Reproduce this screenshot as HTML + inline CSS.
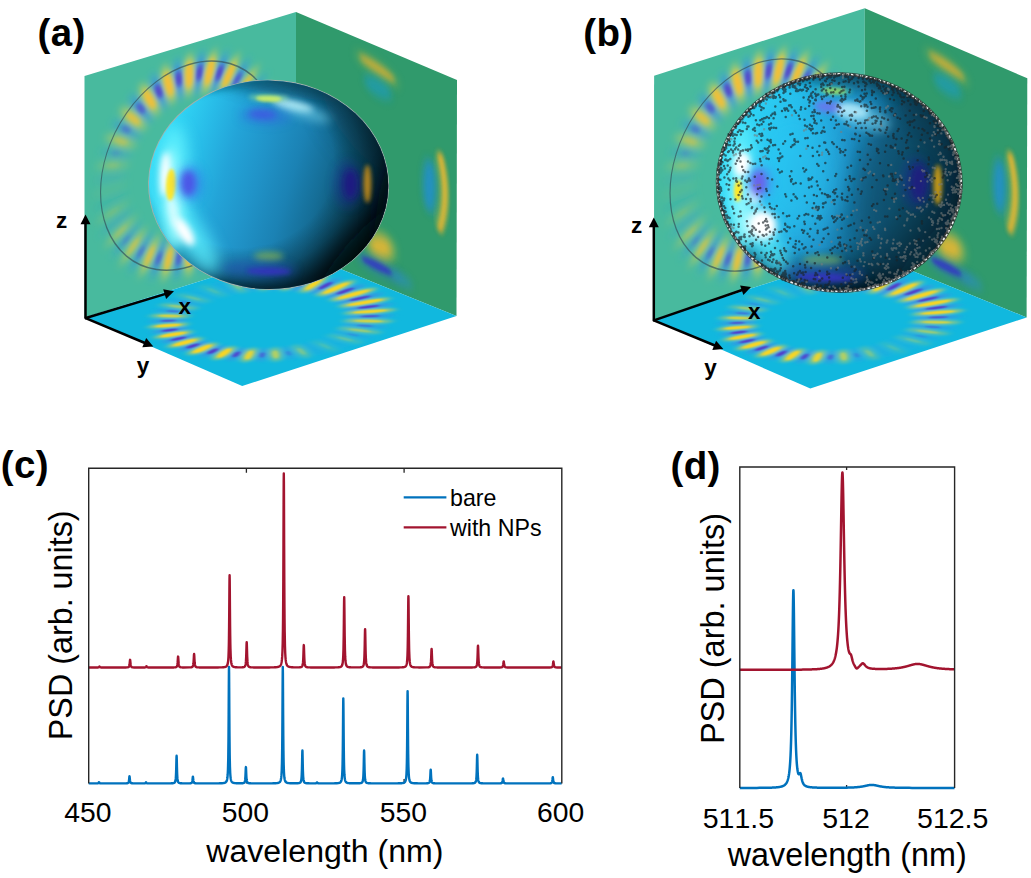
<!DOCTYPE html>
<html><head><meta charset="utf-8"><title>figure</title>
<style>
html,body{margin:0;padding:0;background:#fff;}
body{width:1031px;height:878px;overflow:hidden;}
svg{display:block;font-family:"Liberation Sans",sans-serif;fill:#000;font-kerning:none;}
</style></head><body>
<svg width="1031" height="878" viewBox="0 0 1031 878">
<defs>

<filter id="b1" x="-150%" y="-150%" width="400%" height="400%"><feGaussianBlur stdDeviation="1"/></filter>
<filter id="b15" x="-150%" y="-150%" width="400%" height="400%"><feGaussianBlur stdDeviation="1.6"/></filter>
<filter id="b2" x="-150%" y="-150%" width="400%" height="400%"><feGaussianBlur stdDeviation="2.2"/></filter>
<filter id="b3" x="-150%" y="-150%" width="400%" height="400%"><feGaussianBlur stdDeviation="3.2"/></filter>
<filter id="b5" x="-150%" y="-150%" width="400%" height="400%"><feGaussianBlur stdDeviation="5"/></filter>
<filter id="b8" x="-150%" y="-150%" width="400%" height="400%"><feGaussianBlur stdDeviation="8"/></filter>
<filter id="b14" x="-150%" y="-150%" width="400%" height="400%"><feGaussianBlur stdDeviation="14"/></filter>
<radialGradient id="sphA" cx="0.42" cy="0.45" r="0.62" fx="0.3" fy="0.42">
 <stop offset="0" stop-color="#2aa6d6"/><stop offset="0.45" stop-color="#1f93c4"/>
 <stop offset="0.8" stop-color="#136f96"/><stop offset="1" stop-color="#0a4058"/>
</radialGradient>

</defs>
<rect width="1031" height="878" fill="#fff"/>
<g id="pa">
<clipPath id="palw"><polygon points="84.5,76 296,12 296,251 84.5,317.5"/></clipPath>
<polygon points="84.5,76 296,12 296,251 84.5,317.5" fill="#48BA9E"/>
<g clip-path="url(#palw)"><g transform="matrix(0.88125 -0.26667 0.00000 1.00625 84.5 76)">
<g filter="url(#b3)"><ellipse cx="208.7" cy="120.5" rx="23.4" ry="5.7" transform="rotate(0.0 208.7 120.5)" fill="#b9cc66" opacity="0.04"/><ellipse cx="207.9" cy="132.2" rx="23.4" ry="5.5" transform="rotate(7.5 207.9 132.2)" fill="#3f9fdc" opacity="0.04"/><ellipse cx="205.6" cy="143.8" rx="23.4" ry="5.7" transform="rotate(15.0 205.6 143.8)" fill="#b9cc66" opacity="0.07"/><ellipse cx="201.8" cy="154.9" rx="23.4" ry="5.5" transform="rotate(22.5 201.8 154.9)" fill="#3f9fdc" opacity="0.09"/><ellipse cx="196.6" cy="165.5" rx="23.4" ry="5.7" transform="rotate(30.0 196.6 165.5)" fill="#b9cc66" opacity="0.15"/><ellipse cx="190.1" cy="175.3" rx="23.4" ry="5.5" transform="rotate(37.5 190.1 175.3)" fill="#3f9fdc" opacity="0.17"/><ellipse cx="182.3" cy="184.1" rx="23.4" ry="5.7" transform="rotate(45.0 182.3 184.1)" fill="#b9cc66" opacity="0.23"/><ellipse cx="173.5" cy="191.9" rx="23.4" ry="5.5" transform="rotate(52.5 173.5 191.9)" fill="#3f9fdc" opacity="0.25"/><ellipse cx="163.7" cy="198.4" rx="23.4" ry="5.7" transform="rotate(60.0 163.7 198.4)" fill="#b9cc66" opacity="0.31"/><ellipse cx="153.1" cy="203.6" rx="23.4" ry="5.5" transform="rotate(67.5 153.1 203.6)" fill="#3f9fdc" opacity="0.31"/><ellipse cx="142.0" cy="207.4" rx="23.4" ry="5.7" transform="rotate(75.0 142.0 207.4)" fill="#b9cc66" opacity="0.37"/><ellipse cx="130.4" cy="209.7" rx="23.4" ry="5.5" transform="rotate(82.5 130.4 209.7)" fill="#3f9fdc" opacity="0.35"/><ellipse cx="118.7" cy="210.5" rx="23.4" ry="5.7" transform="rotate(90.0 118.7 210.5)" fill="#b9cc66" opacity="0.39"/><ellipse cx="107.0" cy="209.7" rx="23.4" ry="5.5" transform="rotate(97.5 107.0 209.7)" fill="#3f9fdc" opacity="0.35"/><ellipse cx="95.4" cy="207.4" rx="23.4" ry="5.7" transform="rotate(105.0 95.4 207.4)" fill="#b9cc66" opacity="0.37"/><ellipse cx="84.3" cy="203.6" rx="23.4" ry="5.5" transform="rotate(112.5 84.3 203.6)" fill="#3f9fdc" opacity="0.31"/><ellipse cx="73.7" cy="198.4" rx="23.4" ry="5.7" transform="rotate(120.0 73.7 198.4)" fill="#b9cc66" opacity="0.31"/><ellipse cx="63.9" cy="191.9" rx="23.4" ry="5.5" transform="rotate(127.5 63.9 191.9)" fill="#3f9fdc" opacity="0.25"/><ellipse cx="55.1" cy="184.1" rx="23.4" ry="5.7" transform="rotate(135.0 55.1 184.1)" fill="#b9cc66" opacity="0.23"/><ellipse cx="47.3" cy="175.3" rx="23.4" ry="5.5" transform="rotate(142.5 47.3 175.3)" fill="#3f9fdc" opacity="0.17"/><ellipse cx="40.8" cy="165.5" rx="23.4" ry="5.7" transform="rotate(150.0 40.8 165.5)" fill="#b9cc66" opacity="0.15"/><ellipse cx="35.6" cy="154.9" rx="23.4" ry="5.5" transform="rotate(157.5 35.6 154.9)" fill="#3f9fdc" opacity="0.09"/><ellipse cx="31.8" cy="143.8" rx="23.4" ry="5.7" transform="rotate(165.0 31.8 143.8)" fill="#b9cc66" opacity="0.07"/><ellipse cx="29.5" cy="132.2" rx="23.4" ry="5.5" transform="rotate(172.5 29.5 132.2)" fill="#3f9fdc" opacity="0.04"/><ellipse cx="28.7" cy="120.5" rx="23.4" ry="5.7" transform="rotate(180.0 28.7 120.5)" fill="#b9cc66" opacity="0.03"/><ellipse cx="29.5" cy="108.8" rx="23.4" ry="5.5" transform="rotate(187.5 29.5 108.8)" fill="#3f9fdc" opacity="0.05"/><ellipse cx="31.8" cy="97.2" rx="23.4" ry="5.7" transform="rotate(195.0 31.8 97.2)" fill="#b9cc66" opacity="0.10"/><ellipse cx="35.6" cy="86.1" rx="23.4" ry="5.5" transform="rotate(202.5 35.6 86.1)" fill="#3f9fdc" opacity="0.13"/><ellipse cx="40.8" cy="75.5" rx="23.4" ry="5.7" transform="rotate(210.0 40.8 75.5)" fill="#b9cc66" opacity="0.21"/><ellipse cx="47.3" cy="65.7" rx="23.4" ry="5.5" transform="rotate(217.5 47.3 65.7)" fill="#3f9fdc" opacity="0.25"/><ellipse cx="55.1" cy="56.9" rx="23.4" ry="5.7" transform="rotate(225.0 55.1 56.9)" fill="#b9cc66" opacity="0.33"/><ellipse cx="63.9" cy="49.1" rx="23.4" ry="5.5" transform="rotate(232.5 63.9 49.1)" fill="#3f9fdc" opacity="0.36"/><ellipse cx="73.7" cy="42.6" rx="23.4" ry="5.7" transform="rotate(240.0 73.7 42.6)" fill="#b9cc66" opacity="0.44"/><ellipse cx="84.3" cy="37.4" rx="23.4" ry="5.5" transform="rotate(247.5 84.3 37.4)" fill="#3f9fdc" opacity="0.44"/><ellipse cx="95.4" cy="33.6" rx="23.4" ry="5.7" transform="rotate(255.0 95.4 33.6)" fill="#b9cc66" opacity="0.52"/><ellipse cx="107.0" cy="31.3" rx="23.4" ry="5.5" transform="rotate(262.5 107.0 31.3)" fill="#3f9fdc" opacity="0.49"/><ellipse cx="118.7" cy="30.5" rx="23.4" ry="5.7" transform="rotate(270.0 118.7 30.5)" fill="#b9cc66" opacity="0.55"/><ellipse cx="130.4" cy="31.3" rx="23.4" ry="5.5" transform="rotate(277.5 130.4 31.3)" fill="#3f9fdc" opacity="0.49"/><ellipse cx="142.0" cy="33.6" rx="23.4" ry="5.7" transform="rotate(285.0 142.0 33.6)" fill="#b9cc66" opacity="0.52"/><ellipse cx="153.1" cy="37.4" rx="23.4" ry="5.5" transform="rotate(292.5 153.1 37.4)" fill="#3f9fdc" opacity="0.44"/><ellipse cx="163.7" cy="42.6" rx="23.4" ry="5.7" transform="rotate(300.0 163.7 42.6)" fill="#b9cc66" opacity="0.44"/><ellipse cx="173.5" cy="49.1" rx="23.4" ry="5.5" transform="rotate(307.5 173.5 49.1)" fill="#3f9fdc" opacity="0.36"/><ellipse cx="182.3" cy="56.9" rx="23.4" ry="5.7" transform="rotate(315.0 182.3 56.9)" fill="#b9cc66" opacity="0.33"/><ellipse cx="190.1" cy="65.7" rx="23.4" ry="5.5" transform="rotate(322.5 190.1 65.7)" fill="#3f9fdc" opacity="0.25"/><ellipse cx="196.6" cy="75.5" rx="23.4" ry="5.7" transform="rotate(330.0 196.6 75.5)" fill="#b9cc66" opacity="0.21"/><ellipse cx="201.8" cy="86.1" rx="23.4" ry="5.5" transform="rotate(337.5 201.8 86.1)" fill="#3f9fdc" opacity="0.13"/><ellipse cx="205.6" cy="97.2" rx="23.4" ry="5.7" transform="rotate(345.0 205.6 97.2)" fill="#b9cc66" opacity="0.10"/><ellipse cx="207.9" cy="108.8" rx="23.4" ry="5.5" transform="rotate(352.5 207.9 108.8)" fill="#3f9fdc" opacity="0.05"/></g><g filter="url(#b3)"><ellipse cx="208.7" cy="120.5" rx="17.0" ry="5.5" transform="rotate(0.0 208.7 120.5)" fill="#cfd058" opacity="0.06"/><ellipse cx="207.9" cy="132.2" rx="15.6" ry="4.8" transform="rotate(7.5 207.9 132.2)" fill="#3a8ee4" opacity="0.06"/><ellipse cx="205.6" cy="143.8" rx="17.0" ry="5.5" transform="rotate(15.0 205.6 143.8)" fill="#cfd058" opacity="0.11"/><ellipse cx="201.8" cy="154.9" rx="15.6" ry="4.8" transform="rotate(22.5 201.8 154.9)" fill="#3a8ee4" opacity="0.15"/><ellipse cx="196.6" cy="165.5" rx="17.0" ry="5.5" transform="rotate(30.0 196.6 165.5)" fill="#cfd058" opacity="0.24"/><ellipse cx="190.1" cy="175.3" rx="15.6" ry="4.8" transform="rotate(37.5 190.1 175.3)" fill="#3a8ee4" opacity="0.27"/><ellipse cx="182.3" cy="184.1" rx="17.0" ry="5.5" transform="rotate(45.0 182.3 184.1)" fill="#cfd058" opacity="0.38"/><ellipse cx="173.5" cy="191.9" rx="15.6" ry="4.8" transform="rotate(52.5 173.5 191.9)" fill="#3a8ee4" opacity="0.40"/><ellipse cx="163.7" cy="198.4" rx="17.0" ry="5.5" transform="rotate(60.0 163.7 198.4)" fill="#cfd058" opacity="0.51"/><ellipse cx="153.1" cy="203.6" rx="15.6" ry="4.8" transform="rotate(67.5 153.1 203.6)" fill="#3a8ee4" opacity="0.50"/><ellipse cx="142.0" cy="207.4" rx="17.0" ry="5.5" transform="rotate(75.0 142.0 207.4)" fill="#cfd058" opacity="0.60"/><ellipse cx="130.4" cy="209.7" rx="15.6" ry="4.8" transform="rotate(82.5 130.4 209.7)" fill="#3a8ee4" opacity="0.55"/><ellipse cx="118.7" cy="210.5" rx="17.0" ry="5.5" transform="rotate(90.0 118.7 210.5)" fill="#cfd058" opacity="0.63"/><ellipse cx="107.0" cy="209.7" rx="15.6" ry="4.8" transform="rotate(97.5 107.0 209.7)" fill="#3a8ee4" opacity="0.55"/><ellipse cx="95.4" cy="207.4" rx="17.0" ry="5.5" transform="rotate(105.0 95.4 207.4)" fill="#cfd058" opacity="0.60"/><ellipse cx="84.3" cy="203.6" rx="15.6" ry="4.8" transform="rotate(112.5 84.3 203.6)" fill="#3a8ee4" opacity="0.50"/><ellipse cx="73.7" cy="198.4" rx="17.0" ry="5.5" transform="rotate(120.0 73.7 198.4)" fill="#cfd058" opacity="0.51"/><ellipse cx="63.9" cy="191.9" rx="15.6" ry="4.8" transform="rotate(127.5 63.9 191.9)" fill="#3a8ee4" opacity="0.40"/><ellipse cx="55.1" cy="184.1" rx="17.0" ry="5.5" transform="rotate(135.0 55.1 184.1)" fill="#cfd058" opacity="0.38"/><ellipse cx="47.3" cy="175.3" rx="15.6" ry="4.8" transform="rotate(142.5 47.3 175.3)" fill="#3a8ee4" opacity="0.27"/><ellipse cx="40.8" cy="165.5" rx="17.0" ry="5.5" transform="rotate(150.0 40.8 165.5)" fill="#cfd058" opacity="0.24"/><ellipse cx="35.6" cy="154.9" rx="15.6" ry="4.8" transform="rotate(157.5 35.6 154.9)" fill="#3a8ee4" opacity="0.15"/><ellipse cx="31.8" cy="143.8" rx="17.0" ry="5.5" transform="rotate(165.0 31.8 143.8)" fill="#cfd058" opacity="0.11"/><ellipse cx="29.5" cy="132.2" rx="15.6" ry="4.8" transform="rotate(172.5 29.5 132.2)" fill="#3a8ee4" opacity="0.06"/><ellipse cx="28.7" cy="120.5" rx="17.0" ry="5.5" transform="rotate(180.0 28.7 120.5)" fill="#cfd058" opacity="0.04"/><ellipse cx="29.5" cy="108.8" rx="15.6" ry="4.8" transform="rotate(187.5 29.5 108.8)" fill="#3a8ee4" opacity="0.08"/><ellipse cx="31.8" cy="97.2" rx="17.0" ry="5.5" transform="rotate(195.0 31.8 97.2)" fill="#cfd058" opacity="0.16"/><ellipse cx="35.6" cy="86.1" rx="15.6" ry="4.8" transform="rotate(202.5 35.6 86.1)" fill="#3a8ee4" opacity="0.22"/><ellipse cx="40.8" cy="75.5" rx="17.0" ry="5.5" transform="rotate(210.0 40.8 75.5)" fill="#cfd058" opacity="0.34"/><ellipse cx="47.3" cy="65.7" rx="15.6" ry="4.8" transform="rotate(217.5 47.3 65.7)" fill="#3a8ee4" opacity="0.39"/><ellipse cx="55.1" cy="56.9" rx="17.0" ry="5.5" transform="rotate(225.0 55.1 56.9)" fill="#cfd058" opacity="0.54"/><ellipse cx="63.9" cy="49.1" rx="15.6" ry="4.8" transform="rotate(232.5 63.9 49.1)" fill="#3a8ee4" opacity="0.57"/><ellipse cx="73.7" cy="42.6" rx="17.0" ry="5.5" transform="rotate(240.0 73.7 42.6)" fill="#cfd058" opacity="0.73"/><ellipse cx="84.3" cy="37.4" rx="15.6" ry="4.8" transform="rotate(247.5 84.3 37.4)" fill="#3a8ee4" opacity="0.71"/><ellipse cx="95.4" cy="33.6" rx="17.0" ry="5.5" transform="rotate(255.0 95.4 33.6)" fill="#cfd058" opacity="0.85"/><ellipse cx="107.0" cy="31.3" rx="15.6" ry="4.8" transform="rotate(262.5 107.0 31.3)" fill="#3a8ee4" opacity="0.79"/><ellipse cx="118.7" cy="30.5" rx="17.0" ry="5.5" transform="rotate(270.0 118.7 30.5)" fill="#cfd058" opacity="0.90"/><ellipse cx="130.4" cy="31.3" rx="15.6" ry="4.8" transform="rotate(277.5 130.4 31.3)" fill="#3a8ee4" opacity="0.79"/><ellipse cx="142.0" cy="33.6" rx="17.0" ry="5.5" transform="rotate(285.0 142.0 33.6)" fill="#cfd058" opacity="0.85"/><ellipse cx="153.1" cy="37.4" rx="15.6" ry="4.8" transform="rotate(292.5 153.1 37.4)" fill="#3a8ee4" opacity="0.71"/><ellipse cx="163.7" cy="42.6" rx="17.0" ry="5.5" transform="rotate(300.0 163.7 42.6)" fill="#cfd058" opacity="0.73"/><ellipse cx="173.5" cy="49.1" rx="15.6" ry="4.8" transform="rotate(307.5 173.5 49.1)" fill="#3a8ee4" opacity="0.57"/><ellipse cx="182.3" cy="56.9" rx="17.0" ry="5.5" transform="rotate(315.0 182.3 56.9)" fill="#cfd058" opacity="0.54"/><ellipse cx="190.1" cy="65.7" rx="15.6" ry="4.8" transform="rotate(322.5 190.1 65.7)" fill="#3a8ee4" opacity="0.39"/><ellipse cx="196.6" cy="75.5" rx="17.0" ry="5.5" transform="rotate(330.0 196.6 75.5)" fill="#cfd058" opacity="0.34"/><ellipse cx="201.8" cy="86.1" rx="15.6" ry="4.8" transform="rotate(337.5 201.8 86.1)" fill="#3a8ee4" opacity="0.22"/><ellipse cx="205.6" cy="97.2" rx="17.0" ry="5.5" transform="rotate(345.0 205.6 97.2)" fill="#cfd058" opacity="0.16"/><ellipse cx="207.9" cy="108.8" rx="15.6" ry="4.8" transform="rotate(352.5 207.9 108.8)" fill="#3a8ee4" opacity="0.08"/></g><g filter="url(#b2)"><ellipse cx="205.6" cy="143.8" rx="7.8" ry="2.3" transform="rotate(15.0 205.6 143.8)" fill="#dcc743" opacity="0.17"/><ellipse cx="196.6" cy="165.5" rx="8.7" ry="2.6" transform="rotate(30.0 196.6 165.5)" fill="#e1c540" opacity="0.37"/><ellipse cx="190.1" cy="175.3" rx="5.7" ry="2.0" transform="rotate(37.5 190.1 175.3)" fill="#4857d7" opacity="0.41"/><ellipse cx="182.3" cy="184.1" rx="9.7" ry="2.9" transform="rotate(45.0 182.3 184.1)" fill="#e7c33d" opacity="0.59"/><ellipse cx="173.5" cy="191.9" rx="6.4" ry="2.3" transform="rotate(52.5 173.5 191.9)" fill="#4c4dd2" opacity="0.60"/><ellipse cx="163.7" cy="198.4" rx="10.6" ry="3.1" transform="rotate(60.0 163.7 198.4)" fill="#ecc13a" opacity="0.79"/><ellipse cx="153.1" cy="203.6" rx="6.9" ry="2.5" transform="rotate(67.5 153.1 203.6)" fill="#4f44ce" opacity="0.75"/><ellipse cx="142.0" cy="207.4" rx="11.2" ry="3.3" transform="rotate(75.0 142.0 207.4)" fill="#f0c038" opacity="0.93"/><ellipse cx="130.4" cy="209.7" rx="7.2" ry="2.6" transform="rotate(82.5 130.4 209.7)" fill="#5140cc" opacity="0.83"/><ellipse cx="118.7" cy="210.5" rx="11.5" ry="3.4" transform="rotate(90.0 118.7 210.5)" fill="#f1c037" opacity="0.98"/><ellipse cx="107.0" cy="209.7" rx="7.2" ry="2.6" transform="rotate(97.5 107.0 209.7)" fill="#5140cc" opacity="0.83"/><ellipse cx="95.4" cy="207.4" rx="11.2" ry="3.3" transform="rotate(105.0 95.4 207.4)" fill="#f0c038" opacity="0.93"/><ellipse cx="84.3" cy="203.6" rx="6.9" ry="2.5" transform="rotate(112.5 84.3 203.6)" fill="#4f44ce" opacity="0.75"/><ellipse cx="73.7" cy="198.4" rx="10.6" ry="3.1" transform="rotate(120.0 73.7 198.4)" fill="#ecc13a" opacity="0.79"/><ellipse cx="63.9" cy="191.9" rx="6.4" ry="2.3" transform="rotate(127.5 63.9 191.9)" fill="#4c4dd2" opacity="0.60"/><ellipse cx="55.1" cy="184.1" rx="9.7" ry="2.9" transform="rotate(135.0 55.1 184.1)" fill="#e7c33d" opacity="0.59"/><ellipse cx="47.3" cy="175.3" rx="5.7" ry="2.0" transform="rotate(142.5 47.3 175.3)" fill="#4857d7" opacity="0.41"/><ellipse cx="40.8" cy="165.5" rx="8.7" ry="2.6" transform="rotate(150.0 40.8 165.5)" fill="#e1c540" opacity="0.37"/><ellipse cx="31.8" cy="143.8" rx="7.8" ry="2.3" transform="rotate(165.0 31.8 143.8)" fill="#dcc743" opacity="0.17"/><ellipse cx="31.8" cy="97.2" rx="8.1" ry="2.4" transform="rotate(195.0 31.8 97.2)" fill="#dec642" opacity="0.25"/><ellipse cx="35.6" cy="86.1" rx="5.3" ry="1.9" transform="rotate(202.5 35.6 86.1)" fill="#465cd9" opacity="0.32"/><ellipse cx="40.8" cy="75.5" rx="9.4" ry="2.8" transform="rotate(210.0 40.8 75.5)" fill="#e5c33e" opacity="0.53"/><ellipse cx="47.3" cy="65.7" rx="6.3" ry="2.3" transform="rotate(217.5 47.3 65.7)" fill="#4c4dd2" opacity="0.59"/><ellipse cx="55.1" cy="56.9" rx="10.9" ry="3.2" transform="rotate(225.0 55.1 56.9)" fill="#edc139" opacity="0.85"/><ellipse cx="63.9" cy="49.1" rx="7.3" ry="2.6" transform="rotate(232.5 63.9 49.1)" fill="#513ecc" opacity="0.85"/><ellipse cx="73.7" cy="42.6" rx="12.1" ry="3.6" transform="rotate(240.0 73.7 42.6)" fill="#f5be35" opacity="1.00"/><ellipse cx="84.3" cy="37.4" rx="8.1" ry="2.9" transform="rotate(247.5 84.3 37.4)" fill="#5436c8" opacity="1.00"/><ellipse cx="95.4" cy="33.6" rx="12.8" ry="3.8" transform="rotate(255.0 95.4 33.6)" fill="#f6be34" opacity="1.00"/><ellipse cx="107.0" cy="31.3" rx="8.2" ry="2.9" transform="rotate(262.5 107.0 31.3)" fill="#5436c8" opacity="1.00"/><ellipse cx="118.7" cy="30.5" rx="12.8" ry="3.8" transform="rotate(270.0 118.7 30.5)" fill="#f6be34" opacity="1.00"/><ellipse cx="130.4" cy="31.3" rx="8.2" ry="2.9" transform="rotate(277.5 130.4 31.3)" fill="#5436c8" opacity="1.00"/><ellipse cx="142.0" cy="33.6" rx="12.8" ry="3.8" transform="rotate(285.0 142.0 33.6)" fill="#f6be34" opacity="1.00"/><ellipse cx="153.1" cy="37.4" rx="8.1" ry="2.9" transform="rotate(292.5 153.1 37.4)" fill="#5436c8" opacity="1.00"/><ellipse cx="163.7" cy="42.6" rx="12.1" ry="3.6" transform="rotate(300.0 163.7 42.6)" fill="#f5be35" opacity="1.00"/><ellipse cx="173.5" cy="49.1" rx="7.3" ry="2.6" transform="rotate(307.5 173.5 49.1)" fill="#513ecc" opacity="0.85"/><ellipse cx="182.3" cy="56.9" rx="10.9" ry="3.2" transform="rotate(315.0 182.3 56.9)" fill="#edc139" opacity="0.85"/><ellipse cx="190.1" cy="65.7" rx="6.3" ry="2.3" transform="rotate(322.5 190.1 65.7)" fill="#4c4dd2" opacity="0.59"/><ellipse cx="196.6" cy="75.5" rx="9.4" ry="2.8" transform="rotate(330.0 196.6 75.5)" fill="#e5c33e" opacity="0.53"/><ellipse cx="201.8" cy="86.1" rx="5.3" ry="1.9" transform="rotate(337.5 201.8 86.1)" fill="#465cd9" opacity="0.32"/><ellipse cx="205.6" cy="97.2" rx="8.1" ry="2.4" transform="rotate(345.0 205.6 97.2)" fill="#dec642" opacity="0.25"/></g>
<circle cx="118.7" cy="120.5" r="100.5" fill="none" stroke="#34565e" stroke-width="1.3" opacity="0.72"/>
</g></g>
<clipPath id="parw"><polygon points="296,12 457,80 456.5,316 296,251"/></clipPath>
<polygon points="296,12 457,80 456.5,316 296,251" fill="#309A6C"/>
<g clip-path="url(#parw)"><g transform="matrix(0.67083 0.28333 0.00000 0.99583 296 12)">
<ellipse cx="121" cy="22" rx="27" ry="4.6" transform="rotate(10 121 22)" fill="#eaa628" opacity="0.85" filter="url(#b3)"/><ellipse cx="121" cy="23" rx="34" ry="9" transform="rotate(10 121 23)" fill="#a8c050" opacity="0.35" filter="url(#b5)"/><ellipse cx="122" cy="41" rx="21" ry="9" transform="rotate(6 122 41)" fill="#1c9cbc" opacity="0.7" filter="url(#b5)"/><path d="M215 84Q229 120 215 156" fill="none" stroke="#f0b22c" stroke-width="8.5" stroke-linecap="round" opacity="0.95" filter="url(#b3)"/><path d="M214 92Q226 120 214 148" fill="none" stroke="#c8c850" stroke-width="16" stroke-linecap="round" opacity="0.3" filter="url(#b5)"/><ellipse cx="199" cy="118" rx="9.5" ry="27" transform="rotate(0 199 118)" fill="#2090cc" opacity="0.9" filter="url(#b5)"/><ellipse cx="126" cy="200" rx="17" ry="10.5" transform="rotate(-8 126 200)" fill="#f0ac2a" opacity="0.97" filter="url(#b5)"/><ellipse cx="126" cy="200" rx="26" ry="16" transform="rotate(-8 126 200)" fill="#b8c850" opacity="0.35" filter="url(#b5)"/><ellipse cx="121" cy="220.5" rx="23" ry="4.0" transform="rotate(3 121 220.5)" fill="#3a22b0" opacity="1" filter="url(#b2)"/><ellipse cx="124" cy="221" rx="34" ry="8" transform="rotate(3 124 221)" fill="#2a6fd0" opacity="0.45" filter="url(#b5)"/><ellipse cx="158" cy="224" rx="16" ry="6" transform="rotate(3 158 224)" fill="#2a8fcf" opacity="0.55" filter="url(#b5)"/>
</g></g>
<clipPath id="pafl"><polygon points="84.5,317.5 296,251 456.5,316 242.2,386"/></clipPath>
<polygon points="84.5,317.5 296,251 456.5,316 242.2,386" fill="#11B8DE"/>
<g clip-path="url(#pafl)"><g transform="matrix(0.88125 -0.27708 0.65708 0.28542 84.5 317.5)">
<g filter="url(#b3)"><ellipse cx="211.9" cy="125.0" rx="25.0" ry="5.3" transform="rotate(3.1 211.9 125.0)" fill="#b9cc66" opacity="0.55"/><ellipse cx="210.4" cy="136.9" rx="24.9" ry="5.1" transform="rotate(10.6 210.4 136.9)" fill="#3f9fdc" opacity="0.49"/><ellipse cx="207.4" cy="148.6" rx="24.8" ry="5.3" transform="rotate(18.1 207.4 148.6)" fill="#b9cc66" opacity="0.51"/><ellipse cx="203.0" cy="159.8" rx="24.6" ry="5.1" transform="rotate(25.6 203.0 159.8)" fill="#3f9fdc" opacity="0.44"/><ellipse cx="197.1" cy="170.2" rx="24.4" ry="5.3" transform="rotate(33.1 197.1 170.2)" fill="#b9cc66" opacity="0.44"/><ellipse cx="189.9" cy="179.9" rx="24.2" ry="5.1" transform="rotate(40.6 189.9 179.9)" fill="#3f9fdc" opacity="0.35"/><ellipse cx="181.4" cy="188.5" rx="23.9" ry="5.3" transform="rotate(48.1 181.4 188.5)" fill="#b9cc66" opacity="0.33"/><ellipse cx="172.0" cy="195.9" rx="23.5" ry="5.1" transform="rotate(55.6 172.0 195.9)" fill="#3f9fdc" opacity="0.25"/><ellipse cx="161.6" cy="202.0" rx="23.1" ry="5.3" transform="rotate(63.1 161.6 202.0)" fill="#b9cc66" opacity="0.21"/><ellipse cx="150.6" cy="206.8" rx="22.7" ry="5.1" transform="rotate(70.6 150.6 206.8)" fill="#3f9fdc" opacity="0.14"/><ellipse cx="139.0" cy="210.0" rx="22.3" ry="5.3" transform="rotate(78.1 139.0 210.0)" fill="#b9cc66" opacity="0.11"/><ellipse cx="127.1" cy="211.7" rx="21.9" ry="5.1" transform="rotate(85.6 127.1 211.7)" fill="#3f9fdc" opacity="0.07"/><ellipse cx="115.0" cy="211.9" rx="21.4" ry="5.3" transform="rotate(93.1 115.0 211.9)" fill="#b9cc66" opacity="0.07"/><ellipse cx="103.1" cy="210.4" rx="21.0" ry="5.1" transform="rotate(100.6 103.1 210.4)" fill="#3f9fdc" opacity="0.09"/><ellipse cx="91.4" cy="207.4" rx="20.6" ry="5.3" transform="rotate(108.1 91.4 207.4)" fill="#b9cc66" opacity="0.15"/><ellipse cx="80.2" cy="203.0" rx="20.1" ry="5.1" transform="rotate(115.6 80.2 203.0)" fill="#3f9fdc" opacity="0.18"/><ellipse cx="69.8" cy="197.1" rx="19.8" ry="5.3" transform="rotate(123.1 69.8 197.1)" fill="#b9cc66" opacity="0.26"/><ellipse cx="60.1" cy="189.9" rx="19.4" ry="5.1" transform="rotate(130.6 60.1 189.9)" fill="#3f9fdc" opacity="0.29"/><ellipse cx="51.5" cy="181.4" rx="19.1" ry="5.3" transform="rotate(138.1 51.5 181.4)" fill="#b9cc66" opacity="0.38"/><ellipse cx="44.1" cy="172.0" rx="18.8" ry="5.1" transform="rotate(145.6 44.1 172.0)" fill="#3f9fdc" opacity="0.39"/><ellipse cx="38.0" cy="161.6" rx="18.6" ry="5.3" transform="rotate(153.1 38.0 161.6)" fill="#b9cc66" opacity="0.47"/><ellipse cx="33.2" cy="150.6" rx="18.4" ry="5.1" transform="rotate(160.6 33.2 150.6)" fill="#3f9fdc" opacity="0.46"/><ellipse cx="30.0" cy="139.0" rx="18.3" ry="5.3" transform="rotate(168.1 30.0 139.0)" fill="#b9cc66" opacity="0.53"/><ellipse cx="28.3" cy="127.1" rx="18.2" ry="5.1" transform="rotate(175.6 28.3 127.1)" fill="#3f9fdc" opacity="0.50"/><ellipse cx="28.1" cy="115.0" rx="18.2" ry="5.3" transform="rotate(183.1 28.1 115.0)" fill="#b9cc66" opacity="0.55"/><ellipse cx="29.6" cy="103.1" rx="18.3" ry="5.1" transform="rotate(190.6 29.6 103.1)" fill="#3f9fdc" opacity="0.49"/><ellipse cx="32.6" cy="91.4" rx="18.4" ry="5.3" transform="rotate(198.1 32.6 91.4)" fill="#b9cc66" opacity="0.51"/><ellipse cx="37.0" cy="80.2" rx="18.6" ry="5.1" transform="rotate(205.6 37.0 80.2)" fill="#3f9fdc" opacity="0.44"/><ellipse cx="42.9" cy="69.8" rx="18.8" ry="5.3" transform="rotate(213.1 42.9 69.8)" fill="#b9cc66" opacity="0.44"/><ellipse cx="50.1" cy="60.1" rx="19.0" ry="5.1" transform="rotate(220.6 50.1 60.1)" fill="#3f9fdc" opacity="0.35"/><ellipse cx="58.6" cy="51.5" rx="19.3" ry="5.3" transform="rotate(228.1 58.6 51.5)" fill="#b9cc66" opacity="0.33"/><ellipse cx="68.0" cy="44.1" rx="19.7" ry="5.1" transform="rotate(235.6 68.0 44.1)" fill="#3f9fdc" opacity="0.25"/><ellipse cx="78.4" cy="38.0" rx="20.1" ry="5.3" transform="rotate(243.1 78.4 38.0)" fill="#b9cc66" opacity="0.21"/><ellipse cx="89.4" cy="33.2" rx="20.5" ry="5.1" transform="rotate(250.6 89.4 33.2)" fill="#3f9fdc" opacity="0.14"/><ellipse cx="101.0" cy="30.0" rx="20.9" ry="5.3" transform="rotate(258.1 101.0 30.0)" fill="#b9cc66" opacity="0.11"/><ellipse cx="112.9" cy="28.3" rx="21.3" ry="5.1" transform="rotate(265.6 112.9 28.3)" fill="#3f9fdc" opacity="0.07"/><ellipse cx="125.0" cy="28.1" rx="21.8" ry="5.3" transform="rotate(273.1 125.0 28.1)" fill="#b9cc66" opacity="0.07"/><ellipse cx="136.9" cy="29.6" rx="22.2" ry="5.1" transform="rotate(280.6 136.9 29.6)" fill="#3f9fdc" opacity="0.09"/><ellipse cx="148.6" cy="32.6" rx="22.6" ry="5.3" transform="rotate(288.1 148.6 32.6)" fill="#b9cc66" opacity="0.15"/><ellipse cx="159.8" cy="37.0" rx="23.1" ry="5.1" transform="rotate(295.6 159.8 37.0)" fill="#3f9fdc" opacity="0.18"/><ellipse cx="170.2" cy="42.9" rx="23.4" ry="5.3" transform="rotate(303.1 170.2 42.9)" fill="#b9cc66" opacity="0.26"/><ellipse cx="179.9" cy="50.1" rx="23.8" ry="5.1" transform="rotate(310.6 179.9 50.1)" fill="#3f9fdc" opacity="0.29"/><ellipse cx="188.5" cy="58.6" rx="24.1" ry="5.3" transform="rotate(318.1 188.5 58.6)" fill="#b9cc66" opacity="0.38"/><ellipse cx="195.9" cy="68.0" rx="24.4" ry="5.1" transform="rotate(325.6 195.9 68.0)" fill="#3f9fdc" opacity="0.39"/><ellipse cx="202.0" cy="78.4" rx="24.6" ry="5.3" transform="rotate(333.1 202.0 78.4)" fill="#b9cc66" opacity="0.47"/><ellipse cx="206.8" cy="89.4" rx="24.8" ry="5.1" transform="rotate(340.6 206.8 89.4)" fill="#3f9fdc" opacity="0.46"/><ellipse cx="210.0" cy="101.0" rx="24.9" ry="5.3" transform="rotate(348.1 210.0 101.0)" fill="#b9cc66" opacity="0.53"/><ellipse cx="211.7" cy="112.9" rx="25.0" ry="5.1" transform="rotate(355.6 211.7 112.9)" fill="#3f9fdc" opacity="0.50"/></g><g filter="url(#b3)"><ellipse cx="211.9" cy="125.0" rx="22.2" ry="5.1" transform="rotate(3.1 211.9 125.0)" fill="#cfd058" opacity="0.90"/><ellipse cx="210.4" cy="136.9" rx="20.3" ry="4.5" transform="rotate(10.6 210.4 136.9)" fill="#3a8ee4" opacity="0.78"/><ellipse cx="207.4" cy="148.6" rx="22.1" ry="5.1" transform="rotate(18.1 207.4 148.6)" fill="#cfd058" opacity="0.84"/><ellipse cx="203.0" cy="159.8" rx="20.1" ry="4.5" transform="rotate(25.6 203.0 159.8)" fill="#3a8ee4" opacity="0.70"/><ellipse cx="197.1" cy="170.2" rx="21.7" ry="5.1" transform="rotate(33.1 197.1 170.2)" fill="#cfd058" opacity="0.72"/><ellipse cx="189.9" cy="179.9" rx="19.7" ry="4.5" transform="rotate(40.6 189.9 179.9)" fill="#3a8ee4" opacity="0.56"/><ellipse cx="181.4" cy="188.5" rx="21.2" ry="5.1" transform="rotate(48.1 181.4 188.5)" fill="#cfd058" opacity="0.54"/><ellipse cx="172.0" cy="195.9" rx="19.2" ry="4.5" transform="rotate(55.6 172.0 195.9)" fill="#3a8ee4" opacity="0.39"/><ellipse cx="161.6" cy="202.0" rx="20.6" ry="5.1" transform="rotate(63.1 161.6 202.0)" fill="#cfd058" opacity="0.35"/><ellipse cx="150.6" cy="206.8" rx="18.5" ry="4.5" transform="rotate(70.6 150.6 206.8)" fill="#3a8ee4" opacity="0.23"/><ellipse cx="139.0" cy="210.0" rx="19.8" ry="5.1" transform="rotate(78.1 139.0 210.0)" fill="#cfd058" opacity="0.18"/><ellipse cx="127.1" cy="211.7" rx="17.8" ry="4.5" transform="rotate(85.6 127.1 211.7)" fill="#3a8ee4" opacity="0.11"/><ellipse cx="115.0" cy="211.9" rx="19.0" ry="5.1" transform="rotate(93.1 115.0 211.9)" fill="#cfd058" opacity="0.12"/><ellipse cx="103.1" cy="210.4" rx="17.1" ry="4.5" transform="rotate(100.6 103.1 210.4)" fill="#3a8ee4" opacity="0.15"/><ellipse cx="91.4" cy="207.4" rx="18.3" ry="5.1" transform="rotate(108.1 91.4 207.4)" fill="#cfd058" opacity="0.25"/><ellipse cx="80.2" cy="203.0" rx="16.4" ry="4.5" transform="rotate(115.6 80.2 203.0)" fill="#3a8ee4" opacity="0.30"/><ellipse cx="69.8" cy="197.1" rx="17.6" ry="5.1" transform="rotate(123.1 69.8 197.1)" fill="#cfd058" opacity="0.43"/><ellipse cx="60.1" cy="189.9" rx="15.8" ry="4.5" transform="rotate(130.6 60.1 189.9)" fill="#3a8ee4" opacity="0.47"/><ellipse cx="51.5" cy="181.4" rx="17.0" ry="5.1" transform="rotate(138.1 51.5 181.4)" fill="#cfd058" opacity="0.62"/><ellipse cx="44.1" cy="172.0" rx="15.3" ry="4.5" transform="rotate(145.6 44.1 172.0)" fill="#3a8ee4" opacity="0.62"/><ellipse cx="38.0" cy="161.6" rx="16.5" ry="5.1" transform="rotate(153.1 38.0 161.6)" fill="#cfd058" opacity="0.77"/><ellipse cx="33.2" cy="150.6" rx="15.0" ry="4.5" transform="rotate(160.6 33.2 150.6)" fill="#3a8ee4" opacity="0.74"/><ellipse cx="30.0" cy="139.0" rx="16.3" ry="5.1" transform="rotate(168.1 30.0 139.0)" fill="#cfd058" opacity="0.87"/><ellipse cx="28.3" cy="127.1" rx="14.9" ry="4.5" transform="rotate(175.6 28.3 127.1)" fill="#3a8ee4" opacity="0.80"/><ellipse cx="28.1" cy="115.0" rx="16.2" ry="5.1" transform="rotate(183.1 28.1 115.0)" fill="#cfd058" opacity="0.90"/><ellipse cx="29.6" cy="103.1" rx="14.9" ry="4.5" transform="rotate(190.6 29.6 103.1)" fill="#3a8ee4" opacity="0.78"/><ellipse cx="32.6" cy="91.4" rx="16.3" ry="5.1" transform="rotate(198.1 32.6 91.4)" fill="#cfd058" opacity="0.84"/><ellipse cx="37.0" cy="80.2" rx="15.1" ry="4.5" transform="rotate(205.6 37.0 80.2)" fill="#3a8ee4" opacity="0.70"/><ellipse cx="42.9" cy="69.8" rx="16.7" ry="5.1" transform="rotate(213.1 42.9 69.8)" fill="#cfd058" opacity="0.72"/><ellipse cx="50.1" cy="60.1" rx="15.5" ry="4.5" transform="rotate(220.6 50.1 60.1)" fill="#3a8ee4" opacity="0.56"/><ellipse cx="58.6" cy="51.5" rx="17.2" ry="5.1" transform="rotate(228.1 58.6 51.5)" fill="#cfd058" opacity="0.54"/><ellipse cx="68.0" cy="44.1" rx="16.0" ry="4.5" transform="rotate(235.6 68.0 44.1)" fill="#3a8ee4" opacity="0.39"/><ellipse cx="78.4" cy="38.0" rx="17.8" ry="5.1" transform="rotate(243.1 78.4 38.0)" fill="#cfd058" opacity="0.35"/><ellipse cx="89.4" cy="33.2" rx="16.7" ry="4.5" transform="rotate(250.6 89.4 33.2)" fill="#3a8ee4" opacity="0.23"/><ellipse cx="101.0" cy="30.0" rx="18.6" ry="5.1" transform="rotate(258.1 101.0 30.0)" fill="#cfd058" opacity="0.18"/><ellipse cx="112.9" cy="28.3" rx="17.4" ry="4.5" transform="rotate(265.6 112.9 28.3)" fill="#3a8ee4" opacity="0.11"/><ellipse cx="125.0" cy="28.1" rx="19.4" ry="5.1" transform="rotate(273.1 125.0 28.1)" fill="#cfd058" opacity="0.12"/><ellipse cx="136.9" cy="29.6" rx="18.1" ry="4.5" transform="rotate(280.6 136.9 29.6)" fill="#3a8ee4" opacity="0.15"/><ellipse cx="148.6" cy="32.6" rx="20.1" ry="5.1" transform="rotate(288.1 148.6 32.6)" fill="#cfd058" opacity="0.25"/><ellipse cx="159.8" cy="37.0" rx="18.8" ry="4.5" transform="rotate(295.6 159.8 37.0)" fill="#3a8ee4" opacity="0.30"/><ellipse cx="170.2" cy="42.9" rx="20.8" ry="5.1" transform="rotate(303.1 170.2 42.9)" fill="#cfd058" opacity="0.43"/><ellipse cx="179.9" cy="50.1" rx="19.4" ry="4.5" transform="rotate(310.6 179.9 50.1)" fill="#3a8ee4" opacity="0.47"/><ellipse cx="188.5" cy="58.6" rx="21.4" ry="5.1" transform="rotate(318.1 188.5 58.6)" fill="#cfd058" opacity="0.62"/><ellipse cx="195.9" cy="68.0" rx="19.9" ry="4.5" transform="rotate(325.6 195.9 68.0)" fill="#3a8ee4" opacity="0.62"/><ellipse cx="202.0" cy="78.4" rx="21.9" ry="5.1" transform="rotate(333.1 202.0 78.4)" fill="#cfd058" opacity="0.77"/><ellipse cx="206.8" cy="89.4" rx="20.2" ry="4.5" transform="rotate(340.6 206.8 89.4)" fill="#3a8ee4" opacity="0.74"/><ellipse cx="210.0" cy="101.0" rx="22.1" ry="5.1" transform="rotate(348.1 210.0 101.0)" fill="#cfd058" opacity="0.87"/><ellipse cx="211.7" cy="112.9" rx="20.3" ry="4.5" transform="rotate(355.6 211.7 112.9)" fill="#3a8ee4" opacity="0.80"/></g><g filter="url(#b15)"><ellipse cx="211.9" cy="125.0" rx="16.6" ry="3.5" transform="rotate(3.1 211.9 125.0)" fill="#fad622" opacity="1.00"/><ellipse cx="210.4" cy="136.9" rx="10.7" ry="2.7" transform="rotate(10.6 210.4 136.9)" fill="#5436c8" opacity="1.00"/><ellipse cx="207.4" cy="148.6" rx="16.5" ry="3.5" transform="rotate(18.1 207.4 148.6)" fill="#fad622" opacity="1.00"/><ellipse cx="203.0" cy="159.8" rx="10.4" ry="2.7" transform="rotate(25.6 203.0 159.8)" fill="#5436c8" opacity="1.00"/><ellipse cx="197.1" cy="170.2" rx="15.4" ry="3.3" transform="rotate(33.1 197.1 170.2)" fill="#f6d626" opacity="1.00"/><ellipse cx="189.9" cy="179.9" rx="9.2" ry="2.4" transform="rotate(40.6 189.9 179.9)" fill="#513fcc" opacity="0.84"/><ellipse cx="181.4" cy="188.5" rx="13.5" ry="3.0" transform="rotate(48.1 181.4 188.5)" fill="#e4d637" opacity="0.84"/><ellipse cx="172.0" cy="195.9" rx="7.8" ry="2.1" transform="rotate(55.6 172.0 195.9)" fill="#4c4dd2" opacity="0.59"/><ellipse cx="161.6" cy="202.0" rx="11.4" ry="2.6" transform="rotate(63.1 161.6 202.0)" fill="#cfd74b" opacity="0.54"/><ellipse cx="150.6" cy="206.8" rx="6.4" ry="1.8" transform="rotate(70.6 150.6 206.8)" fill="#475bd8" opacity="0.35"/><ellipse cx="139.0" cy="210.0" rx="9.7" ry="2.3" transform="rotate(78.1 139.0 210.0)" fill="#bdd75c" opacity="0.28"/><ellipse cx="115.0" cy="211.9" rx="8.8" ry="2.2" transform="rotate(93.1 115.0 211.9)" fill="#b7d762" opacity="0.18"/><ellipse cx="91.4" cy="207.4" rx="9.4" ry="2.4" transform="rotate(108.1 91.4 207.4)" fill="#c4d755" opacity="0.38"/><ellipse cx="80.2" cy="203.0" rx="6.1" ry="1.9" transform="rotate(115.6 80.2 203.0)" fill="#4955d6" opacity="0.44"/><ellipse cx="69.8" cy="197.1" rx="10.3" ry="2.8" transform="rotate(123.1 69.8 197.1)" fill="#d8d643" opacity="0.67"/><ellipse cx="60.1" cy="189.9" rx="6.8" ry="2.2" transform="rotate(130.6 60.1 189.9)" fill="#4e47d0" opacity="0.70"/><ellipse cx="51.5" cy="181.4" rx="11.3" ry="3.1" transform="rotate(138.1 51.5 181.4)" fill="#ecd630" opacity="0.96"/><ellipse cx="44.1" cy="172.0" rx="7.5" ry="2.5" transform="rotate(145.6 44.1 172.0)" fill="#533aca" opacity="0.94"/><ellipse cx="38.0" cy="161.6" rx="12.1" ry="3.4" transform="rotate(153.1 38.0 161.6)" fill="#fad622" opacity="1.00"/><ellipse cx="33.2" cy="150.6" rx="7.9" ry="2.7" transform="rotate(160.6 33.2 150.6)" fill="#5436c8" opacity="1.00"/><ellipse cx="30.0" cy="139.0" rx="12.2" ry="3.5" transform="rotate(168.1 30.0 139.0)" fill="#fad622" opacity="1.00"/><ellipse cx="28.3" cy="127.1" rx="7.8" ry="2.7" transform="rotate(175.6 28.3 127.1)" fill="#5436c8" opacity="1.00"/><ellipse cx="28.1" cy="115.0" rx="12.2" ry="3.5" transform="rotate(183.1 28.1 115.0)" fill="#fad622" opacity="1.00"/><ellipse cx="29.6" cy="103.1" rx="7.9" ry="2.7" transform="rotate(190.6 29.6 103.1)" fill="#5436c8" opacity="1.00"/><ellipse cx="32.6" cy="91.4" rx="12.3" ry="3.5" transform="rotate(198.1 32.6 91.4)" fill="#fad622" opacity="1.00"/><ellipse cx="37.0" cy="80.2" rx="7.8" ry="2.7" transform="rotate(205.6 37.0 80.2)" fill="#5436c8" opacity="1.00"/><ellipse cx="42.9" cy="69.8" rx="11.8" ry="3.3" transform="rotate(213.1 42.9 69.8)" fill="#f6d626" opacity="1.00"/><ellipse cx="50.1" cy="60.1" rx="7.2" ry="2.4" transform="rotate(220.6 50.1 60.1)" fill="#513fcc" opacity="0.84"/><ellipse cx="58.6" cy="51.5" rx="10.9" ry="3.0" transform="rotate(228.1 58.6 51.5)" fill="#e4d637" opacity="0.84"/><ellipse cx="68.0" cy="44.1" rx="6.5" ry="2.1" transform="rotate(235.6 68.0 44.1)" fill="#4c4dd2" opacity="0.59"/><ellipse cx="78.4" cy="38.0" rx="9.9" ry="2.6" transform="rotate(243.1 78.4 38.0)" fill="#cfd74b" opacity="0.54"/><ellipse cx="89.4" cy="33.2" rx="5.8" ry="1.8" transform="rotate(250.6 89.4 33.2)" fill="#475bd8" opacity="0.35"/><ellipse cx="101.0" cy="30.0" rx="9.1" ry="2.3" transform="rotate(258.1 101.0 30.0)" fill="#bdd75c" opacity="0.28"/><ellipse cx="125.0" cy="28.1" rx="8.9" ry="2.2" transform="rotate(273.1 125.0 28.1)" fill="#b7d762" opacity="0.18"/><ellipse cx="148.6" cy="32.6" rx="10.3" ry="2.4" transform="rotate(288.1 148.6 32.6)" fill="#c4d755" opacity="0.38"/><ellipse cx="159.8" cy="37.0" rx="7.0" ry="1.9" transform="rotate(295.6 159.8 37.0)" fill="#4955d6" opacity="0.44"/><ellipse cx="170.2" cy="42.9" rx="12.3" ry="2.8" transform="rotate(303.1 170.2 42.9)" fill="#d8d643" opacity="0.67"/><ellipse cx="179.9" cy="50.1" rx="8.4" ry="2.2" transform="rotate(310.6 179.9 50.1)" fill="#4e47d0" opacity="0.70"/><ellipse cx="188.5" cy="58.6" rx="14.3" ry="3.1" transform="rotate(318.1 188.5 58.6)" fill="#ecd630" opacity="0.96"/><ellipse cx="195.9" cy="68.0" rx="9.7" ry="2.5" transform="rotate(325.6 195.9 68.0)" fill="#533aca" opacity="0.94"/><ellipse cx="202.0" cy="78.4" rx="16.0" ry="3.4" transform="rotate(333.1 202.0 78.4)" fill="#fad622" opacity="1.00"/><ellipse cx="206.8" cy="89.4" rx="10.6" ry="2.7" transform="rotate(340.6 206.8 89.4)" fill="#5436c8" opacity="1.00"/><ellipse cx="210.0" cy="101.0" rx="16.6" ry="3.5" transform="rotate(348.1 210.0 101.0)" fill="#fad622" opacity="1.00"/><ellipse cx="211.7" cy="112.9" rx="10.7" ry="2.7" transform="rotate(355.6 211.7 112.9)" fill="#5436c8" opacity="1.00"/></g>
</g></g>
<linearGradient id="alg" x1="0" y1="0.36" x2="1" y2="0.64"><stop offset="0" stop-color="#3ae0f8"/><stop offset="0.08" stop-color="#30d4f4"/><stop offset="0.2" stop-color="#28bce8"/><stop offset="0.32" stop-color="#23a4d8"/><stop offset="0.45" stop-color="#2093c8"/><stop offset="0.58" stop-color="#1b82b4"/><stop offset="0.7" stop-color="#156d96"/><stop offset="0.83" stop-color="#0d4f6a"/><stop offset="1" stop-color="#07344a"/></linearGradient>
<radialGradient id="arg" cx="0.40" cy="0.41" r="0.66" fx="0.36" fy="0.39"><stop offset="0" stop-color="#000" stop-opacity="0"/><stop offset="0.58" stop-color="#001820" stop-opacity="0"/><stop offset="0.74" stop-color="#00161e" stop-opacity="0.34"/><stop offset="0.88" stop-color="#00121a" stop-opacity="0.8"/><stop offset="1" stop-color="#000c12" stop-opacity="0.97"/></radialGradient>
<clipPath id="asc"><ellipse cx="268.6" cy="184.8" rx="119.6" ry="104.2" transform="rotate(1.5 268.6 184.8)"/></clipPath>
<ellipse cx="268.6" cy="184.8" rx="120.5" ry="105.10000000000001" transform="rotate(1.5 268.6 184.8)" fill="#a3b1ab"/>
<g clip-path="url(#asc)">
<rect x="146.00000000000003" y="74.60000000000001" width="245.2" height="220.4" fill="url(#alg)"/>
<ellipse cx="304.5" cy="80.6" rx="100" ry="18" transform="rotate(7 304.5 80.6)" fill="#0c4f68" opacity="0.9" filter="url(#b8)"/>
<ellipse cx="232.7" cy="80.6" rx="70" ry="7" transform="rotate(-12 232.7 80.6)" fill="#116c8e" opacity="0.7" filter="url(#b3)"/>
<ellipse cx="364.3" cy="122.3" rx="24" ry="62" transform="rotate(-38 364.3 122.3)" fill="#0a465e" opacity="0.7" filter="url(#b14)"/>
<ellipse cx="250.7" cy="291.1" rx="70" ry="7" transform="rotate(6 250.7 291.1)" fill="#0f5a78" opacity="0.7" filter="url(#b3)"/>
<rect x="146.00000000000003" y="74.60000000000001" width="245.2" height="220.4" fill="url(#arg)"/>
<ellipse cx="373.8" cy="266.1" rx="90" ry="34" transform="rotate(-49 373.8 266.1)" fill="#000a10" opacity="1" filter="url(#b14)"/>
<ellipse cx="379.8" cy="270.2" rx="85" ry="22" transform="rotate(-49 379.8 270.2)" fill="#000a10" opacity="0.9" filter="url(#b8)"/>
<ellipse cx="390.6" cy="210.9" rx="14" ry="55" transform="rotate(8 390.6 210.9)" fill="#001018" opacity="0.7" filter="url(#b8)"/>
<ellipse cx="172.9" cy="189.0" rx="15" ry="64" transform="rotate(2 172.9 189.0)" fill="#6af6ff" opacity="0.85" filter="url(#b8)"/>
<ellipse cx="194.4" cy="239.0" rx="13" ry="40" transform="rotate(-32 194.4 239.0)" fill="#5cf0fd" opacity="0.8" filter="url(#b8)"/>
<ellipse cx="172.9" cy="197.3" rx="9" ry="50" transform="rotate(-4 172.9 197.3)" fill="#b4ffff" opacity="0.6" filter="url(#b5)"/>
<ellipse cx="165.1" cy="174.4" rx="5.0" ry="22" transform="rotate(3 165.1 174.4)" fill="#ffffff" opacity="0.95" filter="url(#b3)"/>
<ellipse cx="184.3" cy="231.7" rx="6.5" ry="16" transform="rotate(-33 184.3 231.7)" fill="#ffffff" opacity="1" filter="url(#b3)"/>
<ellipse cx="172.9" cy="210.9" rx="4.5" ry="16" transform="rotate(-10 172.9 210.9)" fill="#e8feff" opacity="0.8" filter="url(#b3)"/>
<ellipse cx="292.5" cy="105.4" rx="21" ry="4.2" transform="rotate(13 292.5 105.4)" fill="#d8fafd" opacity="0.9" filter="url(#b3)"/>
<ellipse cx="304.5" cy="111.9" rx="28" ry="6" transform="rotate(18 304.5 111.9)" fill="#86e0f2" opacity="0.5" filter="url(#b5)"/>
<ellipse cx="170.8" cy="184.8" rx="4.8" ry="16" transform="rotate(3 170.8 184.8)" fill="#ffe92a" opacity="1" filter="url(#b15)"/>
<ellipse cx="188.5" cy="183.2" rx="7.5" ry="12.5" transform="rotate(0 188.5 183.2)" fill="#5a3ce0" opacity="0.92" filter="url(#b3)"/>
<ellipse cx="189.7" cy="183.2" rx="14" ry="19" transform="rotate(0 189.7 183.2)" fill="#3a6cf0" opacity="0.4" filter="url(#b5)"/>
<ellipse cx="268.6" cy="98.6" rx="13" ry="2.9" transform="rotate(2 268.6 98.6)" fill="#f4f23c" opacity="0.95" filter="url(#b15)"/>
<ellipse cx="268.6" cy="97.8" rx="20" ry="4" transform="rotate(2 268.6 97.8)" fill="#9ee89a" opacity="0.5" filter="url(#b2)"/>
<ellipse cx="262.6" cy="114.5" rx="14" ry="4.8" transform="rotate(3 262.6 114.5)" fill="#4a48e0" opacity="0.8" filter="url(#b3)"/>
<ellipse cx="265.0" cy="116.5" rx="26" ry="8" transform="rotate(3 265.0 116.5)" fill="#3468e4" opacity="0.4" filter="url(#b5)"/>
<ellipse cx="350.5" cy="184.3" rx="7.5" ry="15" transform="rotate(0 350.5 184.3)" fill="#24107a" opacity="0.9" filter="url(#b3)"/>
<ellipse cx="347.5" cy="184.3" rx="14" ry="24" transform="rotate(0 347.5 184.3)" fill="#1a2c92" opacity="0.4" filter="url(#b5)"/>
<ellipse cx="367.4" cy="183.8" rx="3.9" ry="19" transform="rotate(0 367.4 183.8)" fill="#c08a1a" opacity="0.92" filter="url(#b2)"/>
<ellipse cx="268.6" cy="256.2" rx="15" ry="4.2" transform="rotate(0 268.6 256.2)" fill="#86b550" opacity="0.75" filter="url(#b3)"/>
<ellipse cx="268.6" cy="271.3" rx="22" ry="3.6" transform="rotate(1 268.6 271.3)" fill="#3a28b8" opacity="0.9" filter="url(#b2)"/>
<ellipse cx="259.0" cy="269.2" rx="38" ry="8" transform="rotate(2 259.0 269.2)" fill="#2a4cc8" opacity="0.4" filter="url(#b5)"/>
</g>
<path d="M85.5 318.5L85.5 222.3" stroke="#000" stroke-width="2.5" fill="none"/><polygon points="85.5,214.5 90.5,224.3 80.5,224.3" fill="#000"/><path d="M85.0 318.2L166.5 293.6" stroke="#000" stroke-width="2.5" fill="none"/><polygon points="174.0,291.3 166.1,298.9 163.2,289.3" fill="#000"/><path d="M85.0 317.8L146.1 343.5" stroke="#000" stroke-width="2.5" fill="none"/><polygon points="153.3,346.5 142.3,347.3 146.2,338.1" fill="#000"/><text x="56" y="228" font-size="22.5" font-weight="bold">z</text><text x="178.6" y="313.8" font-size="22.5" font-weight="bold">x</text><text x="136.8" y="372.6" font-size="22.5" font-weight="bold">y</text><text x="37.6" y="46.0" font-size="38.5" font-weight="bold" letter-spacing="0.3">(a)</text>
</g>
<g id="pb">
<clipPath id="pblw"><polygon points="654.1,75.7 864.8,8.2 864.8,251.6 654,320"/></clipPath>
<polygon points="654.1,75.7 864.8,8.2 864.8,251.6 654,320" fill="#48BA9E"/>
<g clip-path="url(#pblw)"><g transform="matrix(0.87792 -0.28125 -0.00042 1.01792 654.1 75.7)">
<g filter="url(#b3)"><ellipse cx="208.7" cy="120.5" rx="23.4" ry="5.7" transform="rotate(0.0 208.7 120.5)" fill="#b9cc66" opacity="0.04"/><ellipse cx="207.9" cy="132.2" rx="23.4" ry="5.5" transform="rotate(7.5 207.9 132.2)" fill="#3f9fdc" opacity="0.04"/><ellipse cx="205.6" cy="143.8" rx="23.4" ry="5.7" transform="rotate(15.0 205.6 143.8)" fill="#b9cc66" opacity="0.07"/><ellipse cx="201.8" cy="154.9" rx="23.4" ry="5.5" transform="rotate(22.5 201.8 154.9)" fill="#3f9fdc" opacity="0.09"/><ellipse cx="196.6" cy="165.5" rx="23.4" ry="5.7" transform="rotate(30.0 196.6 165.5)" fill="#b9cc66" opacity="0.15"/><ellipse cx="190.1" cy="175.3" rx="23.4" ry="5.5" transform="rotate(37.5 190.1 175.3)" fill="#3f9fdc" opacity="0.17"/><ellipse cx="182.3" cy="184.1" rx="23.4" ry="5.7" transform="rotate(45.0 182.3 184.1)" fill="#b9cc66" opacity="0.23"/><ellipse cx="173.5" cy="191.9" rx="23.4" ry="5.5" transform="rotate(52.5 173.5 191.9)" fill="#3f9fdc" opacity="0.25"/><ellipse cx="163.7" cy="198.4" rx="23.4" ry="5.7" transform="rotate(60.0 163.7 198.4)" fill="#b9cc66" opacity="0.31"/><ellipse cx="153.1" cy="203.6" rx="23.4" ry="5.5" transform="rotate(67.5 153.1 203.6)" fill="#3f9fdc" opacity="0.31"/><ellipse cx="142.0" cy="207.4" rx="23.4" ry="5.7" transform="rotate(75.0 142.0 207.4)" fill="#b9cc66" opacity="0.37"/><ellipse cx="130.4" cy="209.7" rx="23.4" ry="5.5" transform="rotate(82.5 130.4 209.7)" fill="#3f9fdc" opacity="0.35"/><ellipse cx="118.7" cy="210.5" rx="23.4" ry="5.7" transform="rotate(90.0 118.7 210.5)" fill="#b9cc66" opacity="0.39"/><ellipse cx="107.0" cy="209.7" rx="23.4" ry="5.5" transform="rotate(97.5 107.0 209.7)" fill="#3f9fdc" opacity="0.35"/><ellipse cx="95.4" cy="207.4" rx="23.4" ry="5.7" transform="rotate(105.0 95.4 207.4)" fill="#b9cc66" opacity="0.37"/><ellipse cx="84.3" cy="203.6" rx="23.4" ry="5.5" transform="rotate(112.5 84.3 203.6)" fill="#3f9fdc" opacity="0.31"/><ellipse cx="73.7" cy="198.4" rx="23.4" ry="5.7" transform="rotate(120.0 73.7 198.4)" fill="#b9cc66" opacity="0.31"/><ellipse cx="63.9" cy="191.9" rx="23.4" ry="5.5" transform="rotate(127.5 63.9 191.9)" fill="#3f9fdc" opacity="0.25"/><ellipse cx="55.1" cy="184.1" rx="23.4" ry="5.7" transform="rotate(135.0 55.1 184.1)" fill="#b9cc66" opacity="0.23"/><ellipse cx="47.3" cy="175.3" rx="23.4" ry="5.5" transform="rotate(142.5 47.3 175.3)" fill="#3f9fdc" opacity="0.17"/><ellipse cx="40.8" cy="165.5" rx="23.4" ry="5.7" transform="rotate(150.0 40.8 165.5)" fill="#b9cc66" opacity="0.15"/><ellipse cx="35.6" cy="154.9" rx="23.4" ry="5.5" transform="rotate(157.5 35.6 154.9)" fill="#3f9fdc" opacity="0.09"/><ellipse cx="31.8" cy="143.8" rx="23.4" ry="5.7" transform="rotate(165.0 31.8 143.8)" fill="#b9cc66" opacity="0.07"/><ellipse cx="29.5" cy="132.2" rx="23.4" ry="5.5" transform="rotate(172.5 29.5 132.2)" fill="#3f9fdc" opacity="0.04"/><ellipse cx="28.7" cy="120.5" rx="23.4" ry="5.7" transform="rotate(180.0 28.7 120.5)" fill="#b9cc66" opacity="0.03"/><ellipse cx="29.5" cy="108.8" rx="23.4" ry="5.5" transform="rotate(187.5 29.5 108.8)" fill="#3f9fdc" opacity="0.05"/><ellipse cx="31.8" cy="97.2" rx="23.4" ry="5.7" transform="rotate(195.0 31.8 97.2)" fill="#b9cc66" opacity="0.10"/><ellipse cx="35.6" cy="86.1" rx="23.4" ry="5.5" transform="rotate(202.5 35.6 86.1)" fill="#3f9fdc" opacity="0.13"/><ellipse cx="40.8" cy="75.5" rx="23.4" ry="5.7" transform="rotate(210.0 40.8 75.5)" fill="#b9cc66" opacity="0.21"/><ellipse cx="47.3" cy="65.7" rx="23.4" ry="5.5" transform="rotate(217.5 47.3 65.7)" fill="#3f9fdc" opacity="0.25"/><ellipse cx="55.1" cy="56.9" rx="23.4" ry="5.7" transform="rotate(225.0 55.1 56.9)" fill="#b9cc66" opacity="0.33"/><ellipse cx="63.9" cy="49.1" rx="23.4" ry="5.5" transform="rotate(232.5 63.9 49.1)" fill="#3f9fdc" opacity="0.36"/><ellipse cx="73.7" cy="42.6" rx="23.4" ry="5.7" transform="rotate(240.0 73.7 42.6)" fill="#b9cc66" opacity="0.44"/><ellipse cx="84.3" cy="37.4" rx="23.4" ry="5.5" transform="rotate(247.5 84.3 37.4)" fill="#3f9fdc" opacity="0.44"/><ellipse cx="95.4" cy="33.6" rx="23.4" ry="5.7" transform="rotate(255.0 95.4 33.6)" fill="#b9cc66" opacity="0.52"/><ellipse cx="107.0" cy="31.3" rx="23.4" ry="5.5" transform="rotate(262.5 107.0 31.3)" fill="#3f9fdc" opacity="0.49"/><ellipse cx="118.7" cy="30.5" rx="23.4" ry="5.7" transform="rotate(270.0 118.7 30.5)" fill="#b9cc66" opacity="0.55"/><ellipse cx="130.4" cy="31.3" rx="23.4" ry="5.5" transform="rotate(277.5 130.4 31.3)" fill="#3f9fdc" opacity="0.49"/><ellipse cx="142.0" cy="33.6" rx="23.4" ry="5.7" transform="rotate(285.0 142.0 33.6)" fill="#b9cc66" opacity="0.52"/><ellipse cx="153.1" cy="37.4" rx="23.4" ry="5.5" transform="rotate(292.5 153.1 37.4)" fill="#3f9fdc" opacity="0.44"/><ellipse cx="163.7" cy="42.6" rx="23.4" ry="5.7" transform="rotate(300.0 163.7 42.6)" fill="#b9cc66" opacity="0.44"/><ellipse cx="173.5" cy="49.1" rx="23.4" ry="5.5" transform="rotate(307.5 173.5 49.1)" fill="#3f9fdc" opacity="0.36"/><ellipse cx="182.3" cy="56.9" rx="23.4" ry="5.7" transform="rotate(315.0 182.3 56.9)" fill="#b9cc66" opacity="0.33"/><ellipse cx="190.1" cy="65.7" rx="23.4" ry="5.5" transform="rotate(322.5 190.1 65.7)" fill="#3f9fdc" opacity="0.25"/><ellipse cx="196.6" cy="75.5" rx="23.4" ry="5.7" transform="rotate(330.0 196.6 75.5)" fill="#b9cc66" opacity="0.21"/><ellipse cx="201.8" cy="86.1" rx="23.4" ry="5.5" transform="rotate(337.5 201.8 86.1)" fill="#3f9fdc" opacity="0.13"/><ellipse cx="205.6" cy="97.2" rx="23.4" ry="5.7" transform="rotate(345.0 205.6 97.2)" fill="#b9cc66" opacity="0.10"/><ellipse cx="207.9" cy="108.8" rx="23.4" ry="5.5" transform="rotate(352.5 207.9 108.8)" fill="#3f9fdc" opacity="0.05"/></g><g filter="url(#b3)"><ellipse cx="208.7" cy="120.5" rx="17.0" ry="5.5" transform="rotate(0.0 208.7 120.5)" fill="#cfd058" opacity="0.06"/><ellipse cx="207.9" cy="132.2" rx="15.6" ry="4.8" transform="rotate(7.5 207.9 132.2)" fill="#3a8ee4" opacity="0.06"/><ellipse cx="205.6" cy="143.8" rx="17.0" ry="5.5" transform="rotate(15.0 205.6 143.8)" fill="#cfd058" opacity="0.11"/><ellipse cx="201.8" cy="154.9" rx="15.6" ry="4.8" transform="rotate(22.5 201.8 154.9)" fill="#3a8ee4" opacity="0.15"/><ellipse cx="196.6" cy="165.5" rx="17.0" ry="5.5" transform="rotate(30.0 196.6 165.5)" fill="#cfd058" opacity="0.24"/><ellipse cx="190.1" cy="175.3" rx="15.6" ry="4.8" transform="rotate(37.5 190.1 175.3)" fill="#3a8ee4" opacity="0.27"/><ellipse cx="182.3" cy="184.1" rx="17.0" ry="5.5" transform="rotate(45.0 182.3 184.1)" fill="#cfd058" opacity="0.38"/><ellipse cx="173.5" cy="191.9" rx="15.6" ry="4.8" transform="rotate(52.5 173.5 191.9)" fill="#3a8ee4" opacity="0.40"/><ellipse cx="163.7" cy="198.4" rx="17.0" ry="5.5" transform="rotate(60.0 163.7 198.4)" fill="#cfd058" opacity="0.51"/><ellipse cx="153.1" cy="203.6" rx="15.6" ry="4.8" transform="rotate(67.5 153.1 203.6)" fill="#3a8ee4" opacity="0.50"/><ellipse cx="142.0" cy="207.4" rx="17.0" ry="5.5" transform="rotate(75.0 142.0 207.4)" fill="#cfd058" opacity="0.60"/><ellipse cx="130.4" cy="209.7" rx="15.6" ry="4.8" transform="rotate(82.5 130.4 209.7)" fill="#3a8ee4" opacity="0.55"/><ellipse cx="118.7" cy="210.5" rx="17.0" ry="5.5" transform="rotate(90.0 118.7 210.5)" fill="#cfd058" opacity="0.63"/><ellipse cx="107.0" cy="209.7" rx="15.6" ry="4.8" transform="rotate(97.5 107.0 209.7)" fill="#3a8ee4" opacity="0.55"/><ellipse cx="95.4" cy="207.4" rx="17.0" ry="5.5" transform="rotate(105.0 95.4 207.4)" fill="#cfd058" opacity="0.60"/><ellipse cx="84.3" cy="203.6" rx="15.6" ry="4.8" transform="rotate(112.5 84.3 203.6)" fill="#3a8ee4" opacity="0.50"/><ellipse cx="73.7" cy="198.4" rx="17.0" ry="5.5" transform="rotate(120.0 73.7 198.4)" fill="#cfd058" opacity="0.51"/><ellipse cx="63.9" cy="191.9" rx="15.6" ry="4.8" transform="rotate(127.5 63.9 191.9)" fill="#3a8ee4" opacity="0.40"/><ellipse cx="55.1" cy="184.1" rx="17.0" ry="5.5" transform="rotate(135.0 55.1 184.1)" fill="#cfd058" opacity="0.38"/><ellipse cx="47.3" cy="175.3" rx="15.6" ry="4.8" transform="rotate(142.5 47.3 175.3)" fill="#3a8ee4" opacity="0.27"/><ellipse cx="40.8" cy="165.5" rx="17.0" ry="5.5" transform="rotate(150.0 40.8 165.5)" fill="#cfd058" opacity="0.24"/><ellipse cx="35.6" cy="154.9" rx="15.6" ry="4.8" transform="rotate(157.5 35.6 154.9)" fill="#3a8ee4" opacity="0.15"/><ellipse cx="31.8" cy="143.8" rx="17.0" ry="5.5" transform="rotate(165.0 31.8 143.8)" fill="#cfd058" opacity="0.11"/><ellipse cx="29.5" cy="132.2" rx="15.6" ry="4.8" transform="rotate(172.5 29.5 132.2)" fill="#3a8ee4" opacity="0.06"/><ellipse cx="28.7" cy="120.5" rx="17.0" ry="5.5" transform="rotate(180.0 28.7 120.5)" fill="#cfd058" opacity="0.04"/><ellipse cx="29.5" cy="108.8" rx="15.6" ry="4.8" transform="rotate(187.5 29.5 108.8)" fill="#3a8ee4" opacity="0.08"/><ellipse cx="31.8" cy="97.2" rx="17.0" ry="5.5" transform="rotate(195.0 31.8 97.2)" fill="#cfd058" opacity="0.16"/><ellipse cx="35.6" cy="86.1" rx="15.6" ry="4.8" transform="rotate(202.5 35.6 86.1)" fill="#3a8ee4" opacity="0.22"/><ellipse cx="40.8" cy="75.5" rx="17.0" ry="5.5" transform="rotate(210.0 40.8 75.5)" fill="#cfd058" opacity="0.34"/><ellipse cx="47.3" cy="65.7" rx="15.6" ry="4.8" transform="rotate(217.5 47.3 65.7)" fill="#3a8ee4" opacity="0.39"/><ellipse cx="55.1" cy="56.9" rx="17.0" ry="5.5" transform="rotate(225.0 55.1 56.9)" fill="#cfd058" opacity="0.54"/><ellipse cx="63.9" cy="49.1" rx="15.6" ry="4.8" transform="rotate(232.5 63.9 49.1)" fill="#3a8ee4" opacity="0.57"/><ellipse cx="73.7" cy="42.6" rx="17.0" ry="5.5" transform="rotate(240.0 73.7 42.6)" fill="#cfd058" opacity="0.73"/><ellipse cx="84.3" cy="37.4" rx="15.6" ry="4.8" transform="rotate(247.5 84.3 37.4)" fill="#3a8ee4" opacity="0.71"/><ellipse cx="95.4" cy="33.6" rx="17.0" ry="5.5" transform="rotate(255.0 95.4 33.6)" fill="#cfd058" opacity="0.85"/><ellipse cx="107.0" cy="31.3" rx="15.6" ry="4.8" transform="rotate(262.5 107.0 31.3)" fill="#3a8ee4" opacity="0.79"/><ellipse cx="118.7" cy="30.5" rx="17.0" ry="5.5" transform="rotate(270.0 118.7 30.5)" fill="#cfd058" opacity="0.90"/><ellipse cx="130.4" cy="31.3" rx="15.6" ry="4.8" transform="rotate(277.5 130.4 31.3)" fill="#3a8ee4" opacity="0.79"/><ellipse cx="142.0" cy="33.6" rx="17.0" ry="5.5" transform="rotate(285.0 142.0 33.6)" fill="#cfd058" opacity="0.85"/><ellipse cx="153.1" cy="37.4" rx="15.6" ry="4.8" transform="rotate(292.5 153.1 37.4)" fill="#3a8ee4" opacity="0.71"/><ellipse cx="163.7" cy="42.6" rx="17.0" ry="5.5" transform="rotate(300.0 163.7 42.6)" fill="#cfd058" opacity="0.73"/><ellipse cx="173.5" cy="49.1" rx="15.6" ry="4.8" transform="rotate(307.5 173.5 49.1)" fill="#3a8ee4" opacity="0.57"/><ellipse cx="182.3" cy="56.9" rx="17.0" ry="5.5" transform="rotate(315.0 182.3 56.9)" fill="#cfd058" opacity="0.54"/><ellipse cx="190.1" cy="65.7" rx="15.6" ry="4.8" transform="rotate(322.5 190.1 65.7)" fill="#3a8ee4" opacity="0.39"/><ellipse cx="196.6" cy="75.5" rx="17.0" ry="5.5" transform="rotate(330.0 196.6 75.5)" fill="#cfd058" opacity="0.34"/><ellipse cx="201.8" cy="86.1" rx="15.6" ry="4.8" transform="rotate(337.5 201.8 86.1)" fill="#3a8ee4" opacity="0.22"/><ellipse cx="205.6" cy="97.2" rx="17.0" ry="5.5" transform="rotate(345.0 205.6 97.2)" fill="#cfd058" opacity="0.16"/><ellipse cx="207.9" cy="108.8" rx="15.6" ry="4.8" transform="rotate(352.5 207.9 108.8)" fill="#3a8ee4" opacity="0.08"/></g><g filter="url(#b2)"><ellipse cx="205.6" cy="143.8" rx="7.8" ry="2.3" transform="rotate(15.0 205.6 143.8)" fill="#dcc743" opacity="0.17"/><ellipse cx="196.6" cy="165.5" rx="8.7" ry="2.6" transform="rotate(30.0 196.6 165.5)" fill="#e1c540" opacity="0.37"/><ellipse cx="190.1" cy="175.3" rx="5.7" ry="2.0" transform="rotate(37.5 190.1 175.3)" fill="#4857d7" opacity="0.41"/><ellipse cx="182.3" cy="184.1" rx="9.7" ry="2.9" transform="rotate(45.0 182.3 184.1)" fill="#e7c33d" opacity="0.59"/><ellipse cx="173.5" cy="191.9" rx="6.4" ry="2.3" transform="rotate(52.5 173.5 191.9)" fill="#4c4dd2" opacity="0.60"/><ellipse cx="163.7" cy="198.4" rx="10.6" ry="3.1" transform="rotate(60.0 163.7 198.4)" fill="#ecc13a" opacity="0.79"/><ellipse cx="153.1" cy="203.6" rx="6.9" ry="2.5" transform="rotate(67.5 153.1 203.6)" fill="#4f44ce" opacity="0.75"/><ellipse cx="142.0" cy="207.4" rx="11.2" ry="3.3" transform="rotate(75.0 142.0 207.4)" fill="#f0c038" opacity="0.93"/><ellipse cx="130.4" cy="209.7" rx="7.2" ry="2.6" transform="rotate(82.5 130.4 209.7)" fill="#5140cc" opacity="0.83"/><ellipse cx="118.7" cy="210.5" rx="11.5" ry="3.4" transform="rotate(90.0 118.7 210.5)" fill="#f1c037" opacity="0.98"/><ellipse cx="107.0" cy="209.7" rx="7.2" ry="2.6" transform="rotate(97.5 107.0 209.7)" fill="#5140cc" opacity="0.83"/><ellipse cx="95.4" cy="207.4" rx="11.2" ry="3.3" transform="rotate(105.0 95.4 207.4)" fill="#f0c038" opacity="0.93"/><ellipse cx="84.3" cy="203.6" rx="6.9" ry="2.5" transform="rotate(112.5 84.3 203.6)" fill="#4f44ce" opacity="0.75"/><ellipse cx="73.7" cy="198.4" rx="10.6" ry="3.1" transform="rotate(120.0 73.7 198.4)" fill="#ecc13a" opacity="0.79"/><ellipse cx="63.9" cy="191.9" rx="6.4" ry="2.3" transform="rotate(127.5 63.9 191.9)" fill="#4c4dd2" opacity="0.60"/><ellipse cx="55.1" cy="184.1" rx="9.7" ry="2.9" transform="rotate(135.0 55.1 184.1)" fill="#e7c33d" opacity="0.59"/><ellipse cx="47.3" cy="175.3" rx="5.7" ry="2.0" transform="rotate(142.5 47.3 175.3)" fill="#4857d7" opacity="0.41"/><ellipse cx="40.8" cy="165.5" rx="8.7" ry="2.6" transform="rotate(150.0 40.8 165.5)" fill="#e1c540" opacity="0.37"/><ellipse cx="31.8" cy="143.8" rx="7.8" ry="2.3" transform="rotate(165.0 31.8 143.8)" fill="#dcc743" opacity="0.17"/><ellipse cx="31.8" cy="97.2" rx="8.1" ry="2.4" transform="rotate(195.0 31.8 97.2)" fill="#dec642" opacity="0.25"/><ellipse cx="35.6" cy="86.1" rx="5.3" ry="1.9" transform="rotate(202.5 35.6 86.1)" fill="#465cd9" opacity="0.32"/><ellipse cx="40.8" cy="75.5" rx="9.4" ry="2.8" transform="rotate(210.0 40.8 75.5)" fill="#e5c33e" opacity="0.53"/><ellipse cx="47.3" cy="65.7" rx="6.3" ry="2.3" transform="rotate(217.5 47.3 65.7)" fill="#4c4dd2" opacity="0.59"/><ellipse cx="55.1" cy="56.9" rx="10.9" ry="3.2" transform="rotate(225.0 55.1 56.9)" fill="#edc139" opacity="0.85"/><ellipse cx="63.9" cy="49.1" rx="7.3" ry="2.6" transform="rotate(232.5 63.9 49.1)" fill="#513ecc" opacity="0.85"/><ellipse cx="73.7" cy="42.6" rx="12.1" ry="3.6" transform="rotate(240.0 73.7 42.6)" fill="#f5be35" opacity="1.00"/><ellipse cx="84.3" cy="37.4" rx="8.1" ry="2.9" transform="rotate(247.5 84.3 37.4)" fill="#5436c8" opacity="1.00"/><ellipse cx="95.4" cy="33.6" rx="12.8" ry="3.8" transform="rotate(255.0 95.4 33.6)" fill="#f6be34" opacity="1.00"/><ellipse cx="107.0" cy="31.3" rx="8.2" ry="2.9" transform="rotate(262.5 107.0 31.3)" fill="#5436c8" opacity="1.00"/><ellipse cx="118.7" cy="30.5" rx="12.8" ry="3.8" transform="rotate(270.0 118.7 30.5)" fill="#f6be34" opacity="1.00"/><ellipse cx="130.4" cy="31.3" rx="8.2" ry="2.9" transform="rotate(277.5 130.4 31.3)" fill="#5436c8" opacity="1.00"/><ellipse cx="142.0" cy="33.6" rx="12.8" ry="3.8" transform="rotate(285.0 142.0 33.6)" fill="#f6be34" opacity="1.00"/><ellipse cx="153.1" cy="37.4" rx="8.1" ry="2.9" transform="rotate(292.5 153.1 37.4)" fill="#5436c8" opacity="1.00"/><ellipse cx="163.7" cy="42.6" rx="12.1" ry="3.6" transform="rotate(300.0 163.7 42.6)" fill="#f5be35" opacity="1.00"/><ellipse cx="173.5" cy="49.1" rx="7.3" ry="2.6" transform="rotate(307.5 173.5 49.1)" fill="#513ecc" opacity="0.85"/><ellipse cx="182.3" cy="56.9" rx="10.9" ry="3.2" transform="rotate(315.0 182.3 56.9)" fill="#edc139" opacity="0.85"/><ellipse cx="190.1" cy="65.7" rx="6.3" ry="2.3" transform="rotate(322.5 190.1 65.7)" fill="#4c4dd2" opacity="0.59"/><ellipse cx="196.6" cy="75.5" rx="9.4" ry="2.8" transform="rotate(330.0 196.6 75.5)" fill="#e5c33e" opacity="0.53"/><ellipse cx="201.8" cy="86.1" rx="5.3" ry="1.9" transform="rotate(337.5 201.8 86.1)" fill="#465cd9" opacity="0.32"/><ellipse cx="205.6" cy="97.2" rx="8.1" ry="2.4" transform="rotate(345.0 205.6 97.2)" fill="#dec642" opacity="0.25"/></g>
<circle cx="118.7" cy="120.5" r="100.5" fill="none" stroke="#34565e" stroke-width="1.3" opacity="0.72"/>
</g></g>
<clipPath id="pbrw"><polygon points="864.8,8.2 1027.3,78.3 1026.6,317.4 864.8,251.6"/></clipPath>
<polygon points="864.8,8.2 1027.3,78.3 1026.6,317.4 864.8,251.6" fill="#309A6C"/>
<g clip-path="url(#pbrw)"><g transform="matrix(0.67708 0.29208 0.00000 1.01417 864.8 8.2)">
<ellipse cx="121" cy="22" rx="27" ry="4.6" transform="rotate(10 121 22)" fill="#eaa628" opacity="0.85" filter="url(#b3)"/><ellipse cx="121" cy="23" rx="34" ry="9" transform="rotate(10 121 23)" fill="#a8c050" opacity="0.35" filter="url(#b5)"/><ellipse cx="122" cy="41" rx="21" ry="9" transform="rotate(6 122 41)" fill="#1c9cbc" opacity="0.7" filter="url(#b5)"/><path d="M215 84Q229 120 215 156" fill="none" stroke="#f0b22c" stroke-width="8.5" stroke-linecap="round" opacity="0.95" filter="url(#b3)"/><path d="M214 92Q226 120 214 148" fill="none" stroke="#c8c850" stroke-width="16" stroke-linecap="round" opacity="0.3" filter="url(#b5)"/><ellipse cx="199" cy="118" rx="9.5" ry="27" transform="rotate(0 199 118)" fill="#2090cc" opacity="0.9" filter="url(#b5)"/><ellipse cx="126" cy="200" rx="17" ry="10.5" transform="rotate(-8 126 200)" fill="#f0ac2a" opacity="0.97" filter="url(#b5)"/><ellipse cx="126" cy="200" rx="26" ry="16" transform="rotate(-8 126 200)" fill="#b8c850" opacity="0.35" filter="url(#b5)"/><ellipse cx="121" cy="220.5" rx="23" ry="4.0" transform="rotate(3 121 220.5)" fill="#3a22b0" opacity="1" filter="url(#b2)"/><ellipse cx="124" cy="221" rx="34" ry="8" transform="rotate(3 124 221)" fill="#2a6fd0" opacity="0.45" filter="url(#b5)"/><ellipse cx="158" cy="224" rx="16" ry="6" transform="rotate(3 158 224)" fill="#2a8fcf" opacity="0.55" filter="url(#b5)"/>
</g></g>
<clipPath id="pbfl"><polygon points="654,320 864.8,251.6 1026.6,317.4 810.3,388.6"/></clipPath>
<polygon points="654,320 864.8,251.6 1026.6,317.4 810.3,388.6" fill="#11B8DE"/>
<g clip-path="url(#pbfl)"><g transform="matrix(0.87833 -0.28500 0.65125 0.28583 654 320)">
<g filter="url(#b3)"><ellipse cx="211.9" cy="125.0" rx="25.0" ry="5.3" transform="rotate(3.1 211.9 125.0)" fill="#b9cc66" opacity="0.55"/><ellipse cx="210.4" cy="136.9" rx="24.9" ry="5.1" transform="rotate(10.6 210.4 136.9)" fill="#3f9fdc" opacity="0.49"/><ellipse cx="207.4" cy="148.6" rx="24.8" ry="5.3" transform="rotate(18.1 207.4 148.6)" fill="#b9cc66" opacity="0.51"/><ellipse cx="203.0" cy="159.8" rx="24.6" ry="5.1" transform="rotate(25.6 203.0 159.8)" fill="#3f9fdc" opacity="0.44"/><ellipse cx="197.1" cy="170.2" rx="24.4" ry="5.3" transform="rotate(33.1 197.1 170.2)" fill="#b9cc66" opacity="0.44"/><ellipse cx="189.9" cy="179.9" rx="24.2" ry="5.1" transform="rotate(40.6 189.9 179.9)" fill="#3f9fdc" opacity="0.35"/><ellipse cx="181.4" cy="188.5" rx="23.9" ry="5.3" transform="rotate(48.1 181.4 188.5)" fill="#b9cc66" opacity="0.33"/><ellipse cx="172.0" cy="195.9" rx="23.5" ry="5.1" transform="rotate(55.6 172.0 195.9)" fill="#3f9fdc" opacity="0.25"/><ellipse cx="161.6" cy="202.0" rx="23.1" ry="5.3" transform="rotate(63.1 161.6 202.0)" fill="#b9cc66" opacity="0.21"/><ellipse cx="150.6" cy="206.8" rx="22.7" ry="5.1" transform="rotate(70.6 150.6 206.8)" fill="#3f9fdc" opacity="0.14"/><ellipse cx="139.0" cy="210.0" rx="22.3" ry="5.3" transform="rotate(78.1 139.0 210.0)" fill="#b9cc66" opacity="0.11"/><ellipse cx="127.1" cy="211.7" rx="21.9" ry="5.1" transform="rotate(85.6 127.1 211.7)" fill="#3f9fdc" opacity="0.07"/><ellipse cx="115.0" cy="211.9" rx="21.4" ry="5.3" transform="rotate(93.1 115.0 211.9)" fill="#b9cc66" opacity="0.07"/><ellipse cx="103.1" cy="210.4" rx="21.0" ry="5.1" transform="rotate(100.6 103.1 210.4)" fill="#3f9fdc" opacity="0.09"/><ellipse cx="91.4" cy="207.4" rx="20.6" ry="5.3" transform="rotate(108.1 91.4 207.4)" fill="#b9cc66" opacity="0.15"/><ellipse cx="80.2" cy="203.0" rx="20.1" ry="5.1" transform="rotate(115.6 80.2 203.0)" fill="#3f9fdc" opacity="0.18"/><ellipse cx="69.8" cy="197.1" rx="19.8" ry="5.3" transform="rotate(123.1 69.8 197.1)" fill="#b9cc66" opacity="0.26"/><ellipse cx="60.1" cy="189.9" rx="19.4" ry="5.1" transform="rotate(130.6 60.1 189.9)" fill="#3f9fdc" opacity="0.29"/><ellipse cx="51.5" cy="181.4" rx="19.1" ry="5.3" transform="rotate(138.1 51.5 181.4)" fill="#b9cc66" opacity="0.38"/><ellipse cx="44.1" cy="172.0" rx="18.8" ry="5.1" transform="rotate(145.6 44.1 172.0)" fill="#3f9fdc" opacity="0.39"/><ellipse cx="38.0" cy="161.6" rx="18.6" ry="5.3" transform="rotate(153.1 38.0 161.6)" fill="#b9cc66" opacity="0.47"/><ellipse cx="33.2" cy="150.6" rx="18.4" ry="5.1" transform="rotate(160.6 33.2 150.6)" fill="#3f9fdc" opacity="0.46"/><ellipse cx="30.0" cy="139.0" rx="18.3" ry="5.3" transform="rotate(168.1 30.0 139.0)" fill="#b9cc66" opacity="0.53"/><ellipse cx="28.3" cy="127.1" rx="18.2" ry="5.1" transform="rotate(175.6 28.3 127.1)" fill="#3f9fdc" opacity="0.50"/><ellipse cx="28.1" cy="115.0" rx="18.2" ry="5.3" transform="rotate(183.1 28.1 115.0)" fill="#b9cc66" opacity="0.55"/><ellipse cx="29.6" cy="103.1" rx="18.3" ry="5.1" transform="rotate(190.6 29.6 103.1)" fill="#3f9fdc" opacity="0.49"/><ellipse cx="32.6" cy="91.4" rx="18.4" ry="5.3" transform="rotate(198.1 32.6 91.4)" fill="#b9cc66" opacity="0.51"/><ellipse cx="37.0" cy="80.2" rx="18.6" ry="5.1" transform="rotate(205.6 37.0 80.2)" fill="#3f9fdc" opacity="0.44"/><ellipse cx="42.9" cy="69.8" rx="18.8" ry="5.3" transform="rotate(213.1 42.9 69.8)" fill="#b9cc66" opacity="0.44"/><ellipse cx="50.1" cy="60.1" rx="19.0" ry="5.1" transform="rotate(220.6 50.1 60.1)" fill="#3f9fdc" opacity="0.35"/><ellipse cx="58.6" cy="51.5" rx="19.3" ry="5.3" transform="rotate(228.1 58.6 51.5)" fill="#b9cc66" opacity="0.33"/><ellipse cx="68.0" cy="44.1" rx="19.7" ry="5.1" transform="rotate(235.6 68.0 44.1)" fill="#3f9fdc" opacity="0.25"/><ellipse cx="78.4" cy="38.0" rx="20.1" ry="5.3" transform="rotate(243.1 78.4 38.0)" fill="#b9cc66" opacity="0.21"/><ellipse cx="89.4" cy="33.2" rx="20.5" ry="5.1" transform="rotate(250.6 89.4 33.2)" fill="#3f9fdc" opacity="0.14"/><ellipse cx="101.0" cy="30.0" rx="20.9" ry="5.3" transform="rotate(258.1 101.0 30.0)" fill="#b9cc66" opacity="0.11"/><ellipse cx="112.9" cy="28.3" rx="21.3" ry="5.1" transform="rotate(265.6 112.9 28.3)" fill="#3f9fdc" opacity="0.07"/><ellipse cx="125.0" cy="28.1" rx="21.8" ry="5.3" transform="rotate(273.1 125.0 28.1)" fill="#b9cc66" opacity="0.07"/><ellipse cx="136.9" cy="29.6" rx="22.2" ry="5.1" transform="rotate(280.6 136.9 29.6)" fill="#3f9fdc" opacity="0.09"/><ellipse cx="148.6" cy="32.6" rx="22.6" ry="5.3" transform="rotate(288.1 148.6 32.6)" fill="#b9cc66" opacity="0.15"/><ellipse cx="159.8" cy="37.0" rx="23.1" ry="5.1" transform="rotate(295.6 159.8 37.0)" fill="#3f9fdc" opacity="0.18"/><ellipse cx="170.2" cy="42.9" rx="23.4" ry="5.3" transform="rotate(303.1 170.2 42.9)" fill="#b9cc66" opacity="0.26"/><ellipse cx="179.9" cy="50.1" rx="23.8" ry="5.1" transform="rotate(310.6 179.9 50.1)" fill="#3f9fdc" opacity="0.29"/><ellipse cx="188.5" cy="58.6" rx="24.1" ry="5.3" transform="rotate(318.1 188.5 58.6)" fill="#b9cc66" opacity="0.38"/><ellipse cx="195.9" cy="68.0" rx="24.4" ry="5.1" transform="rotate(325.6 195.9 68.0)" fill="#3f9fdc" opacity="0.39"/><ellipse cx="202.0" cy="78.4" rx="24.6" ry="5.3" transform="rotate(333.1 202.0 78.4)" fill="#b9cc66" opacity="0.47"/><ellipse cx="206.8" cy="89.4" rx="24.8" ry="5.1" transform="rotate(340.6 206.8 89.4)" fill="#3f9fdc" opacity="0.46"/><ellipse cx="210.0" cy="101.0" rx="24.9" ry="5.3" transform="rotate(348.1 210.0 101.0)" fill="#b9cc66" opacity="0.53"/><ellipse cx="211.7" cy="112.9" rx="25.0" ry="5.1" transform="rotate(355.6 211.7 112.9)" fill="#3f9fdc" opacity="0.50"/></g><g filter="url(#b3)"><ellipse cx="211.9" cy="125.0" rx="22.2" ry="5.1" transform="rotate(3.1 211.9 125.0)" fill="#cfd058" opacity="0.90"/><ellipse cx="210.4" cy="136.9" rx="20.3" ry="4.5" transform="rotate(10.6 210.4 136.9)" fill="#3a8ee4" opacity="0.78"/><ellipse cx="207.4" cy="148.6" rx="22.1" ry="5.1" transform="rotate(18.1 207.4 148.6)" fill="#cfd058" opacity="0.84"/><ellipse cx="203.0" cy="159.8" rx="20.1" ry="4.5" transform="rotate(25.6 203.0 159.8)" fill="#3a8ee4" opacity="0.70"/><ellipse cx="197.1" cy="170.2" rx="21.7" ry="5.1" transform="rotate(33.1 197.1 170.2)" fill="#cfd058" opacity="0.72"/><ellipse cx="189.9" cy="179.9" rx="19.7" ry="4.5" transform="rotate(40.6 189.9 179.9)" fill="#3a8ee4" opacity="0.56"/><ellipse cx="181.4" cy="188.5" rx="21.2" ry="5.1" transform="rotate(48.1 181.4 188.5)" fill="#cfd058" opacity="0.54"/><ellipse cx="172.0" cy="195.9" rx="19.2" ry="4.5" transform="rotate(55.6 172.0 195.9)" fill="#3a8ee4" opacity="0.39"/><ellipse cx="161.6" cy="202.0" rx="20.6" ry="5.1" transform="rotate(63.1 161.6 202.0)" fill="#cfd058" opacity="0.35"/><ellipse cx="150.6" cy="206.8" rx="18.5" ry="4.5" transform="rotate(70.6 150.6 206.8)" fill="#3a8ee4" opacity="0.23"/><ellipse cx="139.0" cy="210.0" rx="19.8" ry="5.1" transform="rotate(78.1 139.0 210.0)" fill="#cfd058" opacity="0.18"/><ellipse cx="127.1" cy="211.7" rx="17.8" ry="4.5" transform="rotate(85.6 127.1 211.7)" fill="#3a8ee4" opacity="0.11"/><ellipse cx="115.0" cy="211.9" rx="19.0" ry="5.1" transform="rotate(93.1 115.0 211.9)" fill="#cfd058" opacity="0.12"/><ellipse cx="103.1" cy="210.4" rx="17.1" ry="4.5" transform="rotate(100.6 103.1 210.4)" fill="#3a8ee4" opacity="0.15"/><ellipse cx="91.4" cy="207.4" rx="18.3" ry="5.1" transform="rotate(108.1 91.4 207.4)" fill="#cfd058" opacity="0.25"/><ellipse cx="80.2" cy="203.0" rx="16.4" ry="4.5" transform="rotate(115.6 80.2 203.0)" fill="#3a8ee4" opacity="0.30"/><ellipse cx="69.8" cy="197.1" rx="17.6" ry="5.1" transform="rotate(123.1 69.8 197.1)" fill="#cfd058" opacity="0.43"/><ellipse cx="60.1" cy="189.9" rx="15.8" ry="4.5" transform="rotate(130.6 60.1 189.9)" fill="#3a8ee4" opacity="0.47"/><ellipse cx="51.5" cy="181.4" rx="17.0" ry="5.1" transform="rotate(138.1 51.5 181.4)" fill="#cfd058" opacity="0.62"/><ellipse cx="44.1" cy="172.0" rx="15.3" ry="4.5" transform="rotate(145.6 44.1 172.0)" fill="#3a8ee4" opacity="0.62"/><ellipse cx="38.0" cy="161.6" rx="16.5" ry="5.1" transform="rotate(153.1 38.0 161.6)" fill="#cfd058" opacity="0.77"/><ellipse cx="33.2" cy="150.6" rx="15.0" ry="4.5" transform="rotate(160.6 33.2 150.6)" fill="#3a8ee4" opacity="0.74"/><ellipse cx="30.0" cy="139.0" rx="16.3" ry="5.1" transform="rotate(168.1 30.0 139.0)" fill="#cfd058" opacity="0.87"/><ellipse cx="28.3" cy="127.1" rx="14.9" ry="4.5" transform="rotate(175.6 28.3 127.1)" fill="#3a8ee4" opacity="0.80"/><ellipse cx="28.1" cy="115.0" rx="16.2" ry="5.1" transform="rotate(183.1 28.1 115.0)" fill="#cfd058" opacity="0.90"/><ellipse cx="29.6" cy="103.1" rx="14.9" ry="4.5" transform="rotate(190.6 29.6 103.1)" fill="#3a8ee4" opacity="0.78"/><ellipse cx="32.6" cy="91.4" rx="16.3" ry="5.1" transform="rotate(198.1 32.6 91.4)" fill="#cfd058" opacity="0.84"/><ellipse cx="37.0" cy="80.2" rx="15.1" ry="4.5" transform="rotate(205.6 37.0 80.2)" fill="#3a8ee4" opacity="0.70"/><ellipse cx="42.9" cy="69.8" rx="16.7" ry="5.1" transform="rotate(213.1 42.9 69.8)" fill="#cfd058" opacity="0.72"/><ellipse cx="50.1" cy="60.1" rx="15.5" ry="4.5" transform="rotate(220.6 50.1 60.1)" fill="#3a8ee4" opacity="0.56"/><ellipse cx="58.6" cy="51.5" rx="17.2" ry="5.1" transform="rotate(228.1 58.6 51.5)" fill="#cfd058" opacity="0.54"/><ellipse cx="68.0" cy="44.1" rx="16.0" ry="4.5" transform="rotate(235.6 68.0 44.1)" fill="#3a8ee4" opacity="0.39"/><ellipse cx="78.4" cy="38.0" rx="17.8" ry="5.1" transform="rotate(243.1 78.4 38.0)" fill="#cfd058" opacity="0.35"/><ellipse cx="89.4" cy="33.2" rx="16.7" ry="4.5" transform="rotate(250.6 89.4 33.2)" fill="#3a8ee4" opacity="0.23"/><ellipse cx="101.0" cy="30.0" rx="18.6" ry="5.1" transform="rotate(258.1 101.0 30.0)" fill="#cfd058" opacity="0.18"/><ellipse cx="112.9" cy="28.3" rx="17.4" ry="4.5" transform="rotate(265.6 112.9 28.3)" fill="#3a8ee4" opacity="0.11"/><ellipse cx="125.0" cy="28.1" rx="19.4" ry="5.1" transform="rotate(273.1 125.0 28.1)" fill="#cfd058" opacity="0.12"/><ellipse cx="136.9" cy="29.6" rx="18.1" ry="4.5" transform="rotate(280.6 136.9 29.6)" fill="#3a8ee4" opacity="0.15"/><ellipse cx="148.6" cy="32.6" rx="20.1" ry="5.1" transform="rotate(288.1 148.6 32.6)" fill="#cfd058" opacity="0.25"/><ellipse cx="159.8" cy="37.0" rx="18.8" ry="4.5" transform="rotate(295.6 159.8 37.0)" fill="#3a8ee4" opacity="0.30"/><ellipse cx="170.2" cy="42.9" rx="20.8" ry="5.1" transform="rotate(303.1 170.2 42.9)" fill="#cfd058" opacity="0.43"/><ellipse cx="179.9" cy="50.1" rx="19.4" ry="4.5" transform="rotate(310.6 179.9 50.1)" fill="#3a8ee4" opacity="0.47"/><ellipse cx="188.5" cy="58.6" rx="21.4" ry="5.1" transform="rotate(318.1 188.5 58.6)" fill="#cfd058" opacity="0.62"/><ellipse cx="195.9" cy="68.0" rx="19.9" ry="4.5" transform="rotate(325.6 195.9 68.0)" fill="#3a8ee4" opacity="0.62"/><ellipse cx="202.0" cy="78.4" rx="21.9" ry="5.1" transform="rotate(333.1 202.0 78.4)" fill="#cfd058" opacity="0.77"/><ellipse cx="206.8" cy="89.4" rx="20.2" ry="4.5" transform="rotate(340.6 206.8 89.4)" fill="#3a8ee4" opacity="0.74"/><ellipse cx="210.0" cy="101.0" rx="22.1" ry="5.1" transform="rotate(348.1 210.0 101.0)" fill="#cfd058" opacity="0.87"/><ellipse cx="211.7" cy="112.9" rx="20.3" ry="4.5" transform="rotate(355.6 211.7 112.9)" fill="#3a8ee4" opacity="0.80"/></g><g filter="url(#b15)"><ellipse cx="211.9" cy="125.0" rx="16.6" ry="3.5" transform="rotate(3.1 211.9 125.0)" fill="#fad622" opacity="1.00"/><ellipse cx="210.4" cy="136.9" rx="10.7" ry="2.7" transform="rotate(10.6 210.4 136.9)" fill="#5436c8" opacity="1.00"/><ellipse cx="207.4" cy="148.6" rx="16.5" ry="3.5" transform="rotate(18.1 207.4 148.6)" fill="#fad622" opacity="1.00"/><ellipse cx="203.0" cy="159.8" rx="10.4" ry="2.7" transform="rotate(25.6 203.0 159.8)" fill="#5436c8" opacity="1.00"/><ellipse cx="197.1" cy="170.2" rx="15.4" ry="3.3" transform="rotate(33.1 197.1 170.2)" fill="#f6d626" opacity="1.00"/><ellipse cx="189.9" cy="179.9" rx="9.2" ry="2.4" transform="rotate(40.6 189.9 179.9)" fill="#513fcc" opacity="0.84"/><ellipse cx="181.4" cy="188.5" rx="13.5" ry="3.0" transform="rotate(48.1 181.4 188.5)" fill="#e4d637" opacity="0.84"/><ellipse cx="172.0" cy="195.9" rx="7.8" ry="2.1" transform="rotate(55.6 172.0 195.9)" fill="#4c4dd2" opacity="0.59"/><ellipse cx="161.6" cy="202.0" rx="11.4" ry="2.6" transform="rotate(63.1 161.6 202.0)" fill="#cfd74b" opacity="0.54"/><ellipse cx="150.6" cy="206.8" rx="6.4" ry="1.8" transform="rotate(70.6 150.6 206.8)" fill="#475bd8" opacity="0.35"/><ellipse cx="139.0" cy="210.0" rx="9.7" ry="2.3" transform="rotate(78.1 139.0 210.0)" fill="#bdd75c" opacity="0.28"/><ellipse cx="115.0" cy="211.9" rx="8.8" ry="2.2" transform="rotate(93.1 115.0 211.9)" fill="#b7d762" opacity="0.18"/><ellipse cx="91.4" cy="207.4" rx="9.4" ry="2.4" transform="rotate(108.1 91.4 207.4)" fill="#c4d755" opacity="0.38"/><ellipse cx="80.2" cy="203.0" rx="6.1" ry="1.9" transform="rotate(115.6 80.2 203.0)" fill="#4955d6" opacity="0.44"/><ellipse cx="69.8" cy="197.1" rx="10.3" ry="2.8" transform="rotate(123.1 69.8 197.1)" fill="#d8d643" opacity="0.67"/><ellipse cx="60.1" cy="189.9" rx="6.8" ry="2.2" transform="rotate(130.6 60.1 189.9)" fill="#4e47d0" opacity="0.70"/><ellipse cx="51.5" cy="181.4" rx="11.3" ry="3.1" transform="rotate(138.1 51.5 181.4)" fill="#ecd630" opacity="0.96"/><ellipse cx="44.1" cy="172.0" rx="7.5" ry="2.5" transform="rotate(145.6 44.1 172.0)" fill="#533aca" opacity="0.94"/><ellipse cx="38.0" cy="161.6" rx="12.1" ry="3.4" transform="rotate(153.1 38.0 161.6)" fill="#fad622" opacity="1.00"/><ellipse cx="33.2" cy="150.6" rx="7.9" ry="2.7" transform="rotate(160.6 33.2 150.6)" fill="#5436c8" opacity="1.00"/><ellipse cx="30.0" cy="139.0" rx="12.2" ry="3.5" transform="rotate(168.1 30.0 139.0)" fill="#fad622" opacity="1.00"/><ellipse cx="28.3" cy="127.1" rx="7.8" ry="2.7" transform="rotate(175.6 28.3 127.1)" fill="#5436c8" opacity="1.00"/><ellipse cx="28.1" cy="115.0" rx="12.2" ry="3.5" transform="rotate(183.1 28.1 115.0)" fill="#fad622" opacity="1.00"/><ellipse cx="29.6" cy="103.1" rx="7.9" ry="2.7" transform="rotate(190.6 29.6 103.1)" fill="#5436c8" opacity="1.00"/><ellipse cx="32.6" cy="91.4" rx="12.3" ry="3.5" transform="rotate(198.1 32.6 91.4)" fill="#fad622" opacity="1.00"/><ellipse cx="37.0" cy="80.2" rx="7.8" ry="2.7" transform="rotate(205.6 37.0 80.2)" fill="#5436c8" opacity="1.00"/><ellipse cx="42.9" cy="69.8" rx="11.8" ry="3.3" transform="rotate(213.1 42.9 69.8)" fill="#f6d626" opacity="1.00"/><ellipse cx="50.1" cy="60.1" rx="7.2" ry="2.4" transform="rotate(220.6 50.1 60.1)" fill="#513fcc" opacity="0.84"/><ellipse cx="58.6" cy="51.5" rx="10.9" ry="3.0" transform="rotate(228.1 58.6 51.5)" fill="#e4d637" opacity="0.84"/><ellipse cx="68.0" cy="44.1" rx="6.5" ry="2.1" transform="rotate(235.6 68.0 44.1)" fill="#4c4dd2" opacity="0.59"/><ellipse cx="78.4" cy="38.0" rx="9.9" ry="2.6" transform="rotate(243.1 78.4 38.0)" fill="#cfd74b" opacity="0.54"/><ellipse cx="89.4" cy="33.2" rx="5.8" ry="1.8" transform="rotate(250.6 89.4 33.2)" fill="#475bd8" opacity="0.35"/><ellipse cx="101.0" cy="30.0" rx="9.1" ry="2.3" transform="rotate(258.1 101.0 30.0)" fill="#bdd75c" opacity="0.28"/><ellipse cx="125.0" cy="28.1" rx="8.9" ry="2.2" transform="rotate(273.1 125.0 28.1)" fill="#b7d762" opacity="0.18"/><ellipse cx="148.6" cy="32.6" rx="10.3" ry="2.4" transform="rotate(288.1 148.6 32.6)" fill="#c4d755" opacity="0.38"/><ellipse cx="159.8" cy="37.0" rx="7.0" ry="1.9" transform="rotate(295.6 159.8 37.0)" fill="#4955d6" opacity="0.44"/><ellipse cx="170.2" cy="42.9" rx="12.3" ry="2.8" transform="rotate(303.1 170.2 42.9)" fill="#d8d643" opacity="0.67"/><ellipse cx="179.9" cy="50.1" rx="8.4" ry="2.2" transform="rotate(310.6 179.9 50.1)" fill="#4e47d0" opacity="0.70"/><ellipse cx="188.5" cy="58.6" rx="14.3" ry="3.1" transform="rotate(318.1 188.5 58.6)" fill="#ecd630" opacity="0.96"/><ellipse cx="195.9" cy="68.0" rx="9.7" ry="2.5" transform="rotate(325.6 195.9 68.0)" fill="#533aca" opacity="0.94"/><ellipse cx="202.0" cy="78.4" rx="16.0" ry="3.4" transform="rotate(333.1 202.0 78.4)" fill="#fad622" opacity="1.00"/><ellipse cx="206.8" cy="89.4" rx="10.6" ry="2.7" transform="rotate(340.6 206.8 89.4)" fill="#5436c8" opacity="1.00"/><ellipse cx="210.0" cy="101.0" rx="16.6" ry="3.5" transform="rotate(348.1 210.0 101.0)" fill="#fad622" opacity="1.00"/><ellipse cx="211.7" cy="112.9" rx="10.7" ry="2.7" transform="rotate(355.6 211.7 112.9)" fill="#5436c8" opacity="1.00"/></g>
</g></g>
<linearGradient id="blg" x1="0" y1="0.36" x2="1" y2="0.64"><stop offset="0" stop-color="#3ae0f8"/><stop offset="0.1" stop-color="#2ed2f4"/><stop offset="0.25" stop-color="#26beec"/><stop offset="0.4" stop-color="#22a4da"/><stop offset="0.5" stop-color="#1f92c8"/><stop offset="0.58" stop-color="#187aa8"/><stop offset="0.7" stop-color="#115f82"/><stop offset="0.85" stop-color="#0b465e"/><stop offset="1" stop-color="#062c3e"/></linearGradient>
<radialGradient id="brg" cx="0.40" cy="0.41" r="0.66" fx="0.36" fy="0.39"><stop offset="0" stop-color="#000" stop-opacity="0"/><stop offset="0.58" stop-color="#001820" stop-opacity="0"/><stop offset="0.74" stop-color="#00161e" stop-opacity="0.45"/><stop offset="0.88" stop-color="#00121a" stop-opacity="0.88"/><stop offset="1" stop-color="#000c12" stop-opacity="0.97"/></radialGradient>
<clipPath id="bsc"><ellipse cx="839.3" cy="182.6" rx="121.6" ry="108.4" transform="rotate(1.5 839.3 182.6)"/></clipPath>
<g clip-path="url(#bsc)">
<rect x="714.6999999999999" y="68.19999999999999" width="249.2" height="228.8" fill="url(#blg)"/>
<ellipse cx="875.8" cy="74.2" rx="100" ry="18" transform="rotate(7 875.8 74.2)" fill="#0c4f68" opacity="0.9" filter="url(#b8)"/>
<ellipse cx="802.8" cy="74.2" rx="70" ry="7" transform="rotate(-12 802.8 74.2)" fill="#116c8e" opacity="0.7" filter="url(#b3)"/>
<ellipse cx="936.6" cy="117.6" rx="24" ry="62" transform="rotate(-38 936.6 117.6)" fill="#0a465e" opacity="0.7" filter="url(#b14)"/>
<ellipse cx="821.1" cy="293.2" rx="70" ry="7" transform="rotate(6 821.1 293.2)" fill="#0f5a78" opacity="0.7" filter="url(#b3)"/>
<rect x="714.6999999999999" y="68.19999999999999" width="249.2" height="228.8" fill="url(#brg)"/>
<ellipse cx="946.3" cy="267.2" rx="90" ry="34" transform="rotate(-49 946.3 267.2)" fill="#000a10" opacity="1" filter="url(#b14)"/>
<ellipse cx="952.4" cy="271.5" rx="85" ry="22" transform="rotate(-49 952.4 271.5)" fill="#000a10" opacity="0.9" filter="url(#b8)"/>
<ellipse cx="963.3" cy="209.7" rx="14" ry="55" transform="rotate(8 963.3 209.7)" fill="#001018" opacity="0.7" filter="url(#b8)"/>
<ellipse cx="742.0" cy="186.9" rx="15" ry="64" transform="rotate(2 742.0 186.9)" fill="#6af6ff" opacity="0.85" filter="url(#b8)"/>
<ellipse cx="763.9" cy="239.0" rx="13" ry="40" transform="rotate(-32 763.9 239.0)" fill="#5cf0fd" opacity="0.8" filter="url(#b8)"/>
<ellipse cx="742.0" cy="195.6" rx="9" ry="50" transform="rotate(-4 742.0 195.6)" fill="#b4ffff" opacity="0.6" filter="url(#b5)"/>
<ellipse cx="909.8" cy="193.4" rx="55" ry="95" transform="rotate(8 909.8 193.4)" fill="#0a4560" opacity="0.55" filter="url(#b14)"/>
<ellipse cx="793.1" cy="173.9" rx="42" ry="62" transform="rotate(0 793.1 173.9)" fill="#2ccaf6" opacity="0.5" filter="url(#b14)"/>
<ellipse cx="742.0" cy="164.2" rx="8" ry="12" transform="rotate(8 742.0 164.2)" fill="#ffffff" opacity="1" filter="url(#b3)"/>
<ellipse cx="761.5" cy="224.9" rx="14" ry="15" transform="rotate(-30 761.5 224.9)" fill="#ffffff" opacity="1" filter="url(#b5)"/>
<ellipse cx="763.9" cy="224.9" rx="9" ry="10" transform="rotate(-30 763.9 224.9)" fill="#ffffff" opacity="1" filter="url(#b3)"/>
<ellipse cx="754.2" cy="195.6" rx="6" ry="10" transform="rotate(-10 754.2 195.6)" fill="#e8feff" opacity="0.8" filter="url(#b3)"/>
<ellipse cx="851.5" cy="111.1" rx="17" ry="7" transform="rotate(10 851.5 111.1)" fill="#d8f4ff" opacity="0.95" filter="url(#b3)"/>
<ellipse cx="863.6" cy="117.6" rx="28" ry="11" transform="rotate(18 863.6 117.6)" fill="#7fd8f2" opacity="0.55" filter="url(#b5)"/>
<ellipse cx="738.0" cy="190.7" rx="4.0" ry="11" transform="rotate(2 738.0 190.7)" fill="#ffe92a" opacity="1" filter="url(#b15)"/>
<ellipse cx="759.0" cy="182.6" rx="7.5" ry="12" transform="rotate(0 759.0 182.6)" fill="#7a4ae6" opacity="0.9" filter="url(#b3)"/>
<ellipse cx="760.3" cy="182.6" rx="13" ry="18" transform="rotate(0 760.3 182.6)" fill="#5a78f0" opacity="0.4" filter="url(#b5)"/>
<ellipse cx="834.4" cy="91.0" rx="12" ry="3.0" transform="rotate(3 834.4 91.0)" fill="#c8dc30" opacity="0.9" filter="url(#b15)"/>
<ellipse cx="834.4" cy="91.0" rx="18" ry="4.5" transform="rotate(3 834.4 91.0)" fill="#58c8a0" opacity="0.5" filter="url(#b2)"/>
<ellipse cx="827.1" cy="106.7" rx="13" ry="6" transform="rotate(4 827.1 106.7)" fill="#7a6af0" opacity="0.75" filter="url(#b3)"/>
<ellipse cx="918.9" cy="182.6" rx="8.5" ry="18" transform="rotate(0 918.9 182.6)" fill="#201274" opacity="0.88" filter="url(#b3)"/>
<ellipse cx="915.9" cy="182.6" rx="15" ry="26" transform="rotate(0 915.9 182.6)" fill="#1a2c92" opacity="0.4" filter="url(#b5)"/>
<ellipse cx="937.8" cy="184.8" rx="4.4" ry="20" transform="rotate(0 937.8 184.8)" fill="#c89a18" opacity="0.95" filter="url(#b2)"/>
<ellipse cx="822.3" cy="260.6" rx="20" ry="5" transform="rotate(0 822.3 260.6)" fill="#7fb35a" opacity="0.65" filter="url(#b3)"/>
<ellipse cx="824.7" cy="277.4" rx="28" ry="4.2" transform="rotate(2 824.7 277.4)" fill="#3a28b8" opacity="0.9" filter="url(#b2)"/>
<ellipse cx="824.7" cy="273.7" rx="42" ry="9" transform="rotate(2 824.7 273.7)" fill="#2a4cc8" opacity="0.4" filter="url(#b5)"/>
</g>
<ellipse cx="839.3" cy="182.6" rx="121.89999999999999" ry="108.7" transform="rotate(1.5 839.3 182.6)" fill="none" stroke="#2a2e2e" stroke-width="3.2" opacity="0.75"/>
<ellipse cx="839.3" cy="182.6" rx="121.8" ry="108.60000000000001" transform="rotate(1.5 839.3 182.6)" fill="none" stroke="#eef0f0" stroke-width="1.8" stroke-dasharray="2.8 1.8"/>
<path d="M961.0 186.1h.01M961.5 187.1h.01M959.2 189.5h.01M961.3 191.2h.01M961.2 192.9h.01M960.2 194.1h.01M960.5 196.3h.01M960.4 197.8h.01M958.8 199.4h.01M958.5 201.3h.01M959.7 202.5h.01M959.0 204.3h.01M958.4 206.4h.01M956.8 207.7h.01M956.6 209.2h.01M955.8 211.0h.01M956.7 212.7h.01M956.3 214.0h.01M955.3 216.0h.01M953.5 217.3h.01M953.8 219.4h.01M952.0 220.1h.01M951.2 221.5h.01M950.7 223.2h.01M949.9 224.5h.01M949.6 226.3h.01M949.0 227.9h.01M947.8 229.3h.01M947.4 231.4h.01M946.1 232.8h.01M945.3 234.3h.01M944.5 235.6h.01M945.5 237.7h.01M942.0 238.0h.01M941.0 239.8h.01M940.7 241.1h.01M939.9 242.7h.01M938.6 244.1h.01M937.5 245.9h.01M937.0 247.9h.01M935.3 248.8h.01M934.7 250.0h.01M932.1 251.0h.01M932.6 253.2h.01M930.0 253.3h.01M928.9 255.2h.01M928.0 256.6h.01M927.3 257.4h.01M925.4 258.4h.01M924.8 261.0h.01M923.2 261.5h.01M921.4 262.4h.01M920.2 263.8h.01M918.9 265.5h.01M916.2 265.0h.01M915.2 266.1h.01M913.7 266.9h.01M912.5 269.0h.01M911.8 270.6h.01M910.2 271.7h.01M907.9 270.8h.01M906.8 272.9h.01M904.4 273.6h.01M903.4 273.9h.01M902.5 275.8h.01M899.8 275.8h.01M898.2 277.0h.01M896.5 276.9h.01M895.4 279.6h.01M893.9 280.6h.01M890.8 279.3h.01M890.4 280.8h.01M888.1 281.3h.01M886.6 281.7h.01M884.4 283.1h.01M883.4 284.1h.01M881.3 284.9h.01M879.0 284.4h.01M877.9 285.2h.01M875.4 285.3h.01M873.4 285.5h.01M872.4 286.4h.01M870.4 286.2h.01M868.4 286.4h.01M866.6 288.1h.01M865.3 288.9h.01M863.1 288.8h.01M860.7 289.0h.01M859.5 288.8h.01M857.8 290.4h.01M855.5 288.7h.01M853.6 289.5h.01M851.3 289.0h.01M850.0 289.8h.01M848.3 290.4h.01M845.7 291.6h.01M843.9 289.4h.01M842.0 289.7h.01M840.2 290.9h.01M837.9 290.8h.01M836.7 289.6h.01M834.3 290.1h.01M832.8 290.5h.01M830.6 290.6h.01M829.3 291.0h.01M826.7 290.9h.01M824.9 290.2h.01M823.5 289.2h.01M821.0 288.8h.01M819.2 288.4h.01M817.4 289.9h.01M815.5 288.5h.01M814.4 287.9h.01M812.3 287.9h.01M809.8 286.6h.01M807.6 287.8h.01M806.5 287.4h.01M804.7 285.1h.01M803.0 285.8h.01M800.8 284.3h.01M798.8 284.6h.01M797.5 284.3h.01M796.1 282.4h.01M794.4 281.4h.01M792.3 280.6h.01M789.3 282.1h.01M788.1 280.5h.01M787.0 278.5h.01M785.3 278.9h.01M783.5 278.7h.01M781.6 277.1h.01M780.7 276.4h.01M777.5 276.6h.01M777.6 273.8h.01M774.6 274.2h.01M774.0 273.2h.01M771.4 273.2h.01M769.7 272.0h.01M769.2 269.9h.01M768.0 268.3h.01M766.2 267.8h.01M764.0 267.9h.01M762.4 266.4h.01M761.8 264.3h.01M760.6 263.3h.01M758.7 262.2h.01M756.7 262.3h.01M755.0 261.4h.01M754.1 259.6h.01M753.2 257.2h.01M751.7 256.2h.01M750.4 255.4h.01M748.7 254.5h.01M747.9 252.6h.01M745.6 252.1h.01M745.4 250.3h.01M744.9 248.5h.01M743.5 247.2h.01M741.0 247.0h.01M741.2 244.8h.01M739.3 243.5h.01M739.3 241.3h.01M738.4 240.4h.01M736.9 239.4h.01M734.6 238.0h.01M734.2 236.8h.01M733.9 235.0h.01M733.5 233.3h.01M731.1 231.8h.01M730.0 230.8h.01M730.8 228.9h.01M730.1 226.7h.01M728.7 225.7h.01M728.4 224.2h.01M727.0 222.8h.01M726.2 221.2h.01M725.1 219.7h.01M724.6 217.6h.01M724.4 215.9h.01M722.8 215.2h.01M724.4 212.9h.01M723.7 210.8h.01M722.4 209.6h.01M721.9 208.4h.01M720.8 206.8h.01M721.0 204.4h.01M720.8 203.0h.01M718.8 201.5h.01M719.6 200.0h.01M718.4 198.6h.01M719.5 196.7h.01M718.9 194.8h.01M719.7 193.1h.01M717.7 191.3h.01M718.6 189.2h.01M718.8 188.1h.01M717.2 186.6h.01M719.2 184.2h.01M718.1 182.5h.01M717.8 181.0h.01M719.0 179.2h.01M718.1 177.9h.01M717.7 175.9h.01M719.3 174.6h.01M718.8 172.5h.01M717.5 170.4h.01M717.7 168.7h.01M718.4 167.2h.01M718.6 166.2h.01M720.7 164.1h.01M718.9 162.7h.01M721.6 161.4h.01M721.2 159.5h.01M722.1 157.9h.01M720.8 155.8h.01M722.1 154.7h.01M722.0 152.1h.01M722.9 151.4h.01M724.6 149.9h.01M723.4 147.2h.01M726.4 146.2h.01M725.9 145.2h.01M727.3 143.5h.01M727.2 141.2h.01M729.1 140.0h.01M729.5 138.8h.01M728.4 136.0h.01M730.3 135.7h.01M730.9 133.3h.01M731.4 132.2h.01M731.8 130.4h.01M733.2 129.5h.01M735.9 128.1h.01M735.6 126.6h.01M735.7 124.4h.01M738.5 124.0h.01M739.5 122.2h.01M740.7 121.0h.01M740.1 119.3h.01M741.0 117.5h.01M743.6 117.5h.01M744.0 115.6h.01M745.8 114.7h.01M745.9 112.2h.01M748.2 111.3h.01M749.4 110.6h.01M750.7 108.9h.01M752.5 108.1h.01M752.7 106.5h.01M753.2 104.8h.01M756.0 103.9h.01M757.0 103.3h.01M758.6 102.1h.01M760.5 101.3h.01M761.8 100.6h.01M763.1 99.2h.01M764.8 98.1h.01M765.4 96.4h.01M767.7 95.7h.01M768.9 94.2h.01M769.6 92.8h.01M772.6 93.1h.01M774.2 92.5h.01M774.4 89.9h.01M776.7 89.8h.01M778.1 89.2h.01M779.8 87.0h.01M781.1 86.2h.01M784.3 87.1h.01M785.7 86.1h.01M786.9 85.0h.01M788.7 85.0h.01M790.3 82.5h.01M791.6 82.2h.01M794.1 82.5h.01M795.5 80.7h.01M796.8 80.1h.01M799.3 81.2h.01M801.0 79.1h.01M802.5 79.4h.01M804.0 78.4h.01M805.6 77.4h.01M808.7 78.3h.01M810.5 77.6h.01M811.8 76.2h.01M813.6 78.1h.01M815.4 76.5h.01M817.9 76.9h.01M819.2 77.2h.01M820.9 76.5h.01M823.6 75.6h.01M824.9 76.1h.01M826.9 75.7h.01M828.6 75.1h.01M830.5 73.6h.01M832.6 75.8h.01M834.1 74.1h.01M836.4 74.4h.01M838.8 75.1h.01M839.9 74.8h.01M842.6 73.6h.01M844.1 74.1h.01M845.7 74.9h.01M847.6 74.6h.01M850.0 74.9h.01M851.9 75.9h.01M853.9 74.9h.01M855.8 75.5h.01M857.1 76.1h.01M859.3 76.7h.01M861.6 76.0h.01M863.3 77.1h.01M864.9 76.5h.01M866.8 78.6h.01M869.1 76.9h.01M870.1 78.6h.01M871.9 78.3h.01M873.8 79.6h.01M875.8 78.9h.01M877.6 79.2h.01M879.0 80.9h.01M880.6 82.4h.01M882.2 82.8h.01M884.1 83.1h.01M886.4 83.2h.01M888.6 84.2h.01M890.2 85.1h.01M891.7 86.2h.01M893.0 86.8h.01M895.0 87.0h.01M897.6 87.5h.01M898.1 89.1h.01M900.5 89.3h.01M902.8 89.7h.01M903.6 90.2h.01M904.4 92.4h.01M906.0 93.6h.01M907.6 94.6h.01M909.3 95.5h.01M912.1 95.1h.01M911.8 97.7h.01M913.5 98.5h.01M916.7 98.9h.01M918.1 99.3h.01M917.5 102.0h.01M920.5 101.8h.01M921.4 104.2h.01M923.0 105.3h.01M924.9 105.6h.01M925.9 107.3h.01M926.2 109.0h.01M929.1 108.9h.01M930.6 110.7h.01M929.9 113.2h.01M933.1 112.8h.01M933.6 114.7h.01M934.6 116.2h.01M935.7 117.7h.01M937.7 118.2h.01M938.1 120.0h.01M938.7 122.3h.01M938.7 123.5h.01M940.2 124.6h.01M941.0 126.6h.01M943.5 127.6h.01M945.2 128.4h.01M944.7 130.3h.01M947.1 131.7h.01M946.4 133.8h.01M946.6 135.7h.01M948.5 136.1h.01M948.2 138.0h.01M949.9 140.0h.01M951.7 140.4h.01M952.4 142.0h.01M951.6 144.3h.01M952.4 146.3h.01M952.6 148.1h.01M953.1 148.9h.01M954.3 151.2h.01M954.9 152.1h.01M956.0 153.4h.01M957.3 155.2h.01M957.0 157.4h.01M958.6 158.7h.01M958.9 160.1h.01M957.0 162.4h.01M959.2 163.4h.01M957.6 166.1h.01M959.8 166.8h.01M958.5 169.2h.01M959.9 170.4h.01M959.6 172.3h.01M961.2 173.9h.01M959.6 176.0h.01M959.7 177.7h.01M960.2 178.8h.01M959.2 181.0h.01M961.3 182.7h.01M960.3 184.1h.01" stroke="#3a3a3a" stroke-width="1.9" stroke-linecap="round" fill="none" opacity="0.9"/>
<path d="M774.4 272.4h.01M818.3 94.5h.01M945.9 227.1h.01M929.0 111.0h.01M929.8 113.2h.01M722.4 209.8h.01M794.3 226.3h.01M773.3 98.1h.01M775.5 97.7h.01M805.5 247.2h.01M803.7 248.6h.01M835.8 120.6h.01M728.1 152.0h.01M894.1 115.6h.01M879.4 129.6h.01M806.8 202.6h.01M850.0 89.8h.01M816.4 206.7h.01M818.7 206.9h.01M739.5 130.2h.01M737.9 131.9h.01M752.1 207.3h.01M755.8 229.7h.01M854.4 178.9h.01M888.0 119.7h.01M753.5 115.3h.01M778.4 263.1h.01M758.4 102.0h.01M893.2 135.8h.01M893.7 138.1h.01M791.0 180.0h.01M795.5 196.7h.01M797.0 198.4h.01M745.5 115.3h.01M743.3 115.7h.01M763.5 100.8h.01M782.7 277.0h.01M782.3 274.7h.01M863.0 230.2h.01M795.5 244.2h.01M794.6 110.8h.01M795.9 112.7h.01M782.0 277.3h.01M782.5 279.6h.01M809.0 187.6h.01M793.6 194.3h.01M855.8 269.5h.01M741.1 183.5h.01M829.2 273.7h.01M827.1 274.6h.01M789.9 176.2h.01M770.8 142.4h.01M770.6 140.1h.01M874.5 129.7h.01M739.8 153.2h.01M740.4 155.4h.01M795.7 141.7h.01M798.0 141.7h.01M927.6 133.0h.01M851.7 78.9h.01M875.5 107.3h.01M907.3 97.0h.01M790.2 238.4h.01M880.0 163.2h.01M832.6 248.2h.01M808.0 89.1h.01M806.6 90.9h.01M778.6 216.9h.01M746.3 187.3h.01M754.6 127.9h.01M753.0 129.5h.01M841.2 96.0h.01M750.5 108.9h.01M752.7 108.1h.01M760.0 201.6h.01M813.9 195.0h.01M937.7 238.8h.01M721.1 164.3h.01M718.9 164.0h.01M766.7 99.6h.01M918.6 128.2h.01M764.4 207.6h.01M841.7 115.7h.01M757.0 208.7h.01M755.7 210.6h.01M888.0 92.0h.01M825.1 287.8h.01M778.2 271.8h.01M779.9 270.2h.01M898.1 93.2h.01M804.3 221.7h.01M804.8 223.9h.01M815.3 223.8h.01M766.0 229.4h.01M794.5 139.3h.01M747.9 150.7h.01M745.8 149.8h.01M900.1 94.4h.01M841.8 214.8h.01M777.9 158.2h.01M779.9 270.6h.01M752.7 245.6h.01M752.6 243.3h.01M821.3 87.0h.01M877.1 83.5h.01M877.3 85.8h.01M880.9 124.1h.01M881.0 121.8h.01M744.8 248.6h.01M799.9 271.0h.01M765.2 245.7h.01M889.9 110.0h.01M891.4 108.3h.01M834.4 288.9h.01M834.7 286.6h.01M833.4 92.3h.01M831.1 92.6h.01M905.4 189.9h.01M768.6 227.2h.01M766.8 228.6h.01M822.9 76.9h.01M820.8 76.0h.01M959.8 176.7h.01M762.4 135.4h.01M751.1 145.2h.01M751.8 147.4h.01M786.7 231.2h.01M784.9 229.5h.01M786.4 231.2h.01M946.5 165.3h.01M782.3 156.5h.01M780.4 157.8h.01M902.9 208.3h.01M766.7 191.1h.01M766.2 188.9h.01M785.1 223.7h.01M925.3 176.9h.01M927.2 175.6h.01M828.1 195.3h.01M759.6 231.8h.01M851.6 78.6h.01M849.9 80.1h.01M894.2 199.0h.01M892.1 198.1h.01M722.3 201.1h.01M733.8 234.2h.01M765.7 257.3h.01M729.1 185.1h.01M885.5 91.0h.01M805.0 125.4h.01M807.1 126.4h.01M944.9 147.6h.01M766.5 158.5h.01M768.7 159.0h.01M811.1 267.9h.01M801.1 284.6h.01M726.2 148.2h.01M841.4 289.6h.01M843.0 288.0h.01M883.3 86.6h.01M769.1 243.4h.01M854.4 202.4h.01M819.2 218.1h.01M821.5 217.9h.01M826.7 93.2h.01M826.3 95.4h.01M885.9 194.2h.01M799.6 80.9h.01M774.9 273.5h.01M764.9 211.9h.01M745.3 123.0h.01M846.3 245.6h.01M844.3 244.5h.01M727.7 165.6h.01M822.7 83.4h.01M838.4 111.7h.01M792.7 86.7h.01M795.0 86.3h.01M793.4 82.6h.01M759.6 103.8h.01M759.7 106.1h.01M838.8 124.3h.01M836.5 124.8h.01M797.0 274.8h.01M810.4 86.6h.01M745.2 172.1h.01M866.9 110.8h.01M734.8 138.5h.01M825.3 228.7h.01M827.5 227.8h.01M827.0 78.8h.01M828.7 77.2h.01M825.8 81.2h.01M747.5 226.1h.01M814.4 122.8h.01M816.6 123.4h.01M825.5 284.9h.01M845.1 262.2h.01M843.1 263.3h.01M816.8 181.4h.01M899.8 178.8h.01M901.7 180.1h.01M738.9 145.8h.01M793.3 87.1h.01M721.9 198.1h.01M724.2 198.4h.01M830.0 196.5h.01M827.7 197.0h.01M737.1 160.7h.01M779.2 263.0h.01M780.7 264.7h.01M795.7 183.0h.01M871.8 107.9h.01M943.3 128.0h.01M737.6 123.7h.01M775.1 145.0h.01M757.1 194.2h.01M848.9 190.2h.01M915.4 103.9h.01M914.8 101.7h.01M768.5 97.2h.01M761.7 244.5h.01M761.2 242.3h.01M783.2 143.8h.01M754.8 176.7h.01M818.7 255.1h.01M880.1 107.5h.01M736.1 126.2h.01M855.7 134.3h.01M840.3 289.9h.01M818.7 208.6h.01M819.4 288.7h.01M848.2 77.2h.01M845.9 76.8h.01M751.9 231.1h.01M763.4 121.8h.01M775.0 248.0h.01M913.8 114.9h.01M851.2 280.5h.01M918.8 239.5h.01M827.6 112.8h.01M886.2 145.5h.01M929.2 199.6h.01M750.4 162.9h.01M756.1 105.3h.01M816.3 287.6h.01M818.6 287.5h.01M851.4 181.0h.01M854.1 289.5h.01M738.8 241.9h.01M901.8 270.9h.01M900.2 269.3h.01M817.7 210.0h.01M905.6 115.4h.01M901.9 104.2h.01M878.6 152.9h.01M769.9 231.8h.01M725.2 160.0h.01M729.7 217.9h.01M842.1 219.8h.01M843.9 218.4h.01M748.5 126.6h.01M936.7 195.1h.01M935.2 196.8h.01M775.0 217.4h.01M761.5 173.9h.01M820.1 288.4h.01M783.1 87.6h.01M773.6 118.2h.01M819.9 79.4h.01M910.5 104.6h.01M839.8 242.5h.01M840.2 244.7h.01M738.6 185.4h.01M873.0 81.7h.01M798.0 83.6h.01M799.8 85.1h.01M805.6 272.1h.01M780.8 268.2h.01M769.2 128.6h.01M735.0 149.3h.01M736.2 147.4h.01M741.7 190.3h.01M740.1 192.0h.01M728.6 139.7h.01M805.5 281.2h.01M791.4 200.6h.01M750.6 244.1h.01M794.7 253.0h.01M762.7 234.9h.01M808.3 99.4h.01M810.0 100.9h.01M803.6 80.5h.01M774.5 273.3h.01M785.7 116.9h.01M781.9 255.0h.01M820.9 285.8h.01M820.7 288.1h.01M937.9 132.8h.01M738.6 226.7h.01M719.5 169.9h.01M816.0 96.2h.01M815.3 94.0h.01M906.3 148.3h.01M810.4 229.0h.01M812.6 128.7h.01M810.3 128.9h.01M817.1 133.0h.01M880.2 264.3h.01M742.9 122.6h.01M769.2 195.0h.01M901.5 91.0h.01M724.4 148.1h.01M721.0 161.6h.01M779.0 161.1h.01M779.3 158.8h.01M777.4 186.6h.01M895.3 114.1h.01M788.1 242.5h.01M851.5 114.8h.01M861.6 128.0h.01M767.6 152.8h.01M917.6 160.3h.01M812.9 155.9h.01M813.8 77.0h.01M815.8 75.8h.01M864.7 106.3h.01M803.5 274.8h.01M803.0 272.5h.01M785.9 278.1h.01M785.6 280.4h.01M823.5 84.9h.01M821.2 84.5h.01M798.4 283.5h.01M883.4 176.2h.01M838.7 83.7h.01M770.5 141.3h.01M779.8 172.5h.01M781.9 171.6h.01M930.0 138.4h.01M718.9 192.3h.01M725.2 208.1h.01M828.9 283.8h.01M829.6 281.6h.01M834.8 246.8h.01M782.2 277.3h.01M878.1 149.6h.01M844.5 140.3h.01M842.2 140.1h.01M807.1 261.9h.01M748.9 178.5h.01M750.1 180.4h.01M850.6 246.7h.01M824.2 142.5h.01M819.7 270.9h.01M819.4 146.1h.01M720.2 187.1h.01M720.9 189.3h.01M845.3 200.2h.01M847.5 200.9h.01M740.5 161.5h.01M836.5 269.4h.01M884.0 189.8h.01M885.4 191.6h.01M822.0 193.2h.01M729.7 170.4h.01M892.0 88.2h.01M751.4 233.0h.01M934.6 178.3h.01M815.2 100.0h.01M737.0 181.8h.01M733.9 224.7h.01M791.4 171.2h.01M720.8 169.8h.01M807.6 233.8h.01M815.2 77.7h.01M813.5 76.2h.01M760.3 120.3h.01M762.3 119.1h.01M854.4 288.1h.01M718.4 185.5h.01M912.8 167.3h.01M821.8 90.5h.01M770.9 251.7h.01M809.1 106.0h.01M886.5 129.8h.01M887.2 127.6h.01M828.4 233.9h.01M857.5 260.7h.01M742.3 119.3h.01M858.0 123.4h.01M860.3 122.9h.01M733.5 145.6h.01M785.2 110.3h.01M786.9 108.7h.01M909.9 97.1h.01M828.0 112.5h.01M729.6 141.4h.01M766.3 149.6h.01M921.9 134.8h.01M793.4 183.9h.01M748.0 161.5h.01M812.6 207.9h.01M743.3 170.3h.01M858.6 78.1h.01M783.8 276.0h.01M861.8 220.8h.01M930.0 123.3h.01M896.7 88.6h.01M897.4 90.8h.01M863.3 81.8h.01M833.7 143.9h.01M832.2 142.2h.01M747.1 112.3h.01M746.7 114.5h.01M865.1 89.6h.01M751.8 207.9h.01M784.9 86.0h.01M893.1 86.6h.01M908.1 147.7h.01M847.3 196.9h.01M858.1 82.4h.01M876.8 83.8h.01M878.5 85.2h.01M885.4 112.2h.01M747.0 181.9h.01M745.3 180.4h.01M746.0 199.1h.01M780.5 101.7h.01M831.6 83.3h.01M915.7 241.9h.01M783.9 260.1h.01M792.6 133.8h.01M790.4 134.6h.01M769.9 129.5h.01M771.3 127.7h.01M784.5 275.1h.01M849.3 283.6h.01M851.5 284.1h.01M888.3 165.3h.01M928.7 157.4h.01M929.0 159.6h.01M863.6 81.8h.01M786.0 251.2h.01M827.9 284.8h.01M880.3 88.5h.01M734.9 134.6h.01M742.5 176.6h.01M892.5 108.6h.01M741.2 236.9h.01M914.9 100.2h.01M935.0 121.8h.01M895.5 144.7h.01M740.0 144.8h.01M760.9 151.3h.01M802.1 283.0h.01M760.5 161.2h.01M771.1 255.0h.01M770.1 257.1h.01M815.7 272.9h.01M817.2 274.7h.01M839.7 92.8h.01M841.4 91.2h.01M726.1 147.9h.01M818.6 165.8h.01M817.2 164.0h.01M793.3 246.7h.01M795.3 247.8h.01M813.8 77.3h.01M802.9 81.3h.01M901.5 97.3h.01M903.8 97.2h.01M724.4 211.0h.01M819.2 281.1h.01M816.8 195.9h.01M835.1 89.6h.01M740.9 216.1h.01M738.7 216.6h.01M890.0 99.1h.01M958.1 203.3h.01M903.6 158.4h.01M912.4 121.6h.01M914.3 120.3h.01M768.7 269.2h.01M724.0 166.0h.01M787.5 226.8h.01M789.7 227.5h.01M825.1 80.8h.01M771.9 254.0h.01M774.2 254.2h.01M850.1 240.1h.01M866.7 93.4h.01M803.2 232.8h.01M815.8 100.2h.01M870.5 222.4h.01M843.5 90.2h.01M741.7 190.0h.01M726.2 144.2h.01M728.3 144.9h.01M807.6 137.9h.01M805.3 138.2h.01M731.1 149.6h.01M733.0 151.0h.01M772.1 179.4h.01M728.2 217.2h.01M790.0 84.1h.01M845.3 76.4h.01M821.9 242.0h.01M798.8 80.9h.01M800.5 79.4h.01M803.6 97.5h.01M844.4 124.1h.01M769.5 203.7h.01M870.1 79.7h.01M786.9 216.2h.01M789.2 215.8h.01M855.6 120.7h.01M814.6 287.8h.01M763.1 222.4h.01M765.0 221.0h.01M873.1 175.3h.01M855.9 128.0h.01M778.6 149.6h.01M817.1 95.1h.01M815.2 93.8h.01M730.8 134.8h.01M728.6 134.3h.01M806.8 88.0h.01M917.2 207.2h.01M893.6 92.4h.01M893.1 90.2h.01M744.3 248.8h.01M743.6 246.7h.01M785.3 224.7h.01M815.6 133.6h.01M769.7 239.3h.01M771.9 238.8h.01M852.0 138.9h.01M854.3 139.3h.01M733.4 178.5h.01M898.6 129.0h.01M805.6 84.9h.01M804.9 87.1h.01M789.8 85.5h.01M790.9 83.5h.01M759.3 125.3h.01M757.2 124.5h.01M872.6 123.8h.01M880.1 86.6h.01M776.9 263.2h.01M776.6 260.9h.01M813.6 103.6h.01M740.9 134.6h.01M828.2 273.7h.01M827.2 271.7h.01M783.7 87.4h.01M754.8 256.7h.01M755.4 254.4h.01M738.6 195.0h.01M884.6 89.5h.01M833.4 200.2h.01M915.8 101.2h.01M917.7 102.5h.01M758.1 142.5h.01M756.7 140.7h.01M914.1 127.6h.01M822.2 278.6h.01M892.0 174.1h.01M892.4 176.3h.01M872.1 135.7h.01M869.8 135.4h.01M732.9 135.7h.01M732.6 133.4h.01M813.4 239.8h.01M804.5 285.7h.01M745.9 241.2h.01M738.8 223.9h.01M898.8 153.5h.01M898.3 151.3h.01M848.1 290.0h.01M850.4 289.7h.01M770.9 269.0h.01M786.0 108.6h.01M823.0 203.5h.01M810.8 179.2h.01M808.7 180.1h.01M845.3 248.5h.01M836.9 146.9h.01M834.1 222.1h.01M835.6 220.4h.01M742.1 166.8h.01M870.3 78.9h.01M872.6 79.3h.01M749.0 110.3h.01M750.2 112.3h.01M867.6 78.2h.01M769.0 124.6h.01M771.0 123.6h.01M876.6 179.9h.01M845.4 94.6h.01M854.1 223.5h.01M920.7 115.2h.01M923.0 115.7h.01M833.0 116.8h.01M838.8 244.2h.01M840.4 245.9h.01M887.6 185.5h.01M785.7 276.9h.01M741.8 178.4h.01M750.2 149.3h.01M748.0 149.6h.01M912.1 187.1h.01M910.2 188.4h.01M783.5 277.8h.01M781.9 276.2h.01M855.3 100.6h.01M857.3 99.4h.01M723.7 200.3h.01M740.4 211.4h.01M924.3 130.4h.01M922.5 128.9h.01M847.6 167.6h.01M804.9 264.9h.01M798.6 283.3h.01M870.7 280.8h.01M823.5 89.1h.01M790.3 93.8h.01M837.9 105.1h.01M834.8 193.6h.01M839.6 106.9h.01M837.4 106.5h.01M750.8 231.5h.01M812.5 216.1h.01M840.6 257.1h.01M775.3 106.6h.01M902.0 154.4h.01M902.6 152.2h.01M784.2 274.0h.01M782.7 275.7h.01M785.5 89.4h.01M823.2 171.2h.01M845.4 150.1h.01M819.6 113.5h.01M817.4 113.2h.01M883.3 93.0h.01M773.7 95.8h.01M775.8 96.9h.01M896.4 179.2h.01M812.2 177.4h.01M773.3 95.6h.01M774.7 213.9h.01M772.4 214.0h.01M844.4 86.7h.01M842.2 87.1h.01M804.4 282.8h.01M804.6 79.3h.01M887.4 216.5h.01M885.1 216.4h.01M837.2 218.4h.01M725.7 211.8h.01M941.5 143.9h.01M799.6 89.9h.01M801.8 90.4h.01M853.2 77.2h.01M865.7 83.1h.01M935.7 135.1h.01M801.1 284.5h.01M829.1 277.5h.01M865.0 170.0h.01M946.5 146.7h.01M830.3 88.1h.01M894.0 87.0h.01M859.1 140.9h.01M819.8 219.6h.01M819.7 217.3h.01M828.1 151.8h.01M829.1 153.9h.01M791.1 146.9h.01M792.7 145.3h.01M950.9 142.0h.01M741.0 239.3h.01M738.8 239.7h.01M904.1 102.3h.01M902.2 101.0h.01M742.7 198.4h.01M742.0 196.2h.01M881.6 90.9h.01M755.9 120.2h.01M942.4 129.1h.01M804.5 119.7h.01M848.2 125.4h.01M846.2 124.3h.01M865.8 282.3h.01M828.5 75.7h.01M853.3 179.0h.01M777.6 240.9h.01M761.2 110.0h.01M735.7 126.3h.01M809.5 236.4h.01M817.7 230.7h.01M817.6 233.0h.01M786.1 196.4h.01M785.2 194.3h.01M779.2 232.0h.01M892.3 89.3h.01M873.8 107.8h.01M858.6 86.4h.01M900.3 96.0h.01M955.8 154.5h.01M955.5 156.8h.01M827.6 94.5h.01M773.1 145.3h.01M867.7 154.7h.01M754.6 253.0h.01M834.7 200.1h.01M777.2 91.3h.01M876.9 148.7h.01M877.0 150.9h.01M885.4 132.8h.01M873.2 79.3h.01M830.8 75.8h.01M799.7 119.1h.01M770.5 97.2h.01M772.8 97.1h.01M937.5 126.3h.01M842.1 251.1h.01M854.0 83.3h.01M718.8 188.0h.01M766.7 253.0h.01M765.3 254.9h.01M744.9 248.7h.01M745.2 246.4h.01M783.9 100.5h.01M895.0 193.8h.01M807.1 280.8h.01M747.9 194.6h.01M734.7 143.7h.01M734.4 141.5h.01M731.0 224.5h.01M783.5 92.9h.01M785.4 91.5h.01M844.9 155.3h.01M733.1 208.8h.01M732.3 206.7h.01M720.9 203.7h.01M785.1 141.3h.01M811.4 96.1h.01M868.5 134.1h.01M870.3 135.5h.01M827.3 257.5h.01M774.5 208.9h.01M770.4 270.1h.01M769.0 271.9h.01M811.6 246.4h.01M819.1 155.2h.01M727.5 222.0h.01M812.9 133.3h.01M892.4 95.0h.01M866.6 235.5h.01M864.3 235.2h.01M873.9 82.6h.01M863.4 177.9h.01M865.6 177.2h.01M866.2 104.9h.01M867.5 106.7h.01M806.0 79.3h.01M854.6 238.3h.01M830.7 77.2h.01M829.4 75.2h.01M872.3 251.6h.01M891.6 111.5h.01M773.8 270.5h.01M775.1 268.6h.01M813.8 279.0h.01M865.2 83.1h.01M878.1 80.7h.01M746.9 221.3h.01M724.4 177.5h.01M785.5 100.6h.01M720.2 168.9h.01M880.1 111.6h.01M720.9 160.0h.01M771.1 115.4h.01M772.6 113.7h.01M807.2 78.7h.01M783.2 276.0h.01M824.8 193.9h.01M826.8 194.9h.01M896.4 138.9h.01M735.4 199.5h.01M766.1 218.9h.01M762.1 264.8h.01M814.4 110.1h.01M758.1 236.9h.01M909.8 124.9h.01M908.1 100.8h.01M731.0 134.3h.01M840.4 107.9h.01M917.9 150.8h.01M842.4 199.6h.01M841.7 197.5h.01M845.6 81.2h.01M839.1 83.0h.01M800.3 156.1h.01M736.4 231.7h.01M815.6 99.5h.01M795.4 88.0h.01M749.5 236.3h.01M795.4 81.9h.01M818.4 216.1h.01M817.4 218.2h.01M811.0 130.3h.01M809.4 128.6h.01M750.6 199.0h.01M866.7 79.1h.01M773.5 232.5h.01M773.8 234.8h.01M802.1 244.3h.01M901.1 90.4h.01M735.1 233.0h.01M800.7 183.5h.01M814.0 203.2h.01M831.9 253.3h.01M728.6 189.5h.01M760.2 188.0h.01M758.0 188.8h.01M825.2 142.7h.01M802.0 229.9h.01M804.1 230.7h.01M783.4 272.8h.01M809.1 97.0h.01M810.7 95.4h.01M843.6 99.8h.01M842.0 101.4h.01M785.7 274.4h.01M720.5 172.7h.01M721.7 170.8h.01M751.5 231.9h.01M734.1 213.3h.01M752.9 164.0h.01M755.2 163.8h.01M843.2 152.1h.01M862.8 78.8h.01M836.1 289.0h.01M817.7 185.4h.01M747.4 126.6h.01M754.2 213.4h.01M755.6 211.5h.01M768.1 259.7h.01M754.2 107.9h.01M755.7 106.2h.01M764.8 148.5h.01M901.6 138.4h.01M721.2 190.7h.01M719.8 192.5h.01M815.4 253.2h.01M817.6 252.3h.01M769.7 260.5h.01M922.0 223.6h.01M921.9 221.3h.01M871.0 144.7h.01M868.7 144.1h.01M809.5 102.6h.01M880.5 130.5h.01M784.2 229.2h.01M771.8 271.1h.01M815.2 279.3h.01M873.5 258.5h.01M928.5 164.3h.01M812.9 91.9h.01M811.3 93.5h.01M740.5 151.2h.01M742.7 150.5h.01M851.9 194.7h.01M892.8 180.8h.01M812.5 112.3h.01M814.8 112.0h.01M725.0 149.3h.01M722.7 149.3h.01M794.1 82.4h.01M718.4 179.9h.01M871.9 117.4h.01M829.8 103.4h.01M830.9 101.4h.01M844.2 110.7h.01M842.2 111.9h.01M782.0 111.1h.01M879.9 109.0h.01M808.3 214.6h.01M806.1 214.0h.01M883.9 199.9h.01M875.4 80.6h.01M865.3 120.5h.01M867.5 120.0h.01M718.9 192.5h.01M895.3 173.4h.01M784.4 108.6h.01M786.7 108.5h.01M823.6 229.5h.01M893.5 133.9h.01M893.4 136.2h.01M875.8 98.4h.01M821.3 132.8h.01M820.6 215.9h.01M862.5 99.3h.01M763.6 108.2h.01M761.5 107.3h.01M815.6 89.2h.01M803.2 168.3h.01M805.3 108.8h.01M939.6 126.8h.01M893.2 178.8h.01M894.2 180.9h.01M761.3 140.3h.01M955.8 155.4h.01M958.1 156.0h.01M826.4 149.7h.01M848.3 286.1h.01M846.0 286.6h.01M791.1 181.4h.01M791.8 179.2h.01M888.1 92.4h.01M864.6 104.7h.01M740.8 131.0h.01M865.2 86.2h.01M866.5 84.3h.01M851.6 266.8h.01M800.9 284.7h.01M743.0 150.4h.01M815.8 287.4h.01M754.1 227.8h.01M752.5 226.2h.01M780.3 250.7h.01M780.9 252.9h.01M878.9 80.9h.01M896.5 256.9h.01M833.1 192.0h.01M835.2 192.9h.01M773.1 269.5h.01M775.4 269.3h.01M830.1 83.8h.01M877.2 203.8h.01M827.7 180.1h.01M813.3 79.4h.01M806.1 169.8h.01M804.5 171.4h.01M794.1 273.2h.01M760.0 159.1h.01M823.5 75.6h.01M851.8 250.9h.01M877.6 118.2h.01M793.2 266.3h.01M890.8 85.6h.01M951.1 143.2h.01M767.1 221.4h.01M861.7 191.6h.01M860.9 193.8h.01M855.2 133.7h.01M809.9 124.8h.01M811.8 126.1h.01M842.1 193.8h.01M869.6 80.9h.01M870.9 82.8h.01M799.1 215.9h.01M785.2 271.0h.01M785.6 273.3h.01M783.1 213.3h.01M837.2 196.4h.01M809.1 79.1h.01M807.0 80.1h.01M811.6 186.4h.01M727.1 174.2h.01M778.0 89.8h.01M786.0 261.8h.01M787.6 263.5h.01M846.7 121.8h.01M840.3 217.1h.01M851.5 215.0h.01M756.1 239.7h.01M892.5 147.5h.01M890.7 146.1h.01M926.5 172.9h.01M726.6 184.2h.01M870.5 101.9h.01M871.2 104.1h.01M849.2 189.1h.01M848.1 187.1h.01M826.1 90.5h.01M813.6 115.8h.01M811.3 116.0h.01M808.6 178.6h.01M882.7 82.2h.01M789.9 277.8h.01M730.4 167.8h.01M821.2 120.4h.01M849.4 80.5h.01M797.6 218.5h.01M885.8 257.8h.01M788.2 110.7h.01M738.8 158.3h.01M771.7 208.5h.01M770.0 207.0h.01M856.8 230.5h.01M900.1 216.1h.01M860.8 95.8h.01M862.5 97.3h.01M772.8 92.3h.01M718.6 188.4h.01M817.1 284.7h.01M723.7 150.4h.01M753.5 235.6h.01M796.0 90.9h.01M792.2 83.4h.01M792.8 85.6h.01M769.5 128.5h.01M925.1 117.8h.01M772.0 271.0h.01M773.9 269.7h.01M840.3 237.5h.01M838.1 237.7h.01M834.6 217.0h.01M823.6 238.4h.01M857.6 81.7h.01M804.5 214.9h.01M722.0 197.5h.01M896.9 260.3h.01M943.7 171.4h.01M923.1 105.3h.01M907.7 94.0h.01M864.7 123.0h.01M841.3 284.3h.01M817.3 151.7h.01M942.8 177.5h.01M943.9 175.5h.01M804.7 280.0h.01M774.7 112.4h.01M746.8 128.9h.01M798.2 90.7h.01M767.5 139.8h.01M778.0 169.6h.01M764.1 118.3h.01M762.0 119.2h.01M840.6 100.6h.01M841.9 98.7h.01M867.9 164.2h.01M728.3 178.4h.01M729.7 180.3h.01M736.7 134.9h.01M831.0 119.8h.01M721.0 188.2h.01M718.9 189.1h.01M776.1 128.0h.01M773.8 127.8h.01M842.8 277.7h.01M767.6 178.3h.01M772.8 255.2h.01M950.4 147.5h.01M949.0 149.3h.01M909.2 133.0h.01M907.9 134.9h.01M825.3 163.0h.01M860.4 101.2h.01M789.1 105.4h.01M823.8 127.4h.01M736.2 180.5h.01M736.2 178.2h.01M900.1 118.7h.01M923.7 111.0h.01M798.4 283.7h.01M761.3 252.7h.01M820.2 280.5h.01M799.2 241.6h.01M795.9 241.0h.01M721.1 168.1h.01M861.2 106.2h.01M748.4 116.8h.01M849.4 92.2h.01M807.9 146.0h.01M766.4 234.4h.01M762.6 150.9h.01M760.4 151.3h.01M905.5 93.3h.01M888.2 136.5h.01M875.6 120.8h.01M794.4 140.6h.01M821.9 77.8h.01M909.9 169.0h.01M909.2 166.8h.01M866.8 276.0h.01M772.2 262.0h.01M841.6 214.6h.01M798.8 115.8h.01M790.6 105.3h.01M791.7 107.3h.01M779.1 95.1h.01M780.1 97.2h.01M763.7 99.1h.01M864.5 93.8h.01M735.7 163.8h.01M823.6 203.6h.01M825.6 202.4h.01M800.2 83.8h.01M827.2 103.1h.01M829.5 103.1h.01M890.9 147.3h.01M872.0 206.1h.01M873.4 204.3h.01M763.8 235.7h.01M876.5 121.0h.01M875.4 123.0h.01M730.5 199.3h.01M869.0 217.6h.01M849.8 115.5h.01M852.1 115.7h.01M721.9 205.4h.01M724.0 206.3h.01M950.1 140.7h.01M738.4 232.6h.01M742.7 131.2h.01M725.6 155.5h.01M723.7 154.2h.01M775.0 229.6h.01M872.1 187.3h.01M824.6 131.7h.01M822.5 130.9h.01M738.1 149.6h.01M789.6 87.4h.01M750.7 201.3h.01M836.2 189.2h.01M834.2 190.3h.01M870.4 159.7h.01M801.0 278.7h.01M775.1 114.2h.01M890.9 174.0h.01M850.9 119.7h.01M830.4 249.9h.01M834.5 127.9h.01M724.5 215.0h.01M845.7 179.7h.01M751.0 114.0h.01M749.7 115.9h.01M769.6 141.0h.01M820.1 189.2h.01M801.4 273.0h.01M745.2 246.6h.01M916.4 104.7h.01M897.6 117.7h.01M761.7 124.3h.01M728.9 151.2h.01M857.6 100.8h.01M859.7 101.7h.01M807.3 252.7h.01M792.7 84.7h.01M768.5 150.8h.01M722.4 170.0h.01M721.0 171.8h.01M895.6 179.9h.01M744.5 234.4h.01M743.8 236.6h.01M744.7 237.0h.01M757.8 261.9h.01M897.6 131.0h.01M812.4 97.7h.01M851.1 165.8h.01M816.1 207.7h.01M859.9 135.7h.01M719.0 171.2h.01M783.4 99.3h.01M869.7 237.9h.01M871.1 239.7h.01M850.1 274.9h.01M739.4 237.5h.01M850.0 178.4h.01M849.6 176.2h.01M748.4 180.4h.01M860.0 152.0h.01M857.7 151.8h.01M722.5 162.2h.01M797.4 274.5h.01M798.4 272.4h.01M822.1 98.9h.01M821.5 96.7h.01M859.9 160.0h.01M907.7 122.4h.01M909.9 121.6h.01M794.5 144.2h.01M762.0 260.6h.01M725.7 159.6h.01M727.5 161.0h.01M784.8 250.4h.01M784.1 248.2h.01M728.3 160.2h.01M730.3 159.1h.01M765.5 117.9h.01M728.4 224.8h.01M846.9 275.1h.01M804.8 196.1h.01M858.0 189.3h.01M911.3 136.5h.01M752.1 246.2h.01M769.2 146.4h.01M767.7 148.2h.01M866.4 132.7h.01M724.9 168.6h.01M833.0 96.3h.01M746.6 204.3h.01M748.6 203.2h.01M824.0 96.4h.01M739.5 242.7h.01M837.5 247.9h.01M854.8 112.1h.01M910.2 122.2h.01M883.1 175.5h.01M773.4 259.5h.01M911.0 96.4h.01M833.2 218.3h.01M832.1 216.3h.01M863.5 168.7h.01M940.6 124.4h.01M843.6 81.7h.01M823.0 207.3h.01M776.2 262.8h.01M834.5 80.8h.01M832.3 80.3h.01M783.3 86.7h.01M784.0 84.5h.01M796.5 89.1h.01M797.8 91.0h.01M781.4 231.4h.01M765.7 225.5h.01M768.0 225.3h.01M935.4 123.6h.01M837.4 75.9h.01M755.0 130.7h.01M764.4 98.8h.01M907.0 140.3h.01M906.1 142.4h.01M800.0 264.0h.01M749.2 231.9h.01M865.7 95.9h.01M864.0 97.5h.01M885.3 111.0h.01M921.5 116.4h.01M789.4 275.5h.01M839.0 75.5h.01M815.0 275.3h.01M729.9 170.1h.01M728.7 172.0h.01M751.8 234.0h.01M782.8 258.0h.01M799.3 280.0h.01M797.0 279.9h.01M776.8 205.9h.01M809.8 83.0h.01M933.8 121.2h.01M936.1 121.8h.01M766.9 96.2h.01M766.3 94.0h.01M827.5 85.2h.01M829.8 84.7h.01M730.1 144.9h.01M739.6 122.5h.01M940.6 144.4h.01M783.9 90.7h.01M765.3 266.4h.01M763.3 265.4h.01M862.0 90.3h.01M845.2 99.1h.01M845.5 96.8h.01M834.4 204.1h.01M899.3 209.7h.01M801.1 107.3h.01M800.7 109.6h.01M873.9 92.1h.01M872.0 90.8h.01M780.2 153.4h.01M748.2 172.0h.01M865.8 127.9h.01M721.0 163.3h.01M803.0 89.8h.01M800.7 89.8h.01M848.2 288.0h.01M940.1 130.8h.01M841.6 228.5h.01M774.6 92.4h.01M772.5 93.3h.01M813.8 118.7h.01M814.9 120.7h.01M850.6 225.0h.01M848.5 225.9h.01M834.0 77.6h.01M886.3 88.2h.01M777.0 271.6h.01M814.8 263.3h.01M733.0 152.4h.01M720.4 179.7h.01M885.1 151.8h.01M942.4 215.8h.01M818.7 76.4h.01M820.5 74.9h.01M758.7 223.4h.01M805.3 267.4h.01M720.5 202.1h.01M722.5 203.3h.01M752.2 229.8h.01M854.6 271.1h.01M766.9 116.9h.01M769.0 118.0h.01M909.7 110.7h.01M799.1 249.4h.01M886.4 93.2h.01M897.1 218.9h.01M893.9 99.9h.01M873.7 116.5h.01M876.0 116.5h.01M736.3 181.2h.01M783.0 89.1h.01M784.4 87.3h.01M840.4 152.6h.01M862.1 180.2h.01M761.9 133.8h.01M761.3 136.1h.01M884.2 118.4h.01M882.1 117.6h.01M793.6 281.2h.01M836.2 174.0h.01M835.3 176.1h.01M848.6 79.6h.01M848.8 81.9h.01M896.3 275.5h.01M839.7 149.0h.01M840.7 151.1h.01M878.9 88.3h.01M920.7 139.9h.01M761.5 196.6h.01M776.5 274.4h.01M726.9 215.5h.01M727.4 217.8h.01M802.7 272.7h.01M759.5 134.0h.01M872.2 92.7h.01M872.0 95.0h.01M761.6 165.2h.01M761.0 102.1h.01M835.3 76.4h.01M812.5 147.7h.01" stroke="#1a2328" stroke-width="2.5" stroke-linecap="round" fill="none" opacity="0.66"/>
<path d="M942.5 129.6h.01M924.3 259.8h.01M946.0 163.3h.01M932.3 135.4h.01M914.3 240.2h.01M916.4 241.1h.01M880.3 247.8h.01M939.4 141.3h.01M934.7 168.1h.01M920.0 200.3h.01M923.3 107.2h.01M946.0 132.7h.01M947.0 175.2h.01M958.6 176.0h.01M960.0 177.8h.01M885.2 230.0h.01M897.2 271.8h.01M940.2 152.6h.01M736.0 237.8h.01M880.6 275.5h.01M881.4 277.6h.01M888.0 267.5h.01M906.9 246.9h.01M868.3 284.4h.01M926.6 117.8h.01M924.4 117.0h.01M874.1 257.8h.01M870.0 287.0h.01M937.1 241.1h.01M934.9 241.5h.01M842.9 77.8h.01M843.0 75.5h.01M874.1 174.0h.01M913.7 266.3h.01M911.6 267.3h.01M932.3 211.7h.01M934.3 212.8h.01M861.2 241.2h.01M862.0 239.0h.01M938.1 220.2h.01M837.9 267.7h.01M821.8 264.3h.01M925.9 250.5h.01M820.3 288.1h.01M818.3 289.1h.01M881.0 243.2h.01M861.3 179.4h.01M847.3 216.8h.01M939.8 144.4h.01M885.0 228.7h.01M939.1 205.2h.01M940.7 206.8h.01M955.9 209.1h.01M929.0 217.5h.01M876.2 211.0h.01M874.2 209.9h.01M873.2 254.9h.01M875.4 255.3h.01M952.0 163.3h.01M889.0 281.2h.01M910.5 230.5h.01M945.3 173.5h.01M874.3 228.9h.01M873.1 227.0h.01M955.0 192.3h.01M957.3 185.5h.01M894.9 115.0h.01M845.1 245.7h.01M884.8 268.0h.01M945.7 169.1h.01M953.0 209.5h.01M859.3 243.8h.01M857.1 243.1h.01M860.7 261.4h.01M859.9 259.3h.01M822.2 152.6h.01M822.0 154.8h.01M952.9 189.7h.01M955.2 190.3h.01M907.0 220.2h.01M949.7 162.3h.01M947.8 228.6h.01M887.0 253.9h.01M914.1 264.4h.01M905.8 249.3h.01M881.5 125.7h.01M860.8 288.6h.01M863.0 289.2h.01M850.5 289.4h.01M848.3 288.8h.01M941.3 133.4h.01M938.9 144.1h.01M950.5 163.1h.01M931.9 115.1h.01M934.0 116.1h.01M934.1 146.6h.01M959.3 170.8h.01M845.4 282.6h.01M864.7 262.1h.01M894.0 248.1h.01M896.2 248.6h.01M904.0 256.3h.01M958.9 170.8h.01M950.2 174.4h.01M929.5 237.1h.01M764.4 98.6h.01M798.0 281.6h.01M799.0 279.5h.01M960.1 183.0h.01M936.3 239.9h.01M936.1 242.2h.01M953.6 215.5h.01M958.2 202.9h.01M896.5 274.0h.01M930.2 195.4h.01M852.6 274.1h.01M900.9 257.4h.01M917.0 244.8h.01M915.0 243.6h.01M915.8 250.6h.01M916.5 252.8h.01M841.2 131.9h.01M831.5 241.8h.01M941.7 219.2h.01M939.6 218.3h.01M918.4 197.9h.01M896.0 277.9h.01M883.5 282.9h.01M885.1 282.5h.01M932.9 251.5h.01M856.1 279.2h.01M889.0 278.6h.01M884.0 280.3h.01M883.1 282.4h.01M903.9 185.1h.01M952.2 164.1h.01M952.0 161.8h.01M939.0 123.0h.01M889.1 176.4h.01M829.4 286.9h.01M957.3 159.6h.01M955.3 158.5h.01M921.4 211.3h.01M922.9 209.6h.01M871.2 282.5h.01M923.0 171.3h.01M951.3 210.5h.01M953.5 211.3h.01M959.6 180.1h.01M958.3 193.8h.01M849.1 263.2h.01M848.6 260.9h.01M888.8 89.5h.01M946.3 133.8h.01M940.7 125.7h.01M941.4 123.5h.01M917.5 257.0h.01M894.2 201.8h.01M954.5 214.0h.01M886.2 107.8h.01M887.9 106.2h.01M940.5 159.6h.01M792.0 115.2h.01M862.0 274.9h.01M865.9 282.6h.01M954.7 151.0h.01M953.7 153.0h.01M945.2 215.1h.01M942.9 215.3h.01M888.0 88.6h.01M959.9 178.9h.01M958.1 177.6h.01M840.9 290.5h.01M839.9 288.4h.01M854.5 266.8h.01M920.9 181.1h.01M934.3 238.8h.01M932.1 239.6h.01M951.0 208.2h.01M928.4 177.1h.01M929.4 175.0h.01M920.4 207.5h.01M914.3 254.7h.01M915.5 256.7h.01M765.3 156.3h.01M763.2 157.3h.01M954.1 187.7h.01M934.4 126.3h.01M917.2 261.9h.01M937.5 235.1h.01M879.4 277.4h.01M878.3 275.4h.01M922.9 258.3h.01M923.4 256.1h.01M830.9 268.2h.01M946.0 199.8h.01M923.3 257.7h.01M932.4 195.4h.01M950.5 223.6h.01M813.3 287.7h.01M761.6 204.8h.01M957.9 163.4h.01M819.9 288.3h.01M941.7 126.2h.01M937.6 237.2h.01M893.0 243.4h.01M946.5 160.5h.01M946.9 162.8h.01M959.9 191.6h.01M961.7 190.1h.01M948.8 204.7h.01M947.0 203.2h.01M935.5 192.1h.01M913.4 265.3h.01M912.5 263.2h.01M940.7 153.7h.01M938.6 154.6h.01M940.7 196.7h.01M851.4 278.3h.01M853.4 279.4h.01M930.3 179.9h.01M931.8 181.6h.01M857.9 249.1h.01M858.1 246.8h.01M903.6 195.8h.01M949.9 214.1h.01M831.7 202.1h.01M868.4 120.0h.01M869.2 117.9h.01M883.3 263.9h.01M901.0 243.9h.01M899.5 245.7h.01M940.4 125.9h.01M940.5 160.3h.01M934.1 196.1h.01M933.4 198.3h.01M806.5 282.0h.01M948.1 220.6h.01M948.3 222.9h.01M887.2 189.3h.01M884.9 188.9h.01M759.7 184.8h.01M757.5 185.1h.01M819.5 244.9h.01M871.5 264.0h.01M946.4 224.1h.01M908.5 213.0h.01M906.8 211.4h.01M887.0 278.9h.01M933.1 222.7h.01M932.3 224.9h.01M893.6 239.7h.01M754.2 185.4h.01M947.3 224.0h.01M947.5 221.7h.01M754.8 135.2h.01M757.0 135.7h.01M891.2 164.9h.01M956.6 189.1h.01M900.4 175.6h.01M901.5 177.6h.01M926.6 206.6h.01M927.3 204.4h.01M853.2 211.0h.01M953.4 152.4h.01M863.4 253.1h.01M948.0 194.6h.01M952.7 217.4h.01M937.7 223.6h.01M938.3 221.3h.01M940.5 191.9h.01M896.1 198.4h.01M894.0 199.3h.01M920.3 253.5h.01M748.1 114.8h.01M895.6 173.0h.01M854.7 282.6h.01M910.8 214.7h.01M844.2 89.3h.01M819.2 277.3h.01M954.9 215.0h.01M931.8 178.4h.01M846.4 290.2h.01M847.3 288.1h.01M846.4 274.3h.01M904.6 252.2h.01M931.2 252.1h.01M895.0 148.1h.01M883.0 274.2h.01M869.1 281.7h.01M867.0 280.9h.01M952.3 189.9h.01M888.4 267.6h.01M948.3 146.8h.01M950.6 146.3h.01M931.8 140.5h.01M860.5 227.5h.01M863.7 266.1h.01M903.2 272.0h.01M923.1 240.8h.01M956.9 177.9h.01M905.8 273.1h.01M904.3 274.7h.01M951.5 219.1h.01M889.2 272.4h.01M887.2 255.5h.01M876.6 279.7h.01M942.0 219.7h.01M877.7 222.6h.01M879.8 221.9h.01M865.2 242.5h.01M867.4 241.9h.01M952.1 205.6h.01M950.1 204.4h.01M932.6 221.1h.01M931.2 219.3h.01M919.2 208.3h.01M917.0 207.7h.01M880.5 278.5h.01M892.7 279.6h.01M915.1 216.6h.01M943.3 215.5h.01M935.0 134.1h.01M933.8 132.1h.01M764.1 129.2h.01M896.1 248.1h.01M951.5 218.6h.01M953.0 216.8h.01M959.3 193.5h.01M961.2 192.2h.01M877.5 253.8h.01M942.2 159.7h.01M944.5 160.0h.01M927.4 181.5h.01M873.0 272.8h.01M856.8 210.0h.01M953.0 154.7h.01M954.7 153.3h.01M954.3 171.9h.01M866.9 277.3h.01M943.5 156.7h.01M948.1 223.2h.01M945.8 222.9h.01M951.7 186.8h.01M953.3 188.5h.01M957.8 185.9h.01M956.1 184.3h.01M919.4 199.7h.01M916.2 114.6h.01M958.8 193.6h.01M911.2 252.1h.01M910.2 254.2h.01M839.1 215.9h.01M836.9 215.6h.01M771.2 97.1h.01M771.7 94.8h.01M940.1 241.9h.01M947.4 230.1h.01M946.2 228.2h.01M872.5 282.6h.01M948.0 212.7h.01M949.0 210.6h.01M870.1 171.6h.01M868.6 173.3h.01M909.8 178.0h.01M909.3 180.2h.01M939.2 228.8h.01M936.9 229.0h.01M932.7 167.6h.01M934.8 168.3h.01M804.0 130.5h.01M806.0 129.4h.01M944.0 204.9h.01M941.8 205.4h.01M848.3 285.9h.01M895.7 276.8h.01M831.5 84.0h.01M891.7 248.5h.01M894.4 273.7h.01M944.7 130.2h.01M942.4 130.1h.01M923.9 201.6h.01M886.6 242.5h.01M887.4 240.4h.01M956.2 191.9h.01M877.4 263.6h.01M898.1 270.0h.01M958.3 166.6h.01M907.2 95.9h.01M947.3 231.5h.01M859.7 271.6h.01M878.1 284.7h.01M875.8 284.8h.01M941.4 213.3h.01M908.0 162.0h.01M905.1 273.1h.01M942.0 236.7h.01M941.6 239.0h.01M866.9 230.3h.01M865.9 232.3h.01M924.5 142.5h.01M945.7 132.6h.01M914.3 187.9h.01M949.2 138.2h.01M952.6 212.2h.01M878.5 237.7h.01M878.4 235.4h.01M861.9 245.3h.01M860.8 243.3h.01M941.5 228.0h.01M947.8 136.4h.01M850.2 126.7h.01M932.4 202.0h.01M873.3 286.3h.01M941.6 184.1h.01M939.3 184.5h.01M956.7 157.0h.01M909.8 243.5h.01M951.2 172.6h.01M948.9 172.1h.01M883.0 282.1h.01M856.5 282.0h.01M859.8 273.5h.01M904.3 225.5h.01M918.5 146.5h.01M880.8 256.5h.01M923.4 258.4h.01M845.6 288.1h.01M847.3 289.6h.01M881.6 238.8h.01M932.1 221.9h.01M867.6 279.4h.01M960.2 186.2h.01M909.3 187.8h.01M897.6 179.5h.01M898.2 181.7h.01M946.9 164.6h.01M946.7 162.3h.01M945.6 171.6h.01M902.9 274.2h.01M905.9 272.4h.01M907.9 271.2h.01M892.6 249.9h.01M890.2 272.5h.01M884.8 93.7h.01M886.9 93.0h.01M886.3 265.7h.01M887.9 264.0h.01M816.1 209.4h.01M814.0 208.6h.01M919.6 230.5h.01M918.5 228.5h.01M896.2 217.3h.01M889.5 258.9h.01M806.4 148.8h.01M827.1 289.7h.01M955.6 207.3h.01M914.9 249.6h.01M899.5 242.7h.01M897.4 243.7h.01M797.1 81.4h.01M924.2 171.0h.01M922.1 170.1h.01M957.3 206.9h.01M796.3 85.4h.01M922.8 197.9h.01M833.3 286.5h.01M835.1 287.9h.01M902.8 257.3h.01M900.5 257.1h.01M779.4 262.4h.01M878.5 264.4h.01M952.8 217.7h.01M937.8 130.1h.01M820.4 77.0h.01M733.8 155.3h.01M735.9 154.3h.01M863.4 255.4h.01M889.4 208.6h.01M952.8 147.4h.01M953.2 145.1h.01M846.3 250.5h.01M930.7 253.8h.01M868.9 263.9h.01M934.6 127.1h.01M938.3 233.2h.01M885.6 277.6h.01M872.3 265.0h.01M765.9 103.5h.01M941.3 204.5h.01M942.1 202.4h.01M919.5 247.4h.01M917.3 248.1h.01M929.5 248.3h.01M951.7 149.0h.01M733.4 228.0h.01M731.4 226.8h.01M925.2 232.1h.01M837.4 229.6h.01M905.4 258.6h.01M905.5 256.3h.01M886.0 268.8h.01M952.9 192.5h.01M903.7 260.9h.01M913.0 214.5h.01M935.8 122.9h.01M899.1 276.2h.01M897.4 277.7h.01M814.9 286.0h.01M812.7 286.7h.01M937.5 243.7h.01M935.8 242.1h.01M875.1 284.6h.01M934.0 250.2h.01M918.4 254.6h.01M916.6 253.2h.01M907.4 218.7h.01M955.6 171.5h.01M898.7 252.6h.01M959.2 173.7h.01M960.7 175.4h.01M729.2 138.4h.01M731.4 139.2h.01M856.1 112.3h.01M958.5 189.4h.01M879.6 273.7h.01M951.9 145.1h.01M955.6 157.2h.01M896.9 184.4h.01M947.7 180.3h.01" stroke="#787c7c" stroke-width="2.4" stroke-linecap="round" fill="none" opacity="0.58"/>
<path d="M653.8 321.0L653.8 225.3" stroke="#000" stroke-width="2.5" fill="none"/><polygon points="653.8,217.5 658.8,227.3 648.8,227.3" fill="#000"/><path d="M653.2 320.6L743.6 289.5" stroke="#000" stroke-width="2.5" fill="none"/><polygon points="751.0,287.0 743.4,294.9 740.1,285.5" fill="#000"/><path d="M653.2 320.2L716.1 346.0" stroke="#000" stroke-width="2.5" fill="none"/><polygon points="723.3,349.0 712.3,349.9 716.1,340.7" fill="#000"/><text x="631" y="233" font-size="22.5" font-weight="bold">z</text><text x="748" y="319.3" font-size="22.5" font-weight="bold">x</text><text x="704.3" y="375" font-size="22.5" font-weight="bold">y</text><text x="583.2" y="46.0" font-size="38.5" font-weight="bold" letter-spacing="0.4">(b)</text>
</g>
<path d="M246.4 783.4v-4.5M246.4 468.2v4.5" stroke="#262626" stroke-width="1.3" fill="none"/>
<path d="M404.1 783.4v-4.5M404.1 468.2v4.5" stroke="#262626" stroke-width="1.3" fill="none"/>
<path d="M88.70 783.40 L96.70 783.37 L97.45 783.34 L97.70 783.31 L97.95 783.26 L98.20 783.16 L98.25 783.13 L98.45 782.97 L98.50 782.91 L98.65 782.69 L98.70 782.60 L98.80 782.41 L98.90 782.26 L98.95 782.21 L99.00 782.20 L99.10 782.26 L99.20 782.41 L99.35 782.69 L99.45 782.84 L99.50 782.91 L99.70 783.10 L99.75 783.13 L99.95 783.23 L100.20 783.29 L100.45 783.33 L100.70 783.35 L101.20 783.37 L102.70 783.39 L124.95 783.37 L125.95 783.34 L126.45 783.32 L126.70 783.30 L126.95 783.28 L127.20 783.24 L127.45 783.20 L127.70 783.13 L127.95 783.02 L128.20 782.85 L128.45 782.54 L128.70 781.96 L128.75 781.79 L128.95 780.80 L129.00 780.46 L129.15 779.12 L129.20 778.59 L129.30 777.48 L129.40 776.56 L129.45 776.29 L129.50 776.20 L129.60 776.56 L129.70 777.48 L129.85 779.12 L129.95 780.06 L130.00 780.46 L130.20 781.60 L130.25 781.79 L130.45 782.35 L130.70 782.74 L130.95 782.96 L131.20 783.09 L131.45 783.17 L131.70 783.23 L131.95 783.26 L132.20 783.29 L132.45 783.31 L132.95 783.34 L133.70 783.36 L135.45 783.38 L144.20 783.35 L144.45 783.34 L144.70 783.31 L144.95 783.27 L145.20 783.18 L145.25 783.15 L145.45 783.00 L145.50 782.95 L145.65 782.74 L145.70 782.66 L145.80 782.49 L145.90 782.35 L145.95 782.31 L146.00 782.30 L146.10 782.35 L146.20 782.49 L146.35 782.74 L146.45 782.89 L146.50 782.95 L146.70 783.12 L146.75 783.15 L146.95 783.24 L147.20 783.30 L147.45 783.33 L147.95 783.36 L148.95 783.38 L168.95 783.36 L170.45 783.34 L171.20 783.32 L171.70 783.30 L172.20 783.27 L172.45 783.25 L172.70 783.22 L172.95 783.19 L173.20 783.16 L173.45 783.11 L173.70 783.05 L173.95 782.97 L174.20 782.86 L174.45 782.70 L174.70 782.48 L174.95 782.13 L175.20 781.59 L175.45 780.66 L175.70 778.96 L175.85 777.24 L175.95 775.61 L176.10 772.11 L176.20 768.89 L176.25 766.99 L176.40 760.70 L176.45 758.77 L176.50 757.20 L176.60 755.80 L176.70 757.20 L176.80 760.70 L176.95 766.99 L177.10 772.11 L177.20 774.61 L177.35 777.24 L177.45 778.47 L177.70 780.40 L177.95 781.44 L178.20 782.04 L178.45 782.42 L178.70 782.66 L178.95 782.83 L179.20 782.95 L179.45 783.03 L179.70 783.10 L179.95 783.15 L180.20 783.19 L180.45 783.22 L180.70 783.24 L181.20 783.28 L181.70 783.30 L182.45 783.33 L183.70 783.35 L189.45 783.33 L189.95 783.31 L190.20 783.29 L190.45 783.26 L190.70 783.23 L190.95 783.18 L191.20 783.10 L191.45 782.98 L191.70 782.78 L191.95 782.42 L192.15 781.90 L192.20 781.71 L192.40 780.65 L192.45 780.28 L192.55 779.41 L192.70 777.88 L192.80 777.03 L192.90 776.69 L192.95 776.78 L193.00 777.03 L193.10 777.88 L193.20 778.91 L193.25 779.41 L193.40 780.65 L193.45 780.97 L193.65 781.90 L193.70 782.06 L193.95 782.59 L194.20 782.88 L194.45 783.04 L194.70 783.14 L194.95 783.20 L195.20 783.25 L195.45 783.28 L195.70 783.30 L196.20 783.33 L196.95 783.35 L198.45 783.37 L216.45 783.35 L218.45 783.33 L219.70 783.30 L220.45 783.28 L221.20 783.26 L221.70 783.23 L222.20 783.20 L222.45 783.18 L222.70 783.16 L222.95 783.14 L223.20 783.11 L223.45 783.08 L223.70 783.04 L223.95 783.00 L224.20 782.95 L224.45 782.89 L224.70 782.82 L224.95 782.73 L225.20 782.62 L225.45 782.48 L225.70 782.31 L225.95 782.09 L226.20 781.80 L226.45 781.41 L226.70 780.88 L226.95 780.12 L227.20 779.00 L227.45 777.28 L227.70 774.45 L227.95 769.52 L228.20 760.20 L228.25 757.44 L228.45 741.43 L228.50 735.81 L228.65 714.21 L228.70 705.58 L228.80 687.69 L228.90 672.89 L228.95 668.52 L229.00 666.99 L229.10 672.89 L229.20 687.69 L229.35 714.21 L229.45 729.41 L229.50 735.81 L229.70 754.25 L229.75 757.44 L229.95 766.51 L230.20 772.82 L230.45 776.32 L230.70 778.40 L230.95 779.73 L231.20 780.61 L231.45 781.22 L231.70 781.66 L231.95 781.98 L232.20 782.23 L232.45 782.42 L232.70 782.56 L232.95 782.68 L233.20 782.78 L233.45 782.86 L233.70 782.92 L233.95 782.97 L234.20 783.02 L234.45 783.06 L234.70 783.09 L234.95 783.12 L235.20 783.15 L235.45 783.17 L235.95 783.20 L236.45 783.23 L236.95 783.25 L237.70 783.27 L238.95 783.29 L241.70 783.27 L242.20 783.24 L242.45 783.22 L242.70 783.20 L242.95 783.16 L243.20 783.12 L243.45 783.06 L243.70 782.98 L243.95 782.85 L244.20 782.67 L244.45 782.38 L244.70 781.89 L244.95 781.01 L245.15 779.74 L245.20 779.29 L245.40 776.71 L245.45 775.81 L245.55 773.68 L245.70 769.97 L245.80 767.90 L245.90 767.07 L245.95 767.29 L246.00 767.90 L246.10 769.97 L246.20 772.48 L246.25 773.69 L246.40 776.71 L246.45 777.50 L246.65 779.74 L246.70 780.13 L246.95 781.43 L247.20 782.12 L247.45 782.52 L247.70 782.76 L247.95 782.92 L248.20 783.03 L248.45 783.10 L248.70 783.16 L248.95 783.20 L249.20 783.23 L249.45 783.25 L249.95 783.29 L250.45 783.31 L251.20 783.33 L252.45 783.35 L255.95 783.37 L269.70 783.35 L271.95 783.33 L273.20 783.31 L274.20 783.28 L274.95 783.26 L275.45 783.23 L275.95 783.20 L276.20 783.18 L276.45 783.16 L276.70 783.14 L276.95 783.12 L277.20 783.08 L277.45 783.05 L277.70 783.01 L277.95 782.96 L278.20 782.90 L278.45 782.83 L278.70 782.74 L278.95 782.64 L279.20 782.51 L279.45 782.35 L279.70 782.14 L279.95 781.86 L280.20 781.50 L280.45 781.00 L280.70 780.30 L280.95 779.27 L281.20 777.69 L281.45 775.14 L281.70 770.75 L281.95 762.60 L282.05 757.43 L282.20 746.32 L282.30 735.81 L282.45 714.21 L282.60 687.69 L282.70 672.89 L282.80 666.99 L282.90 672.89 L282.95 679.54 L283.00 687.69 L283.15 714.21 L283.20 722.20 L283.30 735.81 L283.45 750.57 L283.55 757.43 L283.70 764.69 L283.95 771.85 L284.20 775.76 L284.45 778.06 L284.70 779.50 L284.95 780.46 L285.20 781.11 L285.45 781.58 L285.70 781.92 L285.95 782.18 L286.20 782.38 L286.45 782.53 L286.70 782.66 L286.95 782.76 L287.20 782.84 L287.45 782.91 L287.70 782.96 L287.95 783.01 L288.20 783.05 L288.45 783.08 L288.70 783.11 L288.95 783.14 L289.20 783.16 L289.70 783.20 L290.20 783.22 L290.70 783.25 L291.45 783.27 L292.45 783.29 L296.95 783.27 L297.45 783.25 L297.95 783.22 L298.20 783.20 L298.45 783.17 L298.70 783.14 L298.95 783.10 L299.20 783.04 L299.45 782.98 L299.70 782.88 L299.95 782.76 L300.20 782.59 L300.45 782.34 L300.70 781.97 L300.95 781.38 L301.20 780.39 L301.45 778.61 L301.65 776.04 L301.70 775.14 L301.90 769.93 L301.95 768.12 L302.05 763.82 L302.20 756.33 L302.30 752.15 L302.40 750.48 L302.45 750.91 L302.50 752.15 L302.60 756.33 L302.70 761.39 L302.75 763.83 L302.90 769.93 L302.95 771.52 L303.15 776.05 L303.20 776.83 L303.45 779.46 L303.70 780.86 L303.95 781.65 L304.20 782.14 L304.45 782.46 L304.70 782.67 L304.95 782.82 L305.20 782.93 L305.45 783.02 L305.70 783.08 L305.95 783.13 L306.20 783.17 L306.45 783.20 L306.70 783.22 L306.95 783.24 L307.45 783.27 L307.95 783.30 L308.70 783.32 L309.95 783.34 L312.95 783.36 L315.20 783.34 L315.45 783.33 L315.70 783.30 L315.95 783.26 L316.20 783.18 L316.25 783.16 L316.45 783.02 L316.50 782.97 L316.65 782.79 L316.70 782.71 L316.80 782.56 L316.90 782.43 L316.95 782.39 L317.00 782.38 L317.10 782.43 L317.20 782.56 L317.35 782.79 L317.45 782.92 L317.50 782.97 L317.70 783.13 L317.75 783.16 L317.95 783.24 L318.20 783.29 L318.45 783.32 L318.95 783.35 L320.20 783.37 L332.20 783.35 L333.95 783.33 L334.95 783.31 L335.70 783.29 L336.45 783.25 L336.95 783.23 L337.45 783.19 L337.70 783.17 L337.95 783.14 L338.20 783.11 L338.45 783.08 L338.70 783.03 L338.95 782.98 L339.20 782.92 L339.45 782.84 L339.70 782.75 L339.95 782.63 L340.20 782.48 L340.45 782.28 L340.70 782.01 L340.95 781.65 L341.20 781.13 L341.45 780.38 L341.70 779.23 L341.95 777.37 L342.20 774.16 L342.45 768.21 L342.55 764.44 L342.70 756.32 L342.80 748.65 L342.95 732.87 L343.10 713.51 L343.20 702.70 L343.30 698.39 L343.40 702.70 L343.45 707.55 L343.50 713.51 L343.65 732.87 L343.70 738.71 L343.80 748.65 L343.95 759.42 L344.05 764.44 L344.20 769.73 L344.45 774.96 L344.70 777.82 L344.95 779.50 L345.20 780.55 L345.45 781.25 L345.70 781.73 L345.95 782.07 L346.20 782.32 L346.45 782.51 L346.70 782.65 L346.95 782.77 L347.20 782.86 L347.45 782.93 L347.70 782.99 L347.95 783.04 L348.20 783.08 L348.45 783.11 L348.70 783.14 L348.95 783.17 L349.20 783.19 L349.70 783.22 L350.20 783.25 L350.70 783.27 L351.45 783.29 L352.70 783.32 L358.45 783.29 L359.20 783.26 L359.70 783.22 L359.95 783.20 L360.20 783.17 L360.45 783.14 L360.70 783.10 L360.95 783.04 L361.20 782.97 L361.45 782.87 L361.70 782.74 L361.95 782.55 L362.20 782.29 L362.45 781.88 L362.70 781.23 L362.95 780.12 L363.20 778.10 L363.35 776.05 L363.45 774.11 L363.60 769.94 L363.70 766.09 L363.75 763.83 L363.90 756.34 L363.95 754.03 L364.00 752.15 L364.10 750.49 L364.20 752.15 L364.30 756.34 L364.45 763.83 L364.60 769.94 L364.70 772.91 L364.85 776.05 L364.95 777.51 L365.20 779.82 L365.45 781.06 L365.70 781.78 L365.95 782.22 L366.20 782.51 L366.45 782.71 L366.70 782.85 L366.95 782.96 L367.20 783.03 L367.45 783.09 L367.70 783.14 L367.95 783.18 L368.20 783.21 L368.45 783.23 L368.95 783.27 L369.45 783.29 L370.20 783.32 L371.20 783.34 L372.95 783.36 L378.70 783.38 L394.95 783.36 L397.20 783.34 L398.70 783.32 L399.70 783.29 L400.45 783.26 L400.95 783.23 L401.45 783.20 L401.70 783.18 L401.95 783.16 L402.20 783.13 L402.45 783.10 L402.70 783.06 L402.95 783.01 L403.20 782.96 L403.45 782.90 L403.70 782.82 L403.95 782.72 L404.20 782.60 L404.45 782.44 L404.70 782.23 L404.95 781.96 L405.20 781.59 L405.45 781.07 L405.70 780.31 L405.95 779.17 L406.20 777.34 L406.45 774.24 L406.70 768.56 L406.85 762.81 L406.95 757.37 L407.10 745.67 L407.20 734.87 L407.25 728.53 L407.40 707.51 L407.45 701.04 L407.50 695.78 L407.60 691.10 L407.70 695.78 L407.80 707.51 L407.95 728.53 L408.10 745.67 L408.20 754.00 L408.35 762.81 L408.45 766.91 L408.70 773.37 L408.95 776.85 L409.20 778.87 L409.45 780.12 L409.70 780.94 L409.95 781.50 L410.20 781.90 L410.45 782.18 L410.70 782.40 L410.95 782.57 L411.20 782.70 L411.45 782.80 L411.70 782.88 L411.95 782.95 L412.20 783.00 L412.45 783.05 L412.70 783.09 L412.95 783.12 L413.20 783.15 L413.45 783.17 L413.70 783.20 L414.20 783.23 L414.70 783.26 L415.20 783.28 L415.95 783.30 L416.95 783.32 L418.45 783.34 L426.45 783.31 L426.95 783.29 L427.20 783.27 L427.45 783.25 L427.70 783.23 L427.95 783.19 L428.20 783.14 L428.45 783.07 L428.70 782.98 L428.95 782.83 L429.20 782.61 L429.45 782.24 L429.70 781.58 L429.95 780.31 L430.20 777.75 L430.35 775.19 L430.45 773.10 L430.50 772.04 L430.60 770.29 L430.70 769.59 L430.80 770.29 L430.90 772.04 L430.95 773.10 L431.05 775.19 L431.20 777.75 L431.45 780.31 L431.70 781.58 L431.95 782.24 L432.20 782.61 L432.45 782.84 L432.70 782.98 L432.95 783.08 L433.20 783.15 L433.45 783.20 L433.70 783.23 L433.95 783.26 L434.20 783.28 L434.70 783.31 L435.20 783.33 L436.20 783.36 L438.20 783.38 L470.20 783.35 L471.45 783.33 L472.20 783.30 L472.70 783.27 L472.95 783.25 L473.20 783.23 L473.45 783.20 L473.70 783.17 L473.95 783.12 L474.20 783.07 L474.45 782.99 L474.70 782.89 L474.95 782.75 L475.20 782.55 L475.45 782.25 L475.70 781.78 L475.95 781.01 L476.20 779.64 L476.45 777.02 L476.70 771.71 L476.85 766.40 L476.95 762.07 L477.00 759.88 L477.10 756.25 L477.20 754.80 L477.30 756.25 L477.40 759.88 L477.45 762.07 L477.55 766.40 L477.70 771.71 L477.95 777.02 L478.20 779.64 L478.45 781.01 L478.70 781.78 L478.95 782.25 L479.20 782.55 L479.45 782.75 L479.70 782.89 L479.95 782.99 L480.20 783.07 L480.45 783.12 L480.70 783.17 L480.95 783.20 L481.20 783.23 L481.45 783.25 L481.95 783.29 L482.45 783.31 L483.20 783.33 L484.45 783.36 L486.95 783.38 L499.45 783.36 L500.20 783.33 L500.45 783.31 L500.70 783.29 L500.95 783.26 L501.20 783.21 L501.45 783.13 L501.70 783.01 L501.95 782.80 L502.20 782.40 L502.25 782.28 L502.45 781.59 L502.50 781.35 L502.65 780.43 L502.70 780.05 L502.80 779.29 L502.90 778.65 L502.95 778.46 L503.00 778.40 L503.10 778.65 L503.20 779.29 L503.35 780.43 L503.45 781.08 L503.50 781.35 L503.70 782.15 L503.75 782.28 L503.95 782.67 L504.20 782.94 L504.45 783.09 L504.70 783.18 L504.95 783.24 L505.20 783.28 L505.45 783.30 L505.95 783.34 L506.70 783.36 L508.45 783.38 L548.95 783.36 L549.70 783.33 L550.20 783.30 L550.45 783.27 L550.70 783.23 L550.95 783.18 L551.20 783.10 L551.45 782.96 L551.70 782.73 L551.95 782.29 L552.05 782.02 L552.20 781.42 L552.30 780.87 L552.45 779.71 L552.60 778.30 L552.70 777.51 L552.80 777.20 L552.90 777.51 L552.95 777.87 L553.00 778.30 L553.15 779.71 L553.20 780.14 L553.30 780.87 L553.45 781.65 L553.55 782.02 L553.70 782.40 L553.95 782.78 L554.20 782.99 L554.45 783.12 L554.70 783.19 L554.95 783.24 L555.20 783.28 L555.45 783.30 L555.95 783.34 L556.70 783.36 L558.20 783.38 L561.70 783.39" fill="none" stroke="#0072BD" stroke-width="2.4" stroke-linejoin="round"/>
<path d="M88.70 667.50 L97.20 667.47 L97.95 667.44 L98.20 667.41 L98.45 667.36 L98.70 667.27 L98.75 667.25 L98.95 667.10 L99.00 667.05 L99.15 666.87 L99.20 666.80 L99.30 666.66 L99.40 666.54 L99.45 666.51 L99.50 666.50 L99.60 666.54 L99.70 666.66 L99.85 666.87 L99.95 667.00 L100.00 667.05 L100.20 667.22 L100.25 667.25 L100.45 667.33 L100.70 667.39 L100.95 667.43 L101.20 667.45 L101.70 667.47 L103.45 667.49 L124.95 667.47 L126.20 667.44 L126.70 667.42 L126.95 667.40 L127.20 667.38 L127.45 667.36 L127.70 667.32 L127.95 667.27 L128.20 667.20 L128.45 667.09 L128.70 666.91 L128.95 666.62 L129.20 666.09 L129.35 665.57 L129.45 665.09 L129.60 664.07 L129.70 663.17 L129.75 662.66 L129.90 661.02 L129.95 660.53 L130.00 660.14 L130.10 659.80 L130.20 660.14 L130.30 661.02 L130.45 662.66 L130.60 664.07 L130.70 664.79 L130.85 665.57 L130.95 665.94 L131.20 666.54 L131.45 666.87 L131.70 667.06 L131.95 667.18 L132.20 667.26 L132.45 667.31 L132.70 667.35 L132.95 667.38 L133.20 667.40 L133.70 667.43 L134.45 667.45 L135.95 667.48 L144.45 667.45 L144.70 667.44 L144.95 667.42 L145.20 667.38 L145.45 667.32 L145.70 667.20 L145.75 667.17 L145.95 666.98 L146.00 666.92 L146.15 666.68 L146.20 666.59 L146.30 666.40 L146.40 666.25 L146.45 666.21 L146.50 666.20 L146.60 666.25 L146.70 666.40 L146.85 666.68 L146.95 666.85 L147.00 666.92 L147.20 667.13 L147.25 667.17 L147.45 667.28 L147.70 667.36 L147.95 667.40 L148.20 667.43 L148.70 667.46 L149.70 667.48 L172.70 667.46 L173.70 667.44 L174.20 667.42 L174.70 667.38 L174.95 667.36 L175.20 667.33 L175.45 667.30 L175.70 667.25 L175.95 667.17 L176.20 667.07 L176.45 666.91 L176.70 666.67 L176.95 666.25 L177.20 665.50 L177.35 664.77 L177.45 664.08 L177.60 662.65 L177.70 661.37 L177.75 660.64 L177.90 658.32 L177.95 657.63 L178.00 657.08 L178.10 656.59 L178.20 657.08 L178.30 658.32 L178.45 660.64 L178.60 662.65 L178.70 663.66 L178.85 664.76 L178.95 665.29 L179.20 666.13 L179.45 666.60 L179.70 666.87 L179.95 667.04 L180.20 667.15 L180.45 667.23 L180.70 667.28 L180.95 667.32 L181.20 667.35 L181.45 667.38 L181.95 667.41 L182.45 667.43 L183.45 667.45 L189.45 667.42 L190.20 667.39 L190.45 667.37 L190.70 667.35 L190.95 667.33 L191.20 667.29 L191.45 667.24 L191.70 667.18 L191.95 667.09 L192.20 666.97 L192.45 666.77 L192.70 666.47 L192.95 665.95 L193.20 665.03 L193.35 664.11 L193.45 663.26 L193.60 661.49 L193.70 659.91 L193.75 659.01 L193.90 656.13 L193.95 655.28 L194.00 654.59 L194.10 653.99 L194.20 654.59 L194.30 656.13 L194.45 659.01 L194.60 661.49 L194.70 662.75 L194.85 664.11 L194.95 664.76 L195.20 665.81 L195.45 666.38 L195.70 666.72 L195.95 666.93 L196.20 667.07 L196.45 667.17 L196.70 667.23 L196.95 667.28 L197.20 667.32 L197.45 667.35 L197.70 667.37 L198.20 667.40 L198.70 667.42 L199.45 667.44 L200.95 667.47 L217.95 667.44 L219.70 667.42 L220.70 667.40 L221.45 667.38 L222.20 667.35 L222.70 667.32 L223.20 667.28 L223.45 667.26 L223.70 667.24 L223.95 667.21 L224.20 667.18 L224.45 667.14 L224.70 667.10 L224.95 667.04 L225.20 666.98 L225.45 666.90 L225.70 666.81 L225.95 666.70 L226.20 666.55 L226.45 666.37 L226.70 666.13 L226.95 665.81 L227.20 665.38 L227.45 664.77 L227.70 663.90 L227.95 662.58 L228.20 660.48 L228.45 656.97 L228.70 650.66 L228.85 644.41 L228.95 638.60 L229.10 626.49 L229.20 615.71 L229.25 609.55 L229.40 589.88 L229.45 584.06 L229.50 579.39 L229.60 575.29 L229.70 579.39 L229.80 589.88 L229.95 609.55 L230.10 626.49 L230.20 635.07 L230.35 644.40 L230.45 648.84 L230.70 656.00 L230.95 659.92 L231.20 662.23 L231.45 663.67 L231.70 664.62 L231.95 665.27 L232.20 665.73 L232.45 666.07 L232.70 666.32 L232.95 666.51 L233.20 666.66 L233.45 666.78 L233.70 666.88 L233.95 666.96 L234.20 667.02 L234.45 667.08 L234.70 667.12 L234.95 667.16 L235.20 667.19 L235.45 667.22 L235.70 667.24 L235.95 667.26 L236.45 667.30 L236.95 667.32 L237.70 667.35 L238.70 667.37 L241.70 667.34 L242.20 667.32 L242.45 667.30 L242.70 667.28 L242.95 667.25 L243.20 667.22 L243.45 667.17 L243.70 667.12 L243.95 667.04 L244.20 666.94 L244.45 666.79 L244.70 666.59 L244.95 666.28 L245.20 665.81 L245.45 665.03 L245.70 663.67 L245.95 661.14 L246.20 656.22 L246.35 651.57 L246.45 647.95 L246.50 646.18 L246.60 643.30 L246.70 642.17 L246.80 643.30 L246.90 646.18 L246.95 647.95 L247.05 651.57 L247.20 656.22 L247.45 661.14 L247.70 663.68 L247.95 665.04 L248.20 665.82 L248.45 666.29 L248.70 666.60 L248.95 666.80 L249.20 666.95 L249.45 667.05 L249.70 667.13 L249.95 667.19 L250.20 667.24 L250.45 667.27 L250.70 667.30 L250.95 667.33 L251.45 667.36 L251.95 667.39 L252.70 667.41 L253.70 667.43 L255.70 667.45 L269.20 667.43 L270.95 667.41 L272.20 667.39 L273.20 667.36 L273.95 667.34 L274.45 667.32 L274.95 667.29 L275.45 667.26 L275.95 667.22 L276.20 667.20 L276.45 667.18 L276.70 667.15 L276.95 667.12 L277.20 667.08 L277.45 667.04 L277.70 667.00 L277.95 666.95 L278.20 666.89 L278.45 666.82 L278.70 666.73 L278.95 666.64 L279.20 666.52 L279.45 666.39 L279.70 666.22 L279.95 666.02 L280.20 665.76 L280.45 665.44 L280.70 665.03 L280.95 664.50 L281.20 663.79 L281.45 662.82 L281.70 661.46 L281.95 659.46 L282.20 656.43 L282.45 651.57 L282.70 643.31 L282.95 628.26 L283.05 618.92 L283.20 599.28 L283.30 581.23 L283.45 545.58 L283.60 504.19 L283.70 482.11 L283.80 473.49 L283.90 482.11 L283.95 491.94 L284.00 504.19 L284.15 545.58 L284.20 558.55 L284.30 581.23 L284.45 606.71 L284.55 618.92 L284.70 632.08 L284.95 645.36 L285.20 652.75 L285.45 657.15 L285.70 659.93 L285.95 661.77 L286.20 663.04 L286.45 663.95 L286.70 664.62 L286.95 665.12 L287.20 665.51 L287.45 665.81 L287.70 666.06 L287.95 666.25 L288.20 666.41 L288.45 666.54 L288.70 666.65 L288.95 666.75 L289.20 666.83 L289.45 666.89 L289.70 666.95 L289.95 667.00 L290.20 667.05 L290.45 667.08 L290.70 667.12 L290.95 667.15 L291.20 667.17 L291.45 667.20 L291.70 667.22 L292.20 667.25 L292.70 667.28 L293.20 667.31 L293.95 667.33 L294.95 667.36 L299.20 667.33 L299.70 667.30 L299.95 667.28 L300.20 667.25 L300.45 667.21 L300.70 667.17 L300.95 667.11 L301.20 667.03 L301.45 666.92 L301.70 666.76 L301.95 666.53 L302.20 666.18 L302.45 665.62 L302.70 664.67 L302.95 662.93 L303.05 661.86 L303.20 659.59 L303.30 657.51 L303.45 653.39 L303.60 648.61 L303.70 646.06 L303.80 645.07 L303.90 646.06 L303.95 647.20 L304.00 648.61 L304.15 653.39 L304.20 654.89 L304.30 657.51 L304.45 660.45 L304.55 661.86 L304.70 663.38 L304.95 664.92 L305.20 665.77 L305.45 666.28 L305.70 666.60 L305.95 666.81 L306.20 666.96 L306.45 667.07 L306.70 667.14 L306.95 667.20 L307.20 667.25 L307.45 667.28 L307.70 667.31 L307.95 667.33 L308.45 667.37 L308.95 667.39 L309.70 667.42 L310.70 667.44 L312.70 667.46 L334.20 667.44 L335.45 667.42 L336.45 667.39 L337.20 667.36 L337.70 667.34 L338.20 667.31 L338.45 667.29 L338.70 667.26 L338.95 667.24 L339.20 667.20 L339.45 667.17 L339.70 667.12 L339.95 667.07 L340.20 667.00 L340.45 666.92 L340.70 666.82 L340.95 666.69 L341.20 666.53 L341.45 666.31 L341.70 666.02 L341.95 665.62 L342.20 665.05 L342.45 664.19 L342.70 662.87 L342.95 660.71 L343.20 656.93 L343.45 649.86 L343.70 636.19 L343.85 623.25 L343.95 613.17 L344.00 608.23 L344.10 600.22 L344.20 597.09 L344.30 600.22 L344.40 608.23 L344.45 613.17 L344.55 623.25 L344.70 636.19 L344.95 649.86 L345.20 656.93 L345.45 660.71 L345.70 662.87 L345.95 664.19 L346.20 665.04 L346.45 665.62 L346.70 666.02 L346.95 666.31 L347.20 666.53 L347.45 666.69 L347.70 666.82 L347.95 666.92 L348.20 667.00 L348.45 667.06 L348.70 667.12 L348.95 667.16 L349.20 667.20 L349.45 667.23 L349.70 667.26 L349.95 667.28 L350.45 667.31 L350.95 667.34 L351.45 667.36 L352.20 667.39 L353.45 667.41 L358.70 667.39 L359.45 667.36 L359.95 667.33 L360.20 667.31 L360.45 667.29 L360.70 667.27 L360.95 667.24 L361.20 667.20 L361.45 667.15 L361.70 667.09 L361.95 667.01 L362.20 666.91 L362.45 666.78 L362.70 666.60 L362.95 666.35 L363.20 665.99 L363.45 665.44 L363.70 664.57 L363.95 663.10 L364.20 660.48 L364.35 657.87 L364.45 655.46 L364.60 650.41 L364.70 645.92 L364.75 643.36 L364.90 635.16 L364.95 632.74 L365.00 630.79 L365.10 629.09 L365.20 630.79 L365.30 635.16 L365.45 643.36 L365.60 650.41 L365.70 653.99 L365.85 657.87 L365.95 659.72 L366.20 662.70 L366.45 664.34 L366.70 665.30 L366.95 665.90 L367.20 666.29 L367.45 666.56 L367.70 666.76 L367.95 666.90 L368.20 667.00 L368.45 667.08 L368.70 667.15 L368.95 667.20 L369.20 667.24 L369.45 667.27 L369.70 667.30 L369.95 667.32 L370.45 667.36 L370.95 667.38 L371.70 667.41 L372.70 667.43 L374.20 667.45 L377.70 667.47 L397.20 667.45 L398.95 667.43 L400.20 667.41 L400.95 667.38 L401.45 667.36 L401.95 667.34 L402.45 667.30 L402.70 667.28 L402.95 667.26 L403.20 667.23 L403.45 667.20 L403.70 667.16 L403.95 667.11 L404.20 667.05 L404.45 666.98 L404.70 666.90 L404.95 666.79 L405.20 666.66 L405.45 666.48 L405.70 666.25 L405.95 665.94 L406.20 665.50 L406.45 664.87 L406.70 663.94 L406.95 662.47 L407.20 660.03 L407.45 655.71 L407.65 649.64 L407.70 647.55 L407.90 635.79 L407.95 631.84 L408.05 622.69 L408.20 607.48 L408.30 599.36 L408.40 596.20 L408.45 597.01 L408.50 599.36 L408.60 607.48 L408.70 617.64 L408.75 622.69 L408.90 635.79 L408.95 639.31 L409.15 649.64 L409.20 651.47 L409.45 657.76 L409.70 661.16 L409.95 663.14 L410.20 664.36 L410.45 665.15 L410.70 665.69 L410.95 666.07 L411.20 666.35 L411.45 666.56 L411.70 666.71 L411.95 666.84 L412.20 666.93 L412.45 667.01 L412.70 667.08 L412.95 667.13 L413.20 667.17 L413.45 667.21 L413.70 667.24 L413.95 667.27 L414.20 667.29 L414.70 667.33 L415.20 667.35 L415.70 667.37 L416.45 667.40 L417.45 667.42 L419.20 667.44 L426.20 667.42 L426.95 667.40 L427.45 667.37 L427.70 667.35 L427.95 667.33 L428.20 667.30 L428.45 667.26 L428.70 667.21 L428.95 667.15 L429.20 667.06 L429.45 666.94 L429.70 666.76 L429.95 666.50 L430.20 666.08 L430.45 665.37 L430.70 664.09 L430.85 662.83 L430.95 661.66 L431.10 659.22 L431.20 657.05 L431.25 655.80 L431.40 651.83 L431.45 650.66 L431.50 649.72 L431.60 648.89 L431.70 649.72 L431.80 651.83 L431.95 655.80 L432.10 659.22 L432.20 660.95 L432.35 662.83 L432.45 663.73 L432.70 665.17 L432.95 665.97 L433.20 666.43 L433.45 666.72 L433.70 666.91 L433.95 667.04 L434.20 667.14 L434.45 667.21 L434.70 667.26 L434.95 667.30 L435.20 667.33 L435.45 667.35 L435.95 667.39 L436.45 667.41 L437.20 667.44 L438.45 667.46 L441.20 667.48 L470.95 667.46 L472.20 667.44 L472.95 667.41 L473.45 667.39 L473.95 667.35 L474.20 667.33 L474.45 667.30 L474.70 667.26 L474.95 667.21 L475.20 667.15 L475.45 667.06 L475.70 666.95 L475.95 666.78 L476.20 666.54 L476.45 666.17 L476.70 665.56 L476.95 664.52 L477.20 662.60 L477.25 662.04 L477.45 658.88 L477.50 657.80 L477.65 653.80 L477.70 652.25 L477.80 649.15 L477.90 646.67 L477.95 645.95 L478.00 645.70 L478.10 646.67 L478.20 649.15 L478.35 653.80 L478.45 656.60 L478.50 657.80 L478.70 661.40 L478.75 662.04 L478.95 663.90 L479.20 665.22 L479.45 665.96 L479.70 666.41 L479.95 666.70 L480.20 666.89 L480.45 667.02 L480.70 667.12 L480.95 667.19 L481.20 667.24 L481.45 667.28 L481.70 667.32 L481.95 667.34 L482.20 667.36 L482.70 667.39 L483.20 667.42 L483.95 667.44 L485.20 667.46 L488.20 667.48 L499.45 667.46 L500.20 667.44 L500.70 667.41 L500.95 667.39 L501.20 667.37 L501.45 667.33 L501.70 667.29 L501.95 667.21 L502.20 667.10 L502.45 666.91 L502.70 666.58 L502.95 665.97 L503.20 664.78 L503.35 663.66 L503.45 662.79 L503.50 662.36 L503.60 661.67 L503.70 661.40 L503.80 661.67 L503.90 662.36 L503.95 662.79 L504.05 663.66 L504.20 664.79 L504.45 665.97 L504.70 666.58 L504.95 666.91 L505.20 667.10 L505.45 667.21 L505.70 667.29 L505.95 667.34 L506.20 667.37 L506.45 667.40 L506.95 667.43 L507.70 667.46 L508.95 667.48 L516.45 667.50 L548.45 667.47 L549.70 667.45 L550.20 667.43 L550.70 667.39 L550.95 667.37 L551.20 667.33 L551.45 667.28 L551.70 667.19 L551.95 667.07 L552.20 666.86 L552.45 666.49 L552.65 665.97 L552.70 665.79 L552.90 664.79 L552.95 664.45 L553.05 663.67 L553.20 662.36 L553.30 661.67 L553.40 661.40 L553.45 661.47 L553.50 661.67 L553.60 662.36 L553.70 663.23 L553.75 663.67 L553.90 664.79 L553.95 665.09 L554.15 665.97 L554.20 666.13 L554.45 666.67 L554.70 666.96 L554.95 667.13 L555.20 667.23 L555.45 667.30 L555.70 667.35 L555.95 667.38 L556.20 667.40 L556.70 667.43 L557.45 667.46 L558.95 667.48 L561.70 667.49" fill="none" stroke="#A2142F" stroke-width="2.4" stroke-linejoin="round"/>
<path d="M88.7 783.4V468.2H561.8V783.4" fill="none" stroke="#262626" stroke-width="1.4"/>
<path d="M403.7 497.3H446.4" stroke="#0072BD" stroke-width="2.3"/>
<path d="M403.7 527.3H446.4" stroke="#A2142F" stroke-width="2.3"/>
<text x="450" y="506.2" font-size="23.2">bare</text>
<text x="450" y="536.2" font-size="23.2">with NPs</text>
<text x="87.9" y="822" font-size="28.3" text-anchor="middle">450</text>
<text x="245.3" y="822" font-size="28.3" text-anchor="middle">500</text>
<text x="403.4" y="822" font-size="28.3" text-anchor="middle">550</text>
<text x="560.7" y="822" font-size="28.3" text-anchor="middle">600</text>
<text x="324.9" y="862.1" font-size="32.1" text-anchor="middle">wavelength (nm)</text>
<text transform="translate(71.9 625.3) rotate(-90)" font-size="32.3" text-anchor="middle">PSD (arb. units)</text>
<text x="0.8" y="478.3" font-size="38.5" font-weight="bold" letter-spacing="0.3">(c)</text>
<path d="M846.6 788.0v-3M846.6 467.0v3" stroke="#262626" stroke-width="1.3" fill="none"/>
<path d="M739.80 787.95 L747.80 787.93 L753.05 787.91 L756.80 787.89 L759.55 787.87 L761.80 787.85 L763.55 787.83 L765.05 787.80 L766.30 787.78 L767.55 787.76 L768.55 787.73 L769.55 787.71 L770.30 787.69 L771.05 787.66 L771.80 787.63 L772.30 787.61 L772.80 787.59 L773.30 787.57 L773.80 787.54 L774.30 787.51 L774.80 787.48 L775.30 787.45 L775.80 787.41 L776.05 787.39 L776.30 787.37 L776.55 787.35 L776.80 787.33 L777.05 787.30 L777.30 787.28 L777.55 787.25 L777.80 787.22 L778.05 787.19 L778.30 787.16 L778.55 787.13 L778.80 787.09 L779.05 787.06 L779.30 787.02 L779.55 786.98 L779.80 786.93 L780.05 786.89 L780.30 786.84 L780.55 786.78 L780.80 786.73 L781.05 786.67 L781.30 786.60 L781.55 786.53 L781.80 786.46 L782.05 786.38 L782.30 786.29 L782.55 786.20 L782.80 786.10 L783.05 785.99 L783.30 785.87 L783.55 785.75 L783.80 785.61 L784.05 785.46 L784.30 785.30 L784.55 785.12 L784.80 784.92 L785.05 784.71 L785.30 784.47 L785.55 784.21 L785.80 783.92 L786.05 783.59 L786.30 783.23 L786.55 782.83 L786.80 782.38 L787.05 781.86 L787.30 781.29 L787.55 780.63 L787.80 779.88 L788.05 779.02 L788.30 778.02 L788.55 776.87 L788.80 775.52 L789.05 773.94 L789.30 772.07 L789.55 769.84 L789.80 767.17 L790.05 763.95 L790.30 760.02 L790.55 755.19 L790.80 749.23 L791.05 741.82 L791.30 732.56 L791.55 720.99 L791.80 706.61 L792.05 689.01 L792.30 668.17 L792.55 644.91 L792.65 635.38 L792.80 621.51 L792.90 612.98 L793.05 602.02 L793.20 594.23 L793.30 591.24 L793.40 590.22 L793.50 591.22 L793.55 592.46 L793.60 594.18 L793.75 601.93 L793.80 605.27 L793.90 612.86 L794.05 625.88 L794.15 635.20 L794.30 649.45 L794.55 672.30 L794.80 692.45 L795.05 709.30 L795.30 723.00 L795.55 733.97 L795.80 742.72 L796.05 749.69 L796.30 755.26 L796.55 759.73 L796.80 763.32 L797.05 766.20 L797.30 768.51 L797.55 770.35 L797.80 771.78 L798.05 772.86 L798.30 773.62 L798.55 774.09 L798.80 774.29 L799.05 774.24 L799.30 773.99 L799.55 773.61 L799.65 773.45 L799.80 773.22 L799.90 773.09 L800.05 772.97 L800.20 772.95 L800.30 773.01 L800.40 773.14 L800.50 773.33 L800.55 773.45 L800.60 773.59 L800.75 774.08 L800.80 774.27 L800.90 774.69 L801.05 775.39 L801.15 775.88 L801.30 776.64 L801.55 777.91 L801.80 779.10 L802.05 780.17 L802.30 781.10 L802.55 781.89 L802.80 782.57 L803.05 783.14 L803.30 783.63 L803.55 784.05 L803.80 784.41 L804.05 784.72 L804.30 784.99 L804.55 785.22 L804.80 785.43 L805.05 785.62 L805.30 785.78 L805.55 785.92 L805.80 786.06 L806.05 786.17 L806.30 786.28 L806.55 786.38 L806.80 786.47 L807.05 786.55 L807.30 786.62 L807.55 786.69 L807.80 786.75 L808.05 786.81 L808.30 786.87 L808.55 786.92 L808.80 786.96 L809.05 787.01 L809.30 787.05 L809.55 787.09 L809.80 787.12 L810.05 787.16 L810.30 787.19 L810.55 787.22 L810.80 787.24 L811.05 787.27 L811.30 787.30 L811.55 787.32 L811.80 787.34 L812.05 787.36 L812.30 787.38 L812.80 787.42 L813.30 787.45 L813.80 787.48 L814.30 787.51 L814.80 787.54 L815.30 787.56 L815.80 787.58 L816.55 787.61 L817.30 787.63 L818.05 787.66 L819.05 787.68 L820.05 787.70 L821.30 787.72 L822.80 787.75 L824.80 787.77 L828.05 787.79 L839.30 787.77 L841.55 787.74 L843.30 787.72 L844.80 787.70 L846.05 787.67 L847.05 787.65 L848.05 787.62 L848.80 787.60 L849.55 787.58 L850.30 787.56 L851.05 787.53 L851.55 787.51 L852.05 787.48 L852.55 787.46 L853.05 787.44 L853.55 787.41 L854.05 787.38 L854.55 787.35 L855.05 787.32 L855.55 787.28 L856.05 787.25 L856.30 787.23 L856.55 787.21 L856.80 787.19 L857.05 787.17 L857.30 787.14 L857.55 787.12 L857.80 787.10 L858.05 787.07 L858.30 787.05 L858.55 787.02 L858.80 786.99 L859.05 786.96 L859.30 786.93 L859.55 786.90 L859.80 786.87 L860.05 786.84 L860.30 786.81 L860.55 786.77 L860.80 786.74 L861.05 786.70 L861.30 786.66 L861.55 786.62 L861.80 786.58 L862.05 786.54 L862.30 786.50 L862.55 786.45 L862.80 786.41 L863.05 786.36 L863.30 786.32 L863.55 786.27 L863.80 786.22 L864.05 786.17 L864.30 786.11 L864.55 786.06 L864.80 786.01 L865.05 785.96 L865.30 785.90 L865.55 785.85 L865.80 785.79 L866.05 785.73 L866.30 785.68 L866.55 785.62 L866.80 785.57 L867.05 785.51 L867.30 785.46 L867.55 785.40 L867.80 785.35 L868.05 785.30 L868.30 785.25 L868.55 785.20 L868.80 785.16 L869.05 785.12 L869.30 785.08 L869.55 785.04 L869.80 785.01 L870.05 784.98 L870.30 784.95 L870.55 784.93 L870.95 784.90 L872.80 784.93 L873.05 784.95 L873.30 784.97 L873.55 785.00 L873.80 785.04 L874.05 785.07 L874.30 785.11 L874.55 785.15 L874.80 785.20 L875.05 785.24 L875.30 785.29 L875.55 785.34 L875.80 785.40 L876.05 785.45 L876.30 785.50 L876.55 785.56 L876.80 785.62 L877.05 785.67 L877.30 785.73 L877.55 785.78 L877.80 785.84 L878.05 785.90 L878.30 785.95 L878.55 786.01 L878.80 786.06 L879.05 786.11 L879.30 786.16 L879.55 786.22 L879.80 786.27 L880.05 786.31 L880.30 786.36 L880.55 786.41 L880.80 786.45 L881.05 786.50 L881.30 786.54 L881.55 786.58 L881.80 786.63 L882.05 786.66 L882.30 786.70 L882.55 786.74 L882.80 786.78 L883.05 786.81 L883.30 786.85 L883.55 786.88 L883.80 786.91 L884.05 786.94 L884.30 786.97 L884.55 787.00 L884.80 787.03 L885.05 787.06 L885.30 787.08 L885.55 787.11 L885.80 787.13 L886.05 787.15 L886.30 787.18 L886.55 787.20 L886.80 787.22 L887.05 787.24 L887.30 787.26 L887.80 787.30 L888.30 787.34 L888.80 787.37 L889.30 787.40 L889.80 787.43 L890.30 787.46 L890.80 787.48 L891.30 787.51 L891.80 787.53 L892.30 787.55 L892.80 787.57 L893.55 787.60 L894.30 787.62 L895.05 787.65 L895.80 787.67 L896.80 787.70 L897.80 787.72 L898.80 787.74 L900.05 787.76 L901.30 787.78 L902.80 787.80 L904.55 787.83 L906.55 787.85 L909.05 787.87 L912.05 787.89 L916.05 787.91 L921.55 787.93 L929.80 787.95 L944.80 787.97 L954.55 787.98" fill="none" stroke="#0072BD" stroke-width="2.5" stroke-linejoin="round"/>
<path d="M739.80 669.86 L758.30 669.84 L769.30 669.82 L776.80 669.80 L782.55 669.78 L786.80 669.76 L790.30 669.74 L793.30 669.72 L795.80 669.69 L797.80 669.67 L799.55 669.65 L801.30 669.63 L802.80 669.61 L804.05 669.59 L805.30 669.57 L806.30 669.54 L807.30 669.52 L808.30 669.50 L809.30 669.47 L810.05 669.45 L810.80 669.43 L811.55 669.40 L812.30 669.37 L813.05 669.34 L813.55 669.32 L814.05 669.30 L814.55 669.27 L815.05 669.25 L815.55 669.22 L816.05 669.19 L816.55 669.16 L817.05 669.13 L817.55 669.09 L818.05 669.05 L818.30 669.03 L818.55 669.01 L818.80 668.99 L819.05 668.97 L819.30 668.95 L819.55 668.92 L819.80 668.90 L820.05 668.87 L820.30 668.85 L820.55 668.82 L820.80 668.79 L821.05 668.76 L821.30 668.73 L821.55 668.70 L821.80 668.67 L822.05 668.63 L822.30 668.60 L822.55 668.56 L822.80 668.52 L823.05 668.48 L823.30 668.44 L823.55 668.39 L823.80 668.35 L824.05 668.30 L824.30 668.25 L824.55 668.20 L824.80 668.14 L825.05 668.08 L825.30 668.02 L825.55 667.96 L825.80 667.89 L826.05 667.82 L826.30 667.75 L826.55 667.67 L826.80 667.59 L827.05 667.50 L827.30 667.41 L827.55 667.31 L827.80 667.21 L828.05 667.11 L828.30 666.99 L828.55 666.87 L828.80 666.74 L829.05 666.61 L829.30 666.46 L829.55 666.31 L829.80 666.15 L830.05 665.97 L830.30 665.79 L830.55 665.59 L830.80 665.38 L831.05 665.15 L831.30 664.91 L831.55 664.64 L831.80 664.36 L832.05 664.06 L832.30 663.73 L832.55 663.38 L832.80 662.99 L833.05 662.57 L833.30 662.12 L833.55 661.63 L833.80 661.09 L834.05 660.50 L834.30 659.86 L834.55 659.15 L834.80 658.37 L835.05 657.51 L835.30 656.56 L835.55 655.51 L835.80 654.34 L836.05 653.03 L836.30 651.57 L836.55 649.93 L836.80 648.09 L837.05 646.01 L837.30 643.66 L837.55 640.99 L837.80 637.95 L838.05 634.49 L838.30 630.52 L838.55 625.96 L838.80 620.73 L839.05 614.71 L839.30 607.78 L839.55 599.82 L839.80 590.71 L840.05 580.34 L840.30 568.66 L840.55 555.70 L840.80 541.64 L841.05 526.86 L841.30 511.99 L841.55 497.99 L841.65 492.89 L841.80 486.02 L841.90 482.07 L842.05 477.31 L842.20 474.10 L842.30 472.91 L842.40 472.50 L842.50 472.90 L842.55 473.39 L842.60 474.08 L842.75 477.27 L842.80 478.70 L842.90 482.03 L843.05 488.13 L843.15 492.82 L843.30 500.59 L843.55 514.82 L843.80 529.71 L844.05 544.37 L844.30 558.20 L844.55 570.88 L844.80 582.27 L845.05 592.34 L845.30 601.17 L845.55 608.87 L845.80 615.56 L846.05 621.36 L846.30 626.39 L846.55 630.75 L846.80 634.53 L847.05 637.81 L847.30 640.66 L847.55 643.13 L847.80 645.27 L848.05 647.11 L848.30 648.69 L848.55 650.03 L848.80 651.14 L849.05 652.03 L849.30 652.73 L849.55 653.23 L849.80 653.57 L850.05 653.78 L850.25 653.89 L850.30 653.92 L850.50 654.04 L850.55 654.08 L850.65 654.17 L850.80 654.37 L850.90 654.54 L851.00 654.75 L851.05 654.86 L851.10 654.99 L851.20 655.28 L851.30 655.60 L851.35 655.77 L851.50 656.32 L851.55 656.52 L851.75 657.35 L851.80 657.56 L852.05 658.62 L852.30 659.64 L852.55 660.58 L852.80 661.43 L853.05 662.19 L853.30 662.87 L853.55 663.47 L853.80 664.03 L854.05 664.54 L854.30 665.02 L854.55 665.48 L854.80 665.93 L855.05 666.37 L855.30 666.81 L855.55 667.23 L855.80 667.62 L855.85 667.69 L856.05 667.96 L856.10 668.02 L856.25 668.18 L856.30 668.22 L856.40 668.30 L856.50 668.36 L856.55 668.39 L856.60 668.40 L856.70 668.43 L856.80 668.43 L856.95 668.41 L857.05 668.37 L857.10 668.35 L857.30 668.23 L857.35 668.19 L857.55 668.03 L857.80 667.79 L858.05 667.54 L858.30 667.30 L858.55 667.06 L858.80 666.82 L859.05 666.59 L859.30 666.37 L859.55 666.13 L859.80 665.90 L860.05 665.65 L860.30 665.39 L860.55 665.13 L860.80 664.86 L861.05 664.58 L861.30 664.31 L861.55 664.05 L861.80 663.81 L862.05 663.60 L862.15 663.53 L862.30 663.44 L862.40 663.39 L862.55 663.34 L862.70 663.30 L863.10 663.34 L863.25 663.39 L863.30 663.42 L863.40 663.47 L863.55 663.58 L863.65 663.65 L863.80 663.79 L864.05 664.04 L864.30 664.32 L864.55 664.62 L864.80 664.93 L865.05 665.23 L865.30 665.53 L865.55 665.81 L865.80 666.07 L866.05 666.32 L866.30 666.55 L866.55 666.76 L866.80 666.95 L867.05 667.12 L867.30 667.28 L867.55 667.43 L867.80 667.56 L868.05 667.68 L868.30 667.79 L868.55 667.89 L868.80 667.98 L869.05 668.06 L869.30 668.13 L869.55 668.20 L869.80 668.27 L870.05 668.32 L870.30 668.38 L870.55 668.43 L870.80 668.47 L871.05 668.51 L871.30 668.55 L871.55 668.59 L871.80 668.62 L872.05 668.65 L872.30 668.68 L872.55 668.71 L872.80 668.73 L873.05 668.75 L873.30 668.78 L873.80 668.81 L874.30 668.85 L874.80 668.87 L875.30 668.90 L875.80 668.92 L876.55 668.95 L877.55 668.97 L879.05 668.99 L883.55 668.97 L884.55 668.95 L885.55 668.92 L886.30 668.90 L887.05 668.88 L887.80 668.85 L888.30 668.83 L888.80 668.80 L889.30 668.78 L889.80 668.75 L890.30 668.73 L890.80 668.70 L891.30 668.67 L891.80 668.63 L892.30 668.60 L892.80 668.56 L893.30 668.52 L893.55 668.50 L893.80 668.48 L894.05 668.46 L894.30 668.44 L894.55 668.42 L894.80 668.39 L895.05 668.37 L895.30 668.35 L895.55 668.32 L895.80 668.30 L896.05 668.27 L896.30 668.24 L896.55 668.22 L896.80 668.19 L897.05 668.16 L897.30 668.13 L897.55 668.10 L897.80 668.07 L898.05 668.03 L898.30 668.00 L898.55 667.97 L898.80 667.93 L899.05 667.90 L899.30 667.86 L899.55 667.82 L899.80 667.78 L900.05 667.75 L900.30 667.71 L900.55 667.66 L900.80 667.62 L901.05 667.58 L901.30 667.53 L901.55 667.49 L901.80 667.44 L902.05 667.40 L902.30 667.35 L902.55 667.30 L902.80 667.25 L903.05 667.20 L903.30 667.14 L903.55 667.09 L903.80 667.04 L904.05 666.98 L904.30 666.92 L904.55 666.87 L904.80 666.81 L905.05 666.75 L905.30 666.69 L905.55 666.62 L905.80 666.56 L906.05 666.50 L906.30 666.43 L906.55 666.36 L906.80 666.30 L907.05 666.23 L907.30 666.16 L907.55 666.09 L907.80 666.02 L908.05 665.95 L908.30 665.88 L908.55 665.81 L908.80 665.73 L909.05 665.66 L909.30 665.59 L909.55 665.51 L909.80 665.44 L910.05 665.37 L910.30 665.29 L910.55 665.22 L910.80 665.15 L911.05 665.08 L911.30 665.01 L911.55 664.94 L911.80 664.87 L912.05 664.80 L912.30 664.73 L912.55 664.67 L912.80 664.61 L913.05 664.54 L913.30 664.48 L913.55 664.43 L913.80 664.37 L914.05 664.32 L914.30 664.27 L914.55 664.23 L914.80 664.18 L915.05 664.14 L915.30 664.10 L915.55 664.07 L915.80 664.04 L916.05 664.02 L916.30 663.99 L916.80 663.96 L918.80 663.99 L919.05 664.01 L919.30 664.04 L919.55 664.07 L919.80 664.10 L920.05 664.14 L920.30 664.18 L920.55 664.22 L920.80 664.27 L921.05 664.31 L921.30 664.37 L921.55 664.42 L921.80 664.48 L922.05 664.54 L922.30 664.60 L922.55 664.66 L922.80 664.73 L923.05 664.79 L923.30 664.86 L923.55 664.93 L923.80 665.00 L924.05 665.07 L924.30 665.15 L924.55 665.22 L924.80 665.29 L925.05 665.37 L925.30 665.44 L925.55 665.52 L925.80 665.59 L926.05 665.67 L926.30 665.74 L926.55 665.81 L926.80 665.89 L927.05 665.96 L927.30 666.03 L927.55 666.10 L927.80 666.17 L928.05 666.24 L928.30 666.31 L928.55 666.38 L928.80 666.45 L929.05 666.52 L929.30 666.58 L929.55 666.65 L929.80 666.71 L930.05 666.77 L930.30 666.84 L930.55 666.90 L930.80 666.96 L931.05 667.02 L931.30 667.07 L931.55 667.13 L931.80 667.19 L932.05 667.24 L932.30 667.29 L932.55 667.34 L932.80 667.40 L933.05 667.45 L933.30 667.49 L933.55 667.54 L933.80 667.59 L934.05 667.64 L934.30 667.68 L934.55 667.72 L934.80 667.77 L935.05 667.81 L935.30 667.85 L935.55 667.89 L935.80 667.93 L936.05 667.97 L936.30 668.01 L936.55 668.04 L936.80 668.08 L937.05 668.11 L937.30 668.15 L937.55 668.18 L937.80 668.21 L938.05 668.25 L938.30 668.28 L938.55 668.31 L938.80 668.34 L939.05 668.37 L939.30 668.39 L939.55 668.42 L939.80 668.45 L940.05 668.48 L940.30 668.50 L940.55 668.53 L940.80 668.55 L941.05 668.58 L941.30 668.60 L941.55 668.62 L941.80 668.65 L942.05 668.67 L942.30 668.69 L942.55 668.71 L942.80 668.73 L943.05 668.75 L943.55 668.79 L944.05 668.83 L944.55 668.86 L945.05 668.90 L945.55 668.93 L946.05 668.96 L946.55 668.99 L947.05 669.02 L947.55 669.05 L948.05 669.07 L948.55 669.10 L949.05 669.12 L949.55 669.15 L950.05 669.17 L950.55 669.19 L951.05 669.21 L951.80 669.24 L952.55 669.27 L953.30 669.30 L954.05 669.32 L954.55 669.34" fill="none" stroke="#A2142F" stroke-width="2.5" stroke-linejoin="round"/>
<path d="M739.8 788.0V467.0H954.6V788.0" fill="none" stroke="#262626" stroke-width="1.4"/>
<text x="738.4" y="827.8" font-size="28.5" text-anchor="middle">511.5</text>
<text x="846.0" y="827.8" font-size="28.5" text-anchor="middle">512</text>
<text x="952.7" y="827.8" font-size="28.5" text-anchor="middle">512.5</text>
<text x="847.2" y="866.3" font-size="32.35" text-anchor="middle">wavelength (nm)</text>
<text transform="translate(723.5 628.5) rotate(-90)" font-size="32.5" text-anchor="middle">PSD (arb. units)</text>
<text x="670.6" y="478.5" font-size="38.5" font-weight="bold" letter-spacing="0.3">(d)</text>
</svg>
</body></html>
